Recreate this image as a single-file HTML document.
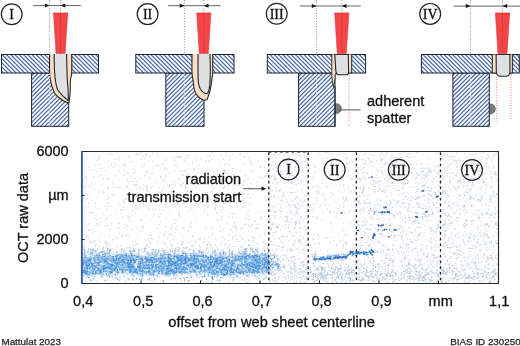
<!DOCTYPE html>
<html><head><meta charset="utf-8"><style>
html,body{margin:0;padding:0;background:#fff;width:520px;height:346px;overflow:hidden}
svg{display:block}
.rn{font-family:"Liberation Serif",serif;font-size:14px;fill:#111;stroke:#111;stroke-width:0.3px}
.ax{font-family:"Liberation Sans",sans-serif;font-size:14.5px;fill:#111;stroke:#111;stroke-width:0.3px}
.lb{font-family:"Liberation Sans",sans-serif;font-size:14.5px;fill:#111;stroke:#111;stroke-width:0.3px}
.ft{font-family:"Liberation Sans",sans-serif;font-size:9.8px;fill:#222;stroke:#222;stroke-width:0.25px}
</style></head><body>
<svg width="520" height="346" viewBox="0 0 520 346">
<defs>
</defs>
<circle cx="11.7" cy="14.3" r="10.4" fill="none" stroke="#222" stroke-width="1.2"/>
<text x="11.7" y="19.1" text-anchor="middle" class="rn">I</text>
<clipPath id="cIw"><rect x="31.6" y="73" width="37.1" height="53.3"/></clipPath>
<rect x="31.6" y="73" width="37.1" height="53.3" fill="#f5faff"/>
<g clip-path="url(#cIw)"><path d="M31,72L-24.3,127.3M35.25,72L-20.05,127.3M39.5,72L-15.8,127.3M43.75,72L-11.55,127.3M48,72L-7.3,127.3M52.25,72L-3.05,127.3M56.5,72L1.2,127.3M60.75,72L5.45,127.3M65,72L9.7,127.3M69.25,72L13.95,127.3M73.5,72L18.2,127.3M77.75,72L22.45,127.3M82,72L26.7,127.3M86.25,72L30.95,127.3M90.5,72L35.2,127.3M94.75,72L39.45,127.3M99,72L43.7,127.3M103.25,72L47.95,127.3M107.5,72L52.2,127.3M111.75,72L56.45,127.3M116,72L60.7,127.3M120.25,72L64.95,127.3M124.5,72L69.2,127.3" stroke="#3f5d9c" stroke-width="1.1" fill="none"/></g>
<rect x="31.6" y="73" width="37.1" height="53.3" fill="none" stroke="#1c2233" stroke-width="1"/>
<clipPath id="cIp"><rect x="1.5" y="54.5" width="97" height="18.5"/></clipPath>
<rect x="1.5" y="54.5" width="97" height="18.5" fill="#f5faff"/>
<g clip-path="url(#cIp)"><path d="M-20.2,53.5L0.3,74M-15.95,53.5L4.55,74M-11.7,53.5L8.8,74M-7.45,53.5L13.05,74M-3.2,53.5L17.3,74M1.05,53.5L21.55,74M5.3,53.5L25.8,74M9.55,53.5L30.05,74M13.8,53.5L34.3,74M18.05,53.5L38.55,74M22.3,53.5L42.8,74M26.55,53.5L47.05,74M30.8,53.5L51.3,74M35.05,53.5L55.55,74M39.3,53.5L59.8,74M43.55,53.5L64.05,74M47.8,53.5L68.3,74M52.05,53.5L72.55,74M56.3,53.5L76.8,74M60.55,53.5L81.05,74M64.8,53.5L85.3,74M69.05,53.5L89.55,74M73.3,53.5L93.8,74M77.55,53.5L98.05,74M81.8,53.5L102.3,74M86.05,53.5L106.55,74M90.3,53.5L110.8,74M94.55,53.5L115.05,74M98.8,53.5L119.3,74" stroke="#3f5d9c" stroke-width="1.1" fill="none"/></g>
<rect x="1.5" y="54.5" width="97" height="18.5" fill="none" stroke="#1c2233" stroke-width="1"/>
<circle cx="147.6" cy="14.1" r="10.4" fill="none" stroke="#222" stroke-width="1.2"/>
<text x="147.6" y="18.9" text-anchor="middle" class="rn">II</text>
<clipPath id="cIIw"><rect x="165.8" y="73" width="38.2" height="53.3"/></clipPath>
<rect x="165.8" y="73" width="38.2" height="53.3" fill="#f5faff"/>
<g clip-path="url(#cIIw)"><path d="M162.75,72L107.45,127.3M167,72L111.7,127.3M171.25,72L115.95,127.3M175.5,72L120.2,127.3M179.75,72L124.45,127.3M184,72L128.7,127.3M188.25,72L132.95,127.3M192.5,72L137.2,127.3M196.75,72L141.45,127.3M201,72L145.7,127.3M205.25,72L149.95,127.3M209.5,72L154.2,127.3M213.75,72L158.45,127.3M218,72L162.7,127.3M222.25,72L166.95,127.3M226.5,72L171.2,127.3M230.75,72L175.45,127.3M235,72L179.7,127.3M239.25,72L183.95,127.3M243.5,72L188.2,127.3M247.75,72L192.45,127.3M252,72L196.7,127.3M256.25,72L200.95,127.3M260.5,72L205.2,127.3" stroke="#3f5d9c" stroke-width="1.1" fill="none"/></g>
<rect x="165.8" y="73" width="38.2" height="53.3" fill="none" stroke="#1c2233" stroke-width="1"/>
<clipPath id="cIIp"><rect x="135.8" y="54.5" width="98.2" height="18.5"/></clipPath>
<rect x="135.8" y="54.5" width="98.2" height="18.5" fill="#f5faff"/>
<g clip-path="url(#cIIp)"><path d="M115.8,53.5L136.3,74M120.05,53.5L140.55,74M124.3,53.5L144.8,74M128.55,53.5L149.05,74M132.8,53.5L153.3,74M137.05,53.5L157.55,74M141.3,53.5L161.8,74M145.55,53.5L166.05,74M149.8,53.5L170.3,74M154.05,53.5L174.55,74M158.3,53.5L178.8,74M162.55,53.5L183.05,74M166.8,53.5L187.3,74M171.05,53.5L191.55,74M175.3,53.5L195.8,74M179.55,53.5L200.05,74M183.8,53.5L204.3,74M188.05,53.5L208.55,74M192.3,53.5L212.8,74M196.55,53.5L217.05,74M200.8,53.5L221.3,74M205.05,53.5L225.55,74M209.3,53.5L229.8,74M213.55,53.5L234.05,74M217.8,53.5L238.3,74M222.05,53.5L242.55,74M226.3,53.5L246.8,74M230.55,53.5L251.05,74M234.8,53.5L255.3,74" stroke="#3f5d9c" stroke-width="1.1" fill="none"/></g>
<rect x="135.8" y="54.5" width="98.2" height="18.5" fill="none" stroke="#1c2233" stroke-width="1"/>
<circle cx="276.7" cy="13.7" r="10.4" fill="none" stroke="#222" stroke-width="1.2"/>
<text x="276.7" y="18.5" text-anchor="middle" class="rn">III</text>
<circle cx="336.4" cy="108.6" r="4.9" fill="#7c7c7c" stroke="#5a5a5a" stroke-width="0.8"/>
<clipPath id="cIIIw"><rect x="298.6" y="73" width="36.4" height="53.3"/></clipPath>
<rect x="298.6" y="73" width="36.4" height="53.3" fill="#f5faff"/>
<g clip-path="url(#cIIIw)"><path d="M298.75,72L243.45,127.3M303,72L247.7,127.3M307.25,72L251.95,127.3M311.5,72L256.2,127.3M315.75,72L260.45,127.3M320,72L264.7,127.3M324.25,72L268.95,127.3M328.5,72L273.2,127.3M332.75,72L277.45,127.3M337,72L281.7,127.3M341.25,72L285.95,127.3M345.5,72L290.2,127.3M349.75,72L294.45,127.3M354,72L298.7,127.3M358.25,72L302.95,127.3M362.5,72L307.2,127.3M366.75,72L311.45,127.3M371,72L315.7,127.3M375.25,72L319.95,127.3M379.5,72L324.2,127.3M383.75,72L328.45,127.3M388,72L332.7,127.3M392.25,72L336.95,127.3" stroke="#3f5d9c" stroke-width="1.1" fill="none"/></g>
<rect x="298.6" y="73" width="36.4" height="53.3" fill="none" stroke="#1c2233" stroke-width="1"/>
<clipPath id="cIIIp"><rect x="267.3" y="54.5" width="98.3" height="18.5"/></clipPath>
<rect x="267.3" y="54.5" width="98.3" height="18.5" fill="#f5faff"/>
<g clip-path="url(#cIIIp)"><path d="M247.55,53.5L268.05,74M251.8,53.5L272.3,74M256.05,53.5L276.55,74M260.3,53.5L280.8,74M264.55,53.5L285.05,74M268.8,53.5L289.3,74M273.05,53.5L293.55,74M277.3,53.5L297.8,74M281.55,53.5L302.05,74M285.8,53.5L306.3,74M290.05,53.5L310.55,74M294.3,53.5L314.8,74M298.55,53.5L319.05,74M302.8,53.5L323.3,74M307.05,53.5L327.55,74M311.3,53.5L331.8,74M315.55,53.5L336.05,74M319.8,53.5L340.3,74M324.05,53.5L344.55,74M328.3,53.5L348.8,74M332.55,53.5L353.05,74M336.8,53.5L357.3,74M341.05,53.5L361.55,74M345.3,53.5L365.8,74M349.55,53.5L370.05,74M353.8,53.5L374.3,74M358.05,53.5L378.55,74M362.3,53.5L382.8,74M366.55,53.5L387.05,74" stroke="#3f5d9c" stroke-width="1.1" fill="none"/></g>
<rect x="267.3" y="54.5" width="98.3" height="18.5" fill="none" stroke="#1c2233" stroke-width="1"/>
<circle cx="430.2" cy="13.9" r="10.4" fill="none" stroke="#222" stroke-width="1.2"/>
<text x="430.2" y="18.7" text-anchor="middle" class="rn">IV</text>
<circle cx="490.4" cy="109" r="4.9" fill="#7c7c7c" stroke="#5a5a5a" stroke-width="0.8"/>
<clipPath id="cIVw"><rect x="452.9" y="73" width="36.4" height="53.3"/></clipPath>
<rect x="452.9" y="73" width="36.4" height="53.3" fill="#f5faff"/>
<g clip-path="url(#cIVw)"><path d="M451.75,72L396.45,127.3M456,72L400.7,127.3M460.25,72L404.95,127.3M464.5,72L409.2,127.3M468.75,72L413.45,127.3M473,72L417.7,127.3M477.25,72L421.95,127.3M481.5,72L426.2,127.3M485.75,72L430.45,127.3M490,72L434.7,127.3M494.25,72L438.95,127.3M498.5,72L443.2,127.3M502.75,72L447.45,127.3M507,72L451.7,127.3M511.25,72L455.95,127.3M515.5,72L460.2,127.3M519.75,72L464.45,127.3M524,72L468.7,127.3M528.25,72L472.95,127.3M532.5,72L477.2,127.3M536.75,72L481.45,127.3M541,72L485.7,127.3M545.25,72L489.95,127.3" stroke="#3f5d9c" stroke-width="1.1" fill="none"/></g>
<rect x="452.9" y="73" width="36.4" height="53.3" fill="none" stroke="#1c2233" stroke-width="1"/>
<clipPath id="cIVp"><rect x="421.4" y="54.5" width="97.9" height="18.5"/></clipPath>
<rect x="421.4" y="54.5" width="97.9" height="18.5" fill="#f5faff"/>
<g clip-path="url(#cIVp)"><path d="M400.55,53.5L421.05,74M404.8,53.5L425.3,74M409.05,53.5L429.55,74M413.3,53.5L433.8,74M417.55,53.5L438.05,74M421.8,53.5L442.3,74M426.05,53.5L446.55,74M430.3,53.5L450.8,74M434.55,53.5L455.05,74M438.8,53.5L459.3,74M443.05,53.5L463.55,74M447.3,53.5L467.8,74M451.55,53.5L472.05,74M455.8,53.5L476.3,74M460.05,53.5L480.55,74M464.3,53.5L484.8,74M468.55,53.5L489.05,74M472.8,53.5L493.3,74M477.05,53.5L497.55,74M481.3,53.5L501.8,74M485.55,53.5L506.05,74M489.8,53.5L510.3,74M494.05,53.5L514.55,74M498.3,53.5L518.8,74M502.55,53.5L523.05,74M506.8,53.5L527.3,74M511.05,53.5L531.55,74M515.3,53.5L535.8,74M519.55,53.5L540.05,74" stroke="#3f5d9c" stroke-width="1.1" fill="none"/></g>
<rect x="421.4" y="54.5" width="97.9" height="18.5" fill="none" stroke="#1c2233" stroke-width="1"/>
<path d="M49.6,54 C49.6,57.17 49.45,68.67 49.6,73 C49.75,77.33 50.22,78.08 50.5,80 C50.78,81.92 50.9,83 51.3,84.5 C51.7,86 52.27,87.45 52.9,89 C53.53,90.55 54.02,92.3 55.1,93.8 C56.18,95.3 57.95,96.82 59.4,98 C60.85,99.18 62.25,100.02 63.8,100.9 C65.35,101.78 67.88,102.9 68.7,103.3 L68.7,103.3 C68.85,102.42 69.33,100.22 69.6,98 C69.87,95.78 70.17,93 70.3,90 C70.43,87 70.17,82.83 70.4,80 C70.63,77.17 71.48,77.33 71.7,73 C71.92,68.67 71.7,57.17 71.7,54 Z" fill="#f9dec4"/>
<path d="M54.1,54 C54.17,56.67 54.27,65.5 54.5,70 C54.73,74.5 55.05,77.88 55.5,81 C55.95,84.12 56.55,86.87 57.2,88.7 C57.85,90.53 58.48,90.8 59.4,92 C60.32,93.2 61.6,94.8 62.7,95.9 C63.8,97 65.07,97.82 66,98.6 C66.93,99.38 67.92,100.27 68.3,100.6 L68.3,100.6 C68.27,98.83 68.28,93.77 68.1,90 C67.92,86.23 67.45,84 67.2,78 C66.95,72 66.7,58 66.6,54 Z" fill="#dfe0e3"/>
<path d="M54.1,54 C54.17,56.67 54.27,65.5 54.5,70 C54.73,74.5 55.05,77.88 55.5,81 C55.95,84.12 56.55,86.87 57.2,88.7 C57.85,90.53 58.48,90.8 59.4,92 C60.32,93.2 61.6,94.8 62.7,95.9 C63.8,97 65.07,97.82 66,98.6 C66.93,99.38 67.92,100.27 68.3,100.6" fill="none" stroke="#262626" stroke-width="1.1"/>
<path d="M66.6,54 C66.7,58 66.95,72 67.2,78 C67.45,84 67.92,86.23 68.1,90 C68.28,93.77 68.27,98.83 68.3,100.6" fill="none" stroke="#262626" stroke-width="1.1"/>
<path d="M49.6,54 C49.6,57.17 49.45,68.67 49.6,73 C49.75,77.33 50.22,78.08 50.5,80 C50.78,81.92 50.9,83 51.3,84.5 C51.7,86 52.27,87.45 52.9,89 C53.53,90.55 54.02,92.3 55.1,93.8 C56.18,95.3 57.95,96.82 59.4,98 C60.85,99.18 62.25,100.02 63.8,100.9 C65.35,101.78 67.88,102.9 68.7,103.3" fill="none" stroke="#262626" stroke-width="1.1"/>
<path d="M71.7,54 C71.7,57.17 71.92,68.67 71.7,73 C71.48,77.33 70.63,77.17 70.4,80 C70.17,82.83 70.43,87 70.3,90 C70.17,93 69.87,95.78 69.6,98 C69.33,100.22 68.85,102.42 68.7,103.3" fill="none" stroke="#262626" stroke-width="1.1"/>
<path d="M192,54 C192,57.17 191.83,68.67 192,73 C192.17,77.33 192.65,77.42 193,80 C193.35,82.58 193.55,86.13 194.1,88.5 C194.65,90.87 195.3,92.58 196.3,94.2 C197.3,95.82 198.78,97.2 200.1,98.2 C201.42,99.2 203.02,99.97 204.2,100.2 C205.38,100.43 206.7,99.7 207.2,99.6 L207.2,99.6 C207.65,98.17 209.22,93.6 209.9,91 C210.58,88.4 210.93,86.33 211.3,84 C211.67,81.67 211.87,78.83 212.1,77 C212.33,75.17 212.6,76.83 212.7,73 C212.8,69.17 212.7,57.17 212.7,54 Z" fill="#f9dec4"/>
<path d="M198.1,54 C198.1,58 197.9,72.55 198.1,78 C198.3,83.45 198.68,84.53 199.3,86.7 C199.92,88.87 200.85,89.92 201.8,91 C202.75,92.08 204.07,92.73 205,93.2 C205.93,93.67 207,93.7 207.4,93.8 L207.4,93.8 C207.72,92.92 208.85,90.8 209.3,88.5 C209.75,86.2 209.93,83.42 210.1,80 C210.27,76.58 210.32,72.33 210.3,68 C210.28,63.67 210.05,56.33 210,54 Z" fill="#dfe0e3"/>
<path d="M198.1,54 C198.1,58 197.9,72.55 198.1,78 C198.3,83.45 198.68,84.53 199.3,86.7 C199.92,88.87 200.85,89.92 201.8,91 C202.75,92.08 204.07,92.73 205,93.2 C205.93,93.67 207,93.7 207.4,93.8" fill="none" stroke="#262626" stroke-width="1.1"/>
<path d="M210,54 C210.05,56.33 210.28,63.67 210.3,68 C210.32,72.33 210.27,76.58 210.1,80 C209.93,83.42 209.75,86.2 209.3,88.5 C208.85,90.8 207.72,92.92 207.4,93.8" fill="none" stroke="#262626" stroke-width="1.1"/>
<path d="M192,54 C192,57.17 191.83,68.67 192,73 C192.17,77.33 192.65,77.42 193,80 C193.35,82.58 193.55,86.13 194.1,88.5 C194.65,90.87 195.3,92.58 196.3,94.2 C197.3,95.82 198.78,97.2 200.1,98.2 C201.42,99.2 203.02,99.97 204.2,100.2 C205.38,100.43 206.7,99.7 207.2,99.6" fill="none" stroke="#262626" stroke-width="1.1"/>
<path d="M212.7,54 C212.7,57.17 212.8,69.17 212.7,73 C212.6,76.83 212.33,75.17 212.1,77 C211.87,78.83 211.67,81.67 211.3,84 C210.93,86.33 210.58,88.4 209.9,91 C209.22,93.6 207.65,98.17 207.2,99.6" fill="none" stroke="#262626" stroke-width="1.1"/>
<path d="M331.8,54.5 L351.7,54.5 L351.7,73 L335.3,73 L335.3,78 L334.3,83 L333.4,87.3 L332.4,82 L331.8,76 Z" fill="#f9dec4"/>
<path d="M334.8,54.5 L348.3,54.5 L348.6,71.7 C348.6,73.8 347.8,74.8 346.5,74.8 L338.7,74.8 C337.2,74.8 336.2,73.8 335.9,71.7 Z" fill="#dfe0e3" stroke="#262626" stroke-width="1.1"/>
<path d="M331.8,54.5 L331.8,76 L332.4,82 L333.4,87.3 L334.3,83 L335.1,78 L335.1,74" fill="none" stroke="#262626" stroke-width="0.9"/>
<path d="M348.6,73 L351.7,73 L351.7,54.5" fill="none" stroke="#1c2233" stroke-width="1"/>
<line x1="335" y1="86.5" x2="335" y2="126.3" stroke="#1c2233" stroke-width="1"/>
<path d="M492.3,54.5 L512.4,54.5 L512.4,73 L492.3,73 Z" fill="#f9dec4"/>
<path d="M492.3,73 L512.4,73" stroke="#262626" stroke-width="1"/>
<path d="M496.1,54.5 L509.9,54.5 L510,72 C509.8,74.6 508.4,76.2 506,76.2 L500.5,76.2 C498,76.2 496.6,74.6 496.3,72 Z" fill="#dfe0e3" stroke="#262626" stroke-width="1.1"/>
<line x1="512.4" y1="54.5" x2="512.4" y2="73" stroke="#1c2233" stroke-width="1"/>
<line x1="492.3" y1="54.5" x2="492.3" y2="73" stroke="#1c2233" stroke-width="1"/>
<line x1="33" y1="5.6" x2="80.8" y2="5.6" stroke="#666" stroke-width="1"/>
<path d="M44.9,3.6L49.6,5.6L44.9,7.6z" fill="#111"/>
<path d="M65.3,3.6L60.6,5.6L65.3,7.6z" fill="#111"/>
<line x1="49.6" y1="0" x2="49.6" y2="54.5" stroke="#7a7a7a" stroke-width="0.8" stroke-dasharray="1 1.6"/>
<line x1="49.6" y1="73.5" x2="49.6" y2="126.3" stroke="#d4dcea" stroke-width="1" stroke-dasharray="1.6 1"/>
<path d="M53.5,13.1 L67.7,13.1 L65.1,53.4 L56.1,53.4 Z" fill="#f44646" stroke="#e0303c" stroke-width="0.6"/>
<line x1="60.6" y1="0" x2="60.6" y2="12.8" stroke="#7a7a7a" stroke-width="0.8" stroke-dasharray="1 1.6"/>
<line x1="60.6" y1="12.8" x2="60.6" y2="53.4" stroke="#b02838" stroke-width="0.9" stroke-dasharray="2 1" opacity="0.6"/>
<line x1="53.3" y1="13.1" x2="67.9" y2="13.1" stroke="#d02838" stroke-width="0.6" opacity="0.6"/>
<line x1="168" y1="5.7" x2="220.7" y2="5.7" stroke="#666" stroke-width="1"/>
<path d="M179.7,3.7L184.4,5.7L179.7,7.7z" fill="#111"/>
<path d="M208.5,3.7L203.8,5.7L208.5,7.7z" fill="#111"/>
<line x1="184.4" y1="0" x2="184.4" y2="54.5" stroke="#7a7a7a" stroke-width="0.8" stroke-dasharray="1 1.6"/>
<line x1="184.4" y1="73.5" x2="184.4" y2="126.3" stroke="#d4dcea" stroke-width="1" stroke-dasharray="1.6 1"/>
<path d="M196.7,13.1 L210.9,13.1 L208.3,53.4 L199.3,53.4 Z" fill="#f44646" stroke="#e0303c" stroke-width="0.6"/>
<line x1="203.8" y1="0" x2="203.8" y2="12.8" stroke="#7a7a7a" stroke-width="0.8" stroke-dasharray="1 1.6"/>
<line x1="203.8" y1="12.8" x2="203.8" y2="53.4" stroke="#b02838" stroke-width="0.9" stroke-dasharray="2 1" opacity="0.6"/>
<line x1="196.5" y1="13.1" x2="211.1" y2="13.1" stroke="#d02838" stroke-width="0.6" opacity="0.6"/>
<line x1="299.6" y1="6.0" x2="360.8" y2="6.0" stroke="#666" stroke-width="1"/>
<path d="M311.8,4L316.5,6.0L311.8,8z" fill="#111"/>
<path d="M346.5,4L341.8,6.0L346.5,8z" fill="#111"/>
<line x1="316.5" y1="0" x2="316.5" y2="54.5" stroke="#7a7a7a" stroke-width="0.8" stroke-dasharray="1 1.6"/>
<line x1="316.5" y1="73.5" x2="316.5" y2="126.3" stroke="#d4dcea" stroke-width="1" stroke-dasharray="1.6 1"/>
<path d="M334.7,13.1 L348.9,13.1 L346.3,53.4 L337.3,53.4 Z" fill="#f44646" stroke="#e0303c" stroke-width="0.6"/>
<line x1="341.8" y1="0" x2="341.8" y2="12.8" stroke="#7a7a7a" stroke-width="0.8" stroke-dasharray="1 1.6"/>
<line x1="341.8" y1="12.8" x2="341.8" y2="53.4" stroke="#b02838" stroke-width="0.9" stroke-dasharray="2 1" opacity="0.6"/>
<line x1="334.5" y1="13.1" x2="349.1" y2="13.1" stroke="#d02838" stroke-width="0.6" opacity="0.6"/>
<line x1="453.3" y1="6.1" x2="520" y2="6.1" stroke="#666" stroke-width="1"/>
<path d="M465.8,4.1L470.5,6.1L465.8,8.1z" fill="#111"/>
<path d="M507.2,4.1L502.5,6.1L507.2,8.1z" fill="#111"/>
<line x1="470.5" y1="0" x2="470.5" y2="54.5" stroke="#7a7a7a" stroke-width="0.8" stroke-dasharray="1 1.6"/>
<line x1="470.5" y1="73.5" x2="470.5" y2="126.3" stroke="#d4dcea" stroke-width="1" stroke-dasharray="1.6 1"/>
<path d="M495.4,13.1 L509.6,13.1 L507,53.4 L498,53.4 Z" fill="#f44646" stroke="#e0303c" stroke-width="0.6"/>
<line x1="502.5" y1="0" x2="502.5" y2="12.8" stroke="#7a7a7a" stroke-width="0.8" stroke-dasharray="1 1.6"/>
<line x1="502.5" y1="12.8" x2="502.5" y2="53.4" stroke="#b02838" stroke-width="0.9" stroke-dasharray="2 1" opacity="0.6"/>
<line x1="495.2" y1="13.1" x2="509.8" y2="13.1" stroke="#d02838" stroke-width="0.6" opacity="0.6"/>
<line x1="349.1" y1="75.5" x2="349.1" y2="126" stroke="#e46060" stroke-width="0.8" stroke-dasharray="1 1.6"/>
<line x1="496.7" y1="76.5" x2="496.7" y2="121" stroke="#e46060" stroke-width="0.8" stroke-dasharray="1 1.6"/>
<line x1="511" y1="74" x2="511" y2="121" stroke="#e46060" stroke-width="0.8" stroke-dasharray="1 1.6"/>
<line x1="339" y1="109.9" x2="360.4" y2="109.9" stroke="#555" stroke-width="1"/>
<text x="367" y="106.2" class="lb">adherent</text>
<text x="367" y="123.4" class="lb">spatter</text>
<defs><linearGradient id="bg1" x1="0" y1="0" x2="0" y2="1"><stop offset="0" stop-color="#d4e8fa" stop-opacity="0"/><stop offset="0.22" stop-color="#d2e7fa" stop-opacity="0.8"/><stop offset="0.75" stop-color="#d2e7fa" stop-opacity="0.8"/><stop offset="1" stop-color="#d4e8fa" stop-opacity="0"/></linearGradient></defs>
<rect x="82.5" y="252" width="186.0" height="26" fill="url(#bg1)"/>
<g stroke-linecap="round">
<path d="M216.7 172.1h.2M352.3 161.9h.2M304.6 200.0h.2M106.5 218.5h.2M98.0 208.9h.2M111.5 164.3h.2M258.5 260.0h.2M133.8 181.5h.2M342.6 275.7h.2M321.7 204.1h.2M487.2 158.6h.2M438.3 190.1h.2M142.3 167.8h.2M210.4 258.6h.2M157.4 228.1h.2M347.3 200.9h.2M309.5 160.7h.2M107.2 179.3h.2M364.5 208.1h.2M212.7 228.6h.2M270.3 191.5h.2M411.8 243.4h.2M183.7 227.2h.2M300.2 266.3h.2M384.9 189.9h.2M488.8 167.8h.2M255.8 250.9h.2M145.5 216.1h.2M98.8 239.4h.2M399.4 227.0h.2M445.4 193.3h.2M370.7 229.8h.2M322.9 211.8h.2M430.7 275.3h.2M279.0 238.8h.2M107.6 243.7h.2M350.7 281.6h.2M423.2 189.5h.2M242.4 239.4h.2M91.9 212.5h.2M152.2 167.7h.2M106.9 252.4h.2M136.1 184.7h.2M244.5 265.8h.2M115.9 210.9h.2M310.2 267.3h.2M422.1 264.8h.2M197.9 206.5h.2M231.2 267.4h.2M479.5 172.1h.2M155.5 182.7h.2M179.2 215.5h.2M326.7 186.7h.2M84.2 207.0h.2M235.6 226.1h.2M477.6 242.3h.2M296.2 232.8h.2M362.8 159.5h.2M455.4 253.9h.2M445.0 256.2h.2M245.1 204.4h.2M125.4 235.0h.2M108.3 161.3h.2M169.0 173.6h.2M223.5 159.3h.2M82.6 172.2h.2M124.6 199.8h.2M93.1 266.2h.2M337.0 171.8h.2M187.1 197.7h.2M233.4 168.5h.2M434.4 281.6h.2M275.7 215.4h.2M118.1 165.8h.2M224.5 186.9h.2M426.1 173.5h.2M92.1 276.1h.2M301.5 171.6h.2M307.6 156.0h.2M301.4 279.7h.2M440.3 243.0h.2M190.7 200.2h.2M151.7 252.9h.2M303.3 253.8h.2M219.1 181.5h.2M418.9 280.5h.2M435.9 257.3h.2M421.7 248.7h.2M176.5 219.8h.2M229.9 156.3h.2M94.1 188.8h.2M189.9 242.5h.2M479.0 210.6h.2M470.9 280.9h.2M478.3 199.9h.2M173.9 182.0h.2M164.0 179.1h.2M341.2 269.5h.2M430.9 214.8h.2M353.2 256.5h.2M117.6 238.4h.2M459.6 254.2h.2M393.4 214.6h.2M156.5 255.1h.2M220.3 256.6h.2M485.3 204.0h.2M248.9 275.6h.2M382.9 174.6h.2M135.2 172.1h.2M457.6 257.3h.2M143.1 259.9h.2M488.8 237.9h.2M227.7 223.8h.2M136.8 154.4h.2M484.9 237.0h.2M300.8 273.9h.2M262.3 265.8h.2M424.9 179.9h.2M186.9 190.6h.2M182.2 228.7h.2M190.0 207.0h.2M136.8 270.8h.2M229.1 212.1h.2M324.3 270.1h.2M256.9 271.8h.2M290.4 221.6h.2M299.5 154.9h.2M264.9 176.3h.2M84.1 256.4h.2M153.9 214.1h.2M383.1 224.8h.2M217.6 219.9h.2M312.7 254.5h.2M126.5 225.3h.2M185.5 188.5h.2M402.6 218.5h.2M315.3 251.3h.2M460.7 210.1h.2M336.4 218.2h.2M294.8 242.6h.2M270.0 221.8h.2M280.6 274.9h.2M372.3 266.4h.2M473.0 186.2h.2M314.4 275.1h.2M430.7 170.3h.2M132.9 210.0h.2M112.6 183.8h.2M112.8 239.5h.2M407.4 269.1h.2M146.5 245.6h.2M356.2 171.1h.2M448.4 278.3h.2M173.5 276.3h.2M247.6 215.8h.2M492.8 260.7h.2M149.4 208.6h.2M296.2 196.6h.2M163.6 193.9h.2M381.8 155.0h.2M312.2 209.8h.2M90.0 195.6h.2M341.1 219.1h.2M109.1 280.6h.2M409.3 278.8h.2M125.9 187.0h.2M98.9 253.8h.2M194.6 169.3h.2M257.5 271.0h.2M422.0 186.1h.2M144.4 272.0h.2M319.0 243.6h.2M119.6 160.0h.2M367.8 207.8h.2M112.5 274.5h.2M345.5 256.7h.2M117.2 263.8h.2M110.1 264.7h.2M270.6 196.6h.2M311.7 273.0h.2M193.5 169.3h.2M300.9 183.5h.2M127.9 173.5h.2M103.4 178.7h.2M211.8 192.2h.2M397.3 190.2h.2M289.8 175.6h.2M226.3 154.9h.2M186.3 154.5h.2M386.4 224.1h.2M161.0 214.2h.2M469.9 166.3h.2M421.9 208.7h.2M287.7 261.0h.2M245.4 218.4h.2M367.6 280.2h.2M224.6 260.7h.2M375.4 235.2h.2M250.2 197.7h.2M105.0 169.4h.2M111.8 248.8h.2M188.4 173.7h.2M117.5 261.9h.2M443.3 239.7h.2M199.4 184.0h.2M204.0 212.2h.2M147.8 210.5h.2M191.6 277.5h.2M485.7 223.6h.2M183.8 278.0h.2M210.8 198.9h.2M82.9 202.1h.2M279.2 217.9h.2M165.8 218.1h.2M84.6 186.8h.2M119.7 204.4h.2M99.8 155.4h.2M208.6 182.8h.2M325.2 221.3h.2M393.6 238.0h.2M379.3 266.8h.2M244.0 194.9h.2M490.7 171.9h.2M382.7 236.1h.2M100.7 261.1h.2M452.2 234.1h.2M386.7 258.1h.2M140.2 220.6h.2M291.6 261.0h.2M416.0 259.9h.2M324.6 268.6h.2M365.6 242.6h.2M177.8 156.6h.2M137.7 199.4h.2M126.0 261.2h.2M314.0 234.1h.2M342.1 241.0h.2M285.3 152.9h.2M413.1 249.8h.2M291.0 222.1h.2M355.8 161.1h.2M387.9 185.3h.2M113.4 187.0h.2M384.8 179.2h.2M389.2 279.3h.2M287.2 202.2h.2M281.0 241.4h.2M400.4 232.7h.2M348.9 162.6h.2M143.6 185.5h.2M390.6 192.1h.2M317.8 154.1h.2M107.6 187.4h.2M361.0 242.5h.2M362.6 190.3h.2M296.6 212.9h.2M275.8 167.9h.2M452.9 178.4h.2M487.9 274.2h.2M89.8 212.2h.2M422.3 278.4h.2M268.8 187.4h.2M169.5 275.4h.2M169.8 228.1h.2M141.3 220.6h.2M477.4 169.7h.2M422.5 218.6h.2M450.1 243.9h.2M178.4 269.2h.2M284.0 155.7h.2M84.0 216.4h.2M269.3 191.8h.2M140.8 197.2h.2M213.5 261.7h.2M83.2 250.1h.2M430.3 168.1h.2M466.5 245.2h.2M456.2 190.2h.2M236.8 203.6h.2M496.5 229.1h.2M232.0 208.1h.2M196.6 158.8h.2M124.7 261.0h.2M200.9 274.1h.2M185.8 187.0h.2M294.3 177.2h.2M237.3 276.8h.2M449.0 258.1h.2M344.0 271.2h.2M472.4 223.9h.2M380.8 158.9h.2M386.1 211.1h.2M394.5 236.3h.2M201.1 158.9h.2M466.6 169.1h.2M278.2 197.2h.2M205.9 248.6h.2M487.2 186.3h.2M354.4 191.6h.2M313.5 203.8h.2M151.9 173.5h.2M168.7 270.3h.2M288.5 181.1h.2M458.1 282.0h.2M269.0 170.6h.2M162.3 164.3h.2M224.2 164.3h.2M181.6 186.1h.2M318.6 267.8h.2M393.2 206.2h.2M254.1 220.6h.2M238.7 196.5h.2M108.2 188.6h.2M483.6 168.9h.2M291.2 234.4h.2M440.2 180.6h.2M194.8 184.8h.2M248.2 210.5h.2M477.9 262.8h.2M444.3 155.3h.2M95.9 244.7h.2M453.8 214.0h.2M325.9 152.5h.2M244.8 273.0h.2M424.7 263.7h.2M485.5 184.8h.2M127.7 172.6h.2M299.0 241.2h.2M472.7 246.3h.2M350.8 251.9h.2M272.1 224.2h.2M98.9 254.2h.2M178.9 272.1h.2M350.1 192.0h.2M135.5 185.2h.2M346.2 243.3h.2M129.0 161.6h.2M299.9 228.3h.2M243.4 181.6h.2M331.6 153.9h.2M207.5 212.4h.2M480.0 236.3h.2M448.8 214.3h.2M179.8 184.6h.2M480.7 244.1h.2M209.9 155.3h.2M289.0 240.2h.2M256.6 185.9h.2M359.1 272.8h.2M176.5 156.9h.2M222.6 207.2h.2M365.4 178.3h.2M412.9 248.6h.2M291.8 179.2h.2M484.5 193.0h.2M422.4 182.5h.2M174.3 251.4h.2M204.7 276.3h.2M288.0 176.9h.2M175.1 206.7h.2M358.3 275.8h.2M143.2 203.6h.2M170.8 279.1h.2M141.3 159.2h.2M107.4 203.6h.2M454.8 267.4h.2M386.2 282.2h.2M468.6 195.3h.2M159.4 274.2h.2M391.8 156.6h.2M357.9 201.7h.2M237.5 195.6h.2M152.7 152.9h.2M198.5 198.2h.2M478.6 168.6h.2M482.2 179.5h.2M230.3 259.3h.2M423.2 208.7h.2M102.9 214.1h.2M237.0 272.0h.2M162.5 199.9h.2M454.3 156.4h.2M252.8 258.0h.2M400.3 157.8h.2M96.9 160.6h.2M463.9 185.9h.2M392.3 269.3h.2M223.0 187.9h.2M479.5 232.7h.2M191.2 245.7h.2M213.7 188.3h.2M84.1 250.7h.2M462.4 234.9h.2M473.5 155.7h.2M179.4 214.3h.2M479.1 276.5h.2M242.7 185.1h.2M260.7 216.7h.2M467.2 176.3h.2M415.2 248.5h.2M423.5 253.0h.2M334.2 195.1h.2M215.0 199.5h.2M406.7 162.8h.2M164.3 250.4h.2M185.0 160.9h.2M96.5 224.3h.2M217.5 279.9h.2M448.7 280.9h.2M192.3 163.4h.2M122.5 217.3h.2M376.7 210.6h.2M179.6 206.7h.2M339.6 240.1h.2M392.5 262.6h.2M357.9 168.3h.2M431.0 190.7h.2M317.5 201.0h.2M388.4 178.4h.2M185.1 184.4h.2M146.1 267.4h.2M322.2 194.9h.2M246.7 281.5h.2M292.8 182.6h.2M417.6 237.4h.2M493.3 165.8h.2M279.3 259.0h.2M430.9 271.4h.2M99.2 190.7h.2M131.9 177.1h.2M485.8 228.3h.2M468.1 200.9h.2M441.5 210.9h.2M190.2 253.6h.2M474.5 166.3h.2M329.6 233.1h.2M172.7 200.4h.2M141.1 179.0h.2M188.2 230.4h.2M352.6 178.9h.2M87.2 195.0h.2M363.7 176.6h.2M211.9 178.9h.2M412.1 223.7h.2M108.7 165.7h.2M246.4 224.0h.2M347.4 164.3h.2M150.3 242.9h.2M252.4 189.3h.2M210.0 276.4h.2M212.0 226.1h.2M230.6 206.6h.2M440.7 282.1h.2M233.3 178.1h.2M384.3 179.0h.2M84.9 269.7h.2M258.1 259.1h.2M250.9 267.3h.2M273.5 173.6h.2M88.6 224.2h.2M348.1 270.8h.2M119.4 233.4h.2M236.2 218.1h.2M143.0 189.3h.2M298.5 272.8h.2M127.6 216.3h.2M416.1 278.2h.2M164.3 169.0h.2M473.4 279.3h.2M282.6 159.4h.2M466.4 202.9h.2M457.3 233.1h.2M424.3 173.3h.2M408.2 181.4h.2M250.2 262.5h.2M426.2 176.3h.2M172.9 204.5h.2M297.2 202.4h.2M133.5 184.6h.2M383.0 269.1h.2M99.5 225.6h.2M396.5 157.5h.2M429.9 167.8h.2M331.0 224.0h.2M342.4 192.3h.2M256.6 228.2h.2M259.0 238.1h.2M267.7 209.5h.2M92.2 233.0h.2M285.4 183.1h.2M399.0 253.9h.2M272.5 175.8h.2M278.6 166.4h.2M135.7 208.5h.2M120.5 210.0h.2M294.0 157.8h.2M346.3 163.2h.2M386.5 253.6h.2M294.5 159.6h.2M291.4 201.6h.2M476.6 170.2h.2M437.8 282.0h.2M385.9 258.4h.2M162.8 280.1h.2M286.4 276.9h.2M462.2 174.0h.2M409.3 273.5h.2M109.7 198.1h.2M395.9 173.1h.2M454.1 188.2h.2M420.6 171.2h.2M290.7 272.1h.2M168.9 186.7h.2M292.2 194.0h.2M97.8 176.2h.2M149.3 274.2h.2M364.2 268.9h.2M152.4 254.5h.2M130.2 221.5h.2M346.3 199.3h.2M444.3 224.7h.2M322.9 267.2h.2M125.9 281.6h.2M343.5 203.8h.2M413.1 186.9h.2M493.1 227.6h.2M231.8 251.9h.2M265.8 175.5h.2M390.7 158.8h.2M422.3 185.5h.2M347.5 280.4h.2M325.3 238.8h.2M212.1 152.7h.2M96.5 171.9h.2M337.9 208.7h.2M295.0 268.9h.2M137.2 182.0h.2M353.2 155.4h.2M83.6 198.6h.2M126.6 198.9h.2M175.5 228.4h.2M326.7 179.0h.2M341.1 214.2h.2M138.4 274.3h.2M183.5 171.9h.2M122.2 235.5h.2M443.6 254.2h.2M249.1 186.9h.2M87.3 236.3h.2M315.6 198.0h.2M350.1 210.2h.2M471.0 247.9h.2M185.5 270.0h.2M100.7 221.6h.2M250.8 183.4h.2M106.7 253.8h.2M87.6 224.1h.2M472.5 171.0h.2M165.2 231.6h.2M292.6 235.9h.2M419.6 175.2h.2M210.7 191.5h.2M102.6 268.1h.2M407.0 245.5h.2M85.1 262.3h.2M391.4 213.0h.2M390.0 211.3h.2M176.2 166.2h.2M178.8 157.5h.2M221.6 250.0h.2M370.6 262.4h.2M377.5 187.1h.2M312.0 209.2h.2M409.3 220.5h.2M192.5 236.0h.2M482.6 180.7h.2M447.3 154.5h.2M190.4 183.2h.2M390.8 275.3h.2M391.8 195.0h.2M447.3 195.2h.2M181.6 270.5h.2M343.9 242.6h.2M358.2 279.8h.2M277.1 261.7h.2M371.7 264.0h.2M263.7 246.7h.2M318.9 192.5h.2M170.4 233.4h.2M114.7 270.9h.2M142.4 156.0h.2M126.7 273.3h.2M225.4 170.9h.2M94.4 157.9h.2M369.6 234.9h.2M371.4 248.3h.2M109.8 229.3h.2M233.1 258.8h.2M422.2 268.4h.2M109.8 265.3h.2M461.5 275.3h.2M126.9 179.2h.2M128.9 157.0h.2M433.9 258.1h.2M345.4 259.8h.2M344.3 189.9h.2M123.9 165.2h.2M396.4 179.1h.2M214.8 207.6h.2M91.2 185.9h.2M199.6 245.5h.2M235.0 194.2h.2M482.1 218.0h.2M435.4 232.9h.2M95.3 206.2h.2M263.4 253.0h.2M226.2 244.1h.2M305.5 180.7h.2M439.9 164.3h.2M422.3 174.6h.2M83.0 178.8h.2M398.4 279.6h.2M84.3 216.3h.2M286.2 256.1h.2M159.0 216.8h.2M226.4 260.6h.2M190.5 275.2h.2M200.1 180.4h.2M372.4 217.3h.2M128.1 235.2h.2M116.0 254.9h.2M371.5 254.8h.2M342.8 198.7h.2M248.8 203.8h.2M451.6 163.7h.2M450.8 155.8h.2M167.9 186.7h.2M456.1 217.7h.2M239.7 267.4h.2M179.3 212.4h.2M302.8 250.6h.2M394.6 236.5h.2M226.9 195.0h.2M146.9 262.1h.2M356.9 249.0h.2M152.8 209.5h.2M403.1 227.8h.2M134.8 212.6h.2M449.4 183.4h.2M161.9 191.7h.2M374.0 262.2h.2M146.6 172.8h.2M185.1 195.0h.2M298.9 173.4h.2M218.5 177.1h.2M486.7 247.2h.2M124.7 277.6h.2M124.6 202.5h.2M490.3 255.8h.2M386.4 209.0h.2M163.8 235.4h.2M126.8 179.3h.2M243.5 156.9h.2M247.9 255.3h.2M369.9 217.6h.2M344.6 212.7h.2M141.3 231.0h.2M250.3 248.8h.2M458.9 208.4h.2M320.4 249.9h.2M257.1 182.2h.2M381.9 266.9h.2M403.3 243.5h.2M435.8 240.8h.2M348.4 211.5h.2M212.2 234.2h.2M123.1 207.0h.2M406.8 245.2h.2M343.5 185.0h.2M258.1 211.7h.2M340.1 205.7h.2M362.4 273.4h.2M158.4 237.6h.2M405.1 203.0h.2M285.5 279.2h.2M98.3 223.1h.2M149.2 254.1h.2M472.4 220.0h.2M124.4 227.2h.2M306.8 245.7h.2M294.8 235.6h.2M426.1 220.3h.2M252.6 275.7h.2M169.6 241.5h.2M245.2 251.7h.2M133.2 280.5h.2M229.8 159.9h.2M196.2 204.5h.2M88.0 206.9h.2M256.8 243.3h.2M228.5 187.0h.2M175.5 248.9h.2M472.1 221.0h.2M173.2 256.7h.2M245.0 180.1h.2M136.1 253.5h.2M418.1 235.0h.2M277.0 225.6h.2M176.2 277.8h.2M228.9 235.5h.2M421.9 258.6h.2M276.5 190.8h.2M309.8 168.8h.2M428.1 198.6h.2M435.1 187.3h.2M238.4 185.5h.2M259.1 176.7h.2M83.6 246.3h.2M199.1 184.3h.2M207.6 214.8h.2M260.1 235.3h.2M355.8 199.6h.2M467.5 263.6h.2M106.2 260.1h.2M458.0 254.4h.2M140.7 260.6h.2M344.9 154.4h.2M87.3 276.2h.2M354.4 185.0h.2M124.6 171.1h.2M179.3 253.4h.2M226.1 172.3h.2M457.2 255.4h.2M152.1 268.3h.2M334.7 254.1h.2M359.6 268.7h.2M409.2 261.5h.2M164.3 242.6h.2M302.5 248.9h.2M264.3 267.2h.2M312.6 186.9h.2M179.6 170.6h.2M286.9 160.1h.2M276.1 171.3h.2M286.2 217.3h.2M306.1 264.7h.2M85.2 261.8h.2M276.5 225.6h.2M358.3 261.8h.2M237.9 206.9h.2M480.7 162.3h.2M346.6 235.2h.2M94.3 231.8h.2M365.4 273.6h.2M219.5 280.1h.2M294.2 215.5h.2M454.5 156.9h.2M380.2 233.8h.2M222.9 264.5h.2M234.3 214.2h.2M300.3 252.7h.2M169.8 209.1h.2M257.6 224.5h.2M425.2 190.6h.2M425.6 205.0h.2M291.3 187.8h.2M292.4 279.2h.2M353.8 255.5h.2M219.7 193.7h.2M206.5 228.7h.2M345.6 254.4h.2M99.1 246.4h.2M449.6 223.4h.2M103.1 191.6h.2M85.1 177.2h.2M464.4 231.6h.2M355.2 255.1h.2M459.6 232.0h.2M338.1 234.0h.2M371.2 230.0h.2M364.8 180.1h.2M359.0 212.0h.2M398.6 165.7h.2M157.6 157.3h.2M403.5 271.3h.2M354.3 200.5h.2M423.5 254.8h.2M315.5 186.0h.2M207.7 207.3h.2M214.5 208.5h.2M348.5 273.9h.2M105.1 226.3h.2M98.8 168.0h.2M418.4 227.3h.2M463.3 210.5h.2M88.4 202.8h.2M327.9 274.4h.2M489.0 214.3h.2M253.4 165.8h.2M349.6 180.1h.2M145.4 154.5h.2M84.5 241.4h.2M132.9 278.1h.2M119.0 265.5h.2M136.0 154.8h.2M380.7 184.0h.2M386.6 176.9h.2M103.3 253.1h.2M378.3 263.7h.2M385.0 163.5h.2M343.1 244.7h.2M273.4 273.7h.2M187.8 277.9h.2M379.8 154.0h.2M88.6 237.1h.2M421.3 162.9h.2M211.4 247.3h.2M151.3 264.4h.2M284.1 160.3h.2M234.9 227.2h.2M264.4 240.5h.2M142.6 256.2h.2M233.1 236.3h.2M343.5 206.8h.2M242.4 254.7h.2M474.2 254.5h.2M317.4 190.5h.2M107.6 279.1h.2M374.0 260.1h.2M220.1 231.3h.2M487.7 260.6h.2M331.7 192.6h.2M260.1 268.0h.2M238.6 241.5h.2M331.9 269.0h.2M417.2 189.3h.2M83.2 186.7h.2M257.6 228.8h.2M420.7 267.9h.2M100.0 260.8h.2M419.0 265.2h.2M319.6 188.1h.2M435.3 257.4h.2M366.3 271.3h.2M226.3 163.6h.2M312.0 256.2h.2M165.6 250.0h.2M468.7 182.9h.2M334.1 240.6h.2M275.4 179.4h.2M188.1 250.1h.2M410.6 212.3h.2M118.9 257.4h.2M402.6 182.8h.2M322.7 269.1h.2M449.4 220.3h.2M280.0 229.1h.2M160.9 177.5h.2M157.4 243.6h.2M232.9 225.9h.2M249.3 219.7h.2M144.3 158.3h.2M495.8 201.1h.2M126.5 234.8h.2M408.9 172.8h.2M330.0 197.3h.2M297.8 155.2h.2M96.4 281.3h.2M441.5 215.7h.2M317.6 186.5h.2M405.5 207.9h.2M474.8 252.2h.2M421.9 277.8h.2M187.8 157.4h.2M165.8 176.0h.2M117.2 159.1h.2M313.5 265.7h.2M272.5 275.6h.2M459.7 160.8h.2M330.4 204.2h.2M132.2 277.2h.2M189.1 225.9h.2M348.0 276.8h.2M360.1 203.6h.2M268.3 173.3h.2M482.8 281.4h.2M174.4 157.5h.2M188.6 198.3h.2M456.7 270.1h.2M429.5 158.6h.2M408.5 244.7h.2M350.6 280.6h.2M105.6 171.3h.2M395.4 274.6h.2M363.1 191.3h.2M327.7 251.0h.2M126.2 194.6h.2M189.0 168.6h.2M282.0 174.4h.2M181.3 171.1h.2M363.4 154.1h.2M379.8 177.9h.2M97.4 273.1h.2M173.9 273.9h.2M441.8 268.0h.2M140.4 210.6h.2M122.7 273.2h.2M431.6 234.2h.2M270.0 196.7h.2M423.7 214.6h.2M342.9 171.1h.2M174.4 159.9h.2M378.3 224.4h.2M142.5 265.7h.2M192.9 206.0h.2M147.0 187.7h.2M430.5 196.0h.2M152.1 216.3h.2M214.3 269.9h.2M129.8 279.7h.2M106.1 268.9h.2M359.5 180.0h.2M280.4 189.7h.2M189.4 178.7h.2M233.5 281.3h.2M496.2 272.8h.2M122.9 190.1h.2M454.0 160.0h.2M383.6 190.7h.2M488.1 154.6h.2M417.0 196.8h.2M140.6 152.7h.2M427.5 221.0h.2M159.5 209.1h.2M460.5 180.9h.2M319.3 170.4h.2M157.2 252.7h.2M377.5 178.1h.2M115.4 163.9h.2M334.7 216.9h.2M196.0 179.3h.2M336.4 244.5h.2M418.9 228.3h.2M166.3 161.0h.2M386.2 205.6h.2M381.6 159.7h.2M418.5 196.1h.2M431.5 264.9h.2M286.9 154.5h.2M459.8 214.5h.2M443.9 187.1h.2M159.6 260.6h.2M234.7 173.8h.2M236.3 229.8h.2M84.4 220.1h.2M267.3 219.5h.2M132.6 245.4h.2M421.0 265.0h.2M215.5 245.0h.2M240.6 250.2h.2M107.9 266.0h.2M478.0 216.8h.2M295.3 221.5h.2M305.2 155.2h.2M483.5 181.6h.2M158.1 165.8h.2M186.3 258.7h.2M95.0 165.0h.2M372.2 177.9h.2M89.8 230.4h.2M321.5 220.5h.2M373.7 165.9h.2M442.9 245.7h.2M101.2 168.5h.2M287.1 217.6h.2M198.4 168.4h.2M250.6 170.3h.2M327.8 264.4h.2M143.5 227.0h.2M392.0 173.9h.2M424.9 274.4h.2M243.6 207.2h.2M430.6 220.8h.2M246.5 274.9h.2M404.5 196.5h.2M182.1 196.1h.2M263.0 280.1h.2M415.9 271.2h.2M420.3 262.7h.2M104.7 219.8h.2M479.5 274.0h.2M185.8 207.4h.2M344.7 199.9h.2M302.5 161.5h.2M262.0 218.1h.2M91.1 170.6h.2M484.4 253.5h.2M470.9 234.8h.2M417.9 267.5h.2M449.2 157.0h.2M348.4 187.1h.2M363.7 188.0h.2M307.3 272.7h.2M340.0 185.1h.2M298.2 208.9h.2M476.6 189.9h.2M209.1 236.7h.2M132.4 229.8h.2M478.8 219.3h.2M193.8 213.1h.2M303.8 171.8h.2M133.9 169.6h.2M204.2 205.4h.2M202.0 184.1h.2M118.9 223.5h.2M430.6 231.8h.2M318.8 237.0h.2M165.9 244.8h.2M273.5 223.7h.2M336.5 213.5h.2M211.2 184.0h.2M174.3 219.1h.2M241.3 228.6h.2M87.4 198.3h.2M439.7 183.5h.2M313.2 216.4h.2M200.6 280.9h.2M205.0 252.9h.2M148.2 161.2h.2M443.6 209.7h.2M108.2 202.9h.2M264.8 248.1h.2M127.8 181.8h.2M480.1 248.5h.2M146.5 196.3h.2M228.6 240.3h.2M338.0 263.0h.2M422.9 219.8h.2M388.7 249.1h.2M397.4 214.3h.2M407.9 244.6h.2M461.6 169.0h.2M443.5 153.1h.2M399.9 228.7h.2M288.9 277.7h.2M319.6 206.8h.2M407.3 266.0h.2M334.2 201.8h.2M270.0 212.0h.2M382.2 190.6h.2M244.4 224.7h.2M241.9 194.4h.2M408.7 262.9h.2M289.6 210.2h.2M158.9 192.0h.2M142.6 227.3h.2M323.6 163.9h.2M463.9 194.6h.2M432.1 261.5h.2M479.9 179.1h.2M259.3 270.9h.2M86.9 158.7h.2M316.7 217.2h.2M464.0 253.1h.2M305.7 282.3h.2M297.0 219.7h.2M366.5 203.1h.2M230.8 229.8h.2M228.0 275.7h.2M362.9 220.8h.2M123.5 201.2h.2M248.7 225.5h.2M320.4 266.9h.2M482.3 215.8h.2M264.9 233.7h.2M495.4 197.1h.2M302.2 258.6h.2M153.3 193.9h.2M488.1 259.9h.2M295.0 166.9h.2M453.3 242.2h.2M422.6 281.2h.2M450.6 207.2h.2M147.3 190.2h.2M294.6 218.1h.2M160.5 176.2h.2M343.7 230.9h.2M228.9 281.7h.2M346.3 158.0h.2M253.0 254.9h.2M209.6 242.3h.2M84.1 192.1h.2M431.6 228.7h.2M359.4 178.1h.2M288.9 224.4h.2M192.8 236.6h.2M302.8 282.1h.2M320.6 205.9h.2M132.9 172.9h.2M397.3 166.4h.2M124.0 174.7h.2M299.1 259.5h.2M336.6 257.4h.2M108.2 154.1h.2M401.9 194.5h.2M379.1 198.5h.2M152.7 187.2h.2M123.7 270.0h.2M323.8 197.9h.2M269.0 202.6h.2M105.2 268.3h.2M324.0 277.2h.2M264.7 233.1h.2M185.8 158.2h.2M468.3 263.6h.2M213.0 269.4h.2M420.7 192.0h.2M332.3 277.3h.2M287.9 276.0h.2M183.2 203.2h.2M380.3 181.3h.2M210.6 266.3h.2M283.3 255.6h.2M183.4 175.1h.2M231.1 176.8h.2M485.2 190.3h.2M315.3 167.4h.2M303.7 202.6h.2M249.6 161.0h.2M133.6 259.9h.2M228.1 184.3h.2M161.8 189.4h.2M180.8 157.0h.2M357.8 196.9h.2M147.1 244.3h.2M120.9 187.6h.2M428.6 169.1h.2M266.3 261.2h.2M416.1 173.2h.2M228.8 246.4h.2M238.7 277.1h.2M168.7 276.1h.2M291.8 182.0h.2M270.1 169.5h.2M375.3 186.4h.2M455.4 228.9h.2M235.0 184.5h.2M334.6 180.1h.2M444.1 168.5h.2M295.2 223.0h.2M194.6 252.8h.2M242.0 238.0h.2M317.8 192.9h.2M244.1 163.7h.2M155.9 263.1h.2M215.6 238.7h.2M127.7 225.6h.2M232.3 217.5h.2M205.6 161.1h.2M211.5 181.9h.2M134.8 245.7h.2M199.5 204.9h.2M459.2 253.2h.2M448.4 264.5h.2M137.3 188.4h.2M94.8 240.9h.2M357.6 198.2h.2M253.5 238.2h.2M372.3 184.8h.2M433.5 198.3h.2M343.1 176.1h.2M130.3 271.1h.2M386.8 245.1h.2M99.3 157.7h.2M149.7 178.3h.2M208.1 202.0h.2M98.8 192.9h.2M347.1 175.9h.2M430.5 226.6h.2M379.5 185.6h.2M262.8 241.5h.2M227.2 152.6h.2M428.3 253.4h.2M201.2 158.1h.2M436.5 231.5h.2M102.1 184.3h.2M128.6 255.4h.2M169.6 271.4h.2M393.2 163.7h.2M370.4 203.7h.2M392.4 260.2h.2M199.0 164.2h.2M474.8 207.6h.2M468.1 242.4h.2M388.7 260.4h.2M342.8 211.4h.2M105.0 243.3h.2M260.1 219.0h.2M467.2 169.1h.2M398.3 158.2h.2M373.8 257.2h.2M190.8 223.5h.2M484.3 235.4h.2M308.0 185.0h.2M107.1 199.0h.2M253.1 178.7h.2M211.2 170.3h.2M375.5 239.6h.2M181.1 183.9h.2M296.1 210.4h.2M470.4 198.2h.2M206.6 267.5h.2M141.3 225.7h.2M220.8 258.5h.2M309.8 251.4h.2M152.6 239.1h.2M330.7 212.5h.2M400.1 260.6h.2M130.0 190.1h.2M231.9 179.3h.2M107.5 189.0h.2M164.2 243.7h.2M268.2 167.2h.2M217.0 213.4h.2M233.0 174.4h.2M112.3 153.9h.2M493.7 250.1h.2M117.3 245.7h.2M488.8 225.8h.2M127.6 216.1h.2M262.5 177.2h.2M307.6 153.6h.2M463.7 236.3h.2M342.7 274.1h.2M353.0 185.2h.2M184.5 170.5h.2M94.0 253.2h.2M430.5 191.0h.2M159.5 235.5h.2M433.1 273.0h.2M152.3 254.5h.2M426.7 249.0h.2M217.9 176.5h.2M424.6 194.1h.2M235.3 224.1h.2M235.6 260.6h.2M181.7 157.9h.2M317.5 234.2h.2M422.3 244.2h.2M457.7 275.3h.2M287.4 217.4h.2M147.8 191.4h.2M323.4 162.9h.2M367.7 173.8h.2M266.2 278.6h.2M119.7 157.7h.2M264.7 177.3h.2M382.2 152.9h.2M431.0 263.7h.2M408.7 207.8h.2M199.9 238.5h.2M295.8 207.3h.2M222.9 209.5h.2M358.6 259.9h.2M457.2 173.9h.2M205.1 210.1h.2M316.0 197.8h.2M163.5 163.6h.2M216.7 212.4h.2M485.1 270.6h.2M441.2 279.2h.2M481.2 233.1h.2M418.7 160.3h.2M362.9 231.7h.2M205.6 226.7h.2M477.4 215.0h.2M350.8 191.4h.2M224.8 267.6h.2M94.0 177.0h.2M363.8 210.7h.2M117.8 238.4h.2M236.7 228.0h.2M255.1 221.4h.2M316.6 204.0h.2M129.9 176.0h.2M451.4 223.8h.2M129.0 264.6h.2M187.6 164.8h.2M302.5 185.2h.2M285.3 224.5h.2M176.4 227.0h.2M129.3 219.2h.2M326.4 162.9h.2M251.6 162.1h.2M264.7 264.8h.2M310.7 245.4h.2M396.2 167.4h.2M493.1 246.3h.2M124.8 260.4h.2M245.0 174.8h.2M480.4 225.7h.2M403.7 170.3h.2M404.2 160.0h.2M180.7 200.9h.2M88.8 229.8h.2M170.8 191.5h.2M375.7 207.9h.2M450.8 233.3h.2M444.0 225.7h.2M462.8 265.7h.2M152.1 249.4h.2M224.0 251.8h.2M364.6 259.8h.2M133.4 201.0h.2M388.1 275.7h.2M381.7 158.2h.2M332.8 165.5h.2M310.0 256.9h.2M129.3 272.8h.2M362.4 185.6h.2M162.6 210.6h.2M429.9 228.1h.2M129.6 155.2h.2M128.3 256.6h.2M159.3 224.6h.2M202.7 241.8h.2M240.4 171.3h.2M445.4 222.5h.2M368.3 257.6h.2M475.8 154.3h.2M224.4 172.1h.2M290.5 266.0h.2M414.3 157.1h.2M158.1 258.9h.2M364.2 203.5h.2M279.7 173.1h.2M432.8 203.6h.2M444.4 231.9h.2M114.0 195.3h.2M172.2 268.7h.2M326.7 158.2h.2M152.9 199.4h.2M276.4 227.5h.2M243.3 198.5h.2M85.0 227.8h.2M220.9 155.2h.2M272.9 280.7h.2M101.3 171.5h.2M360.6 187.9h.2M195.8 217.5h.2M191.1 226.5h.2M301.4 276.9h.2M493.8 156.9h.2M314.9 252.7h.2M444.1 253.2h.2M344.9 235.0h.2M232.9 189.1h.2M412.2 266.0h.2M471.6 241.1h.2M208.5 251.7h.2M389.0 218.7h.2M345.8 198.1h.2M310.8 205.3h.2M107.6 196.3h.2M216.5 281.0h.2M282.1 200.2h.2M183.4 183.0h.2M227.3 170.1h.2M85.5 265.7h.2M270.3 210.4h.2M318.2 191.8h.2M152.5 161.1h.2M207.5 192.6h.2M383.7 224.2h.2M471.1 196.8h.2M464.3 228.3h.2M115.7 175.7h.2M323.1 280.9h.2M230.5 253.2h.2M260.0 265.4h.2M110.6 215.5h.2M455.2 188.4h.2M189.3 155.5h.2M150.7 187.3h.2M374.5 180.9h.2M248.1 178.5h.2M332.4 264.8h.2M351.1 178.1h.2M386.7 277.7h.2M331.6 162.8h.2M418.0 266.3h.2M223.9 170.3h.2M160.5 222.3h.2M445.4 235.7h.2M465.0 180.1h.2M217.9 249.9h.2M351.5 205.2h.2M363.9 196.4h.2M106.3 206.4h.2M101.3 233.9h.2M221.2 216.8h.2M330.3 185.9h.2M274.6 154.3h.2M466.0 225.8h.2M491.8 159.8h.2M337.0 246.6h.2M218.9 164.6h.2M147.2 171.0h.2M400.5 164.2h.2M419.9 207.5h.2M305.8 229.0h.2M312.5 238.0h.2M331.9 195.5h.2M389.7 186.0h.2M377.4 251.7h.2M404.1 192.7h.2M402.7 279.6h.2M270.3 188.7h.2M299.4 274.8h.2M137.2 153.7h.2M279.7 237.7h.2M403.4 199.6h.2M492.7 182.2h.2M396.1 164.2h.2M94.1 169.9h.2M107.4 217.7h.2M312.7 176.1h.2M472.0 200.0h.2M144.4 175.6h.2M388.3 272.3h.2M149.7 156.3h.2M405.0 184.0h.2M489.7 217.4h.2M346.2 197.2h.2M414.3 212.3h.2M216.7 270.0h.2M127.2 247.8h.2M109.6 236.4h.2M249.1 264.8h.2M107.4 225.8h.2M252.4 272.0h.2M474.2 234.0h.2M175.4 185.3h.2M191.2 208.9h.2M178.4 178.9h.2M397.2 236.1h.2M206.2 281.8h.2M172.3 226.5h.2M147.5 264.7h.2M442.8 187.2h.2M394.0 259.5h.2M199.6 195.6h.2M283.8 268.3h.2M149.5 241.3h.2M330.2 211.4h.2M322.6 267.3h.2M169.5 267.4h.2M231.9 253.9h.2M440.4 176.2h.2M440.6 281.8h.2M205.9 155.7h.2M128.7 279.2h.2M86.4 271.0h.2M145.0 248.2h.2M122.9 174.4h.2M365.5 164.2h.2M223.2 271.9h.2M379.4 267.2h.2M488.6 156.8h.2M179.7 255.5h.2M368.3 157.4h.2M291.7 182.6h.2M260.9 166.1h.2M90.8 281.3h.2M213.7 266.7h.2M132.4 215.9h.2M138.8 208.2h.2M156.7 241.6h.2M143.8 248.5h.2M290.1 167.1h.2M229.1 217.0h.2M463.3 197.9h.2M171.7 278.3h.2M448.6 247.6h.2M195.6 175.5h.2M192.2 161.5h.2M100.4 218.6h.2M251.7 224.9h.2M232.8 153.9h.2M367.7 237.4h.2M308.0 223.8h.2M368.6 280.2h.2M444.8 245.8h.2M248.0 193.9h.2M256.2 279.0h.2M242.9 202.6h.2M252.4 171.1h.2M496.3 153.2h.2M334.4 272.9h.2M188.1 231.9h.2M238.8 183.8h.2M164.7 167.6h.2M431.9 254.4h.2M459.1 158.9h.2M370.2 194.7h.2M350.4 223.9h.2M213.3 278.8h.2M82.9 249.5h.2M436.3 218.8h.2M328.0 281.8h.2M179.7 234.3h.2M390.6 201.7h.2M377.7 203.7h.2M300.6 232.2h.2M363.2 194.4h.2M343.2 223.1h.2M175.0 232.1h.2M192.3 270.6h.2M278.7 246.3h.2M298.9 214.5h.2M174.2 171.0h.2M466.9 221.2h.2M299.7 221.1h.2M419.6 183.5h.2M153.9 259.3h.2M273.3 235.8h.2M425.5 268.7h.2M442.2 158.1h.2M240.5 260.7h.2M421.5 168.5h.2M146.3 185.2h.2M125.1 198.9h.2M415.4 220.3h.2M270.2 163.9h.2M246.5 282.1h.2M370.6 210.9h.2M280.8 256.3h.2M397.0 172.0h.2M364.4 200.2h.2M298.3 183.4h.2M236.2 196.7h.2M240.5 154.8h.2M165.8 226.7h.2M106.4 175.7h.2M380.2 188.2h.2M216.8 183.9h.2M428.3 164.4h.2M346.2 264.2h.2M166.1 207.5h.2M410.9 232.8h.2M236.5 158.2h.2M265.9 200.2h.2M377.8 190.9h.2M251.6 236.8h.2M418.6 198.3h.2M242.2 227.7h.2M465.8 177.4h.2M485.1 245.0h.2M236.8 239.0h.2M219.1 161.7h.2M395.9 201.8h.2M300.5 217.1h.2M456.1 250.9h.2M93.1 229.6h.2M274.2 212.6h.2M430.5 206.4h.2M278.8 268.2h.2M264.8 216.4h.2M294.6 259.7h.2M360.4 248.8h.2M249.0 157.8h.2M364.3 224.5h.2M401.3 252.6h.2M131.5 181.2h.2M114.5 258.8h.2M124.7 164.0h.2M394.7 225.9h.2M105.3 241.0h.2M377.2 215.3h.2M105.2 242.3h.2M255.7 228.4h.2M496.2 258.7h.2M443.9 171.4h.2M221.1 219.9h.2M85.0 281.0h.2M196.3 186.6h.2M212.3 185.7h.2M438.5 224.7h.2M294.3 207.1h.2M103.7 192.1h.2M441.8 256.8h.2M437.6 185.9h.2M166.2 159.3h.2M305.0 201.1h.2M274.9 216.1h.2M324.5 200.0h.2M414.7 178.5h.2M463.6 224.8h.2M103.7 193.4h.2M303.5 205.7h.2M316.7 194.6h.2M195.9 256.0h.2M203.3 244.9h.2M415.1 229.5h.2M270.9 274.0h.2M266.9 266.6h.2M106.4 208.9h.2M347.5 158.9h.2M440.1 161.9h.2M329.7 175.9h.2M464.8 225.4h.2M414.4 217.3h.2M361.8 240.2h.2M204.7 179.9h.2M430.0 171.5h.2M463.0 179.4h.2M124.3 164.9h.2M407.6 276.1h.2M254.4 238.2h.2M189.3 270.3h.2M366.8 172.6h.2M106.0 242.9h.2M99.8 261.2h.2M204.2 182.7h.2M323.8 193.9h.2M314.9 172.5h.2M460.5 194.7h.2M431.2 172.2h.2M413.8 279.9h.2M244.8 156.8h.2M240.0 235.8h.2M175.1 223.4h.2M121.3 212.9h.2M384.4 208.4h.2M363.9 167.4h.2M425.9 168.4h.2M465.2 282.0h.2M471.9 220.9h.2M203.0 197.7h.2M393.5 217.1h.2M467.9 164.6h.2M283.4 264.8h.2M330.3 222.8h.2M119.2 170.7h.2M194.9 268.6h.2M432.9 182.0h.2M465.7 156.7h.2M330.7 278.3h.2M225.2 275.3h.2M354.6 159.0h.2M220.6 211.0h.2M185.0 249.0h.2M156.6 254.9h.2M206.1 161.5h.2M314.3 164.9h.2M311.1 254.9h.2M329.4 212.5h.2M96.5 219.2h.2M122.8 236.6h.2M137.2 227.6h.2M228.8 201.2h.2M357.4 173.8h.2M152.8 274.9h.2M220.0 262.0h.2M444.5 214.9h.2M144.3 164.7h.2M446.9 167.7h.2M288.1 222.2h.2M131.2 213.3h.2M150.5 222.1h.2M292.6 200.2h.2M164.5 205.0h.2M166.8 169.0h.2M181.9 265.8h.2M290.5 268.3h.2M88.8 275.1h.2M284.9 255.3h.2M318.9 242.1h.2M177.5 250.0h.2M146.2 186.8h.2M95.3 203.6h.2M297.3 190.5h.2M451.6 163.5h.2M322.3 182.9h.2M329.2 254.4h.2M377.1 160.6h.2M184.4 230.4h.2M489.9 157.9h.2M338.8 242.4h.2M420.2 197.0h.2M418.5 212.5h.2M464.2 153.9h.2M472.3 206.1h.2M251.2 163.9h.2M184.0 247.9h.2M363.9 172.2h.2M225.2 170.7h.2M164.7 181.1h.2M219.7 279.4h.2M495.9 255.4h.2M281.3 217.2h.2M405.5 270.6h.2M394.0 235.2h.2M165.0 233.8h.2M433.1 254.8h.2M120.8 245.8h.2M227.2 173.6h.2M482.8 240.0h.2M391.5 170.0h.2M425.9 274.3h.2M457.5 249.3h.2M427.6 256.8h.2M327.2 209.1h.2M424.5 254.5h.2M443.5 191.4h.2M480.8 221.6h.2M474.6 167.6h.2M483.9 254.9h.2M187.0 261.5h.2M178.7 178.2h.2M272.3 183.3h.2M286.7 270.6h.2M366.6 244.9h.2M245.0 254.4h.2M411.5 241.3h.2M472.8 259.9h.2M250.9 163.8h.2M353.0 261.2h.2M223.3 229.8h.2M429.1 255.6h.2M84.4 216.1h.2M89.3 166.9h.2M419.2 206.9h.2M333.2 212.0h.2M221.5 180.3h.2M229.1 262.3h.2M339.2 190.5h.2M119.0 187.7h.2M373.1 210.0h.2M356.5 257.4h.2M132.5 241.3h.2M99.7 259.5h.2M158.8 187.8h.2M479.5 199.6h.2M175.4 268.2h.2M335.4 268.7h.2M246.0 217.5h.2M478.7 218.4h.2M492.3 177.1h.2M426.8 173.6h.2M301.0 152.5h.2M155.2 275.4h.2M270.9 257.7h.2M186.5 198.3h.2M124.3 224.3h.2M439.9 219.3h.2M238.6 273.2h.2M453.0 239.1h.2M114.0 233.6h.2M266.6 277.0h.2M232.5 238.5h.2M344.4 201.4h.2M298.9 240.5h.2M458.5 217.3h.2M233.3 279.4h.2M106.1 261.0h.2M365.8 225.0h.2M268.1 250.1h.2M451.9 247.3h.2M393.3 157.1h.2M217.3 170.3h.2M477.5 268.4h.2M142.4 228.9h.2M321.6 158.6h.2M245.1 249.7h.2M348.4 189.0h.2M398.5 190.4h.2M308.1 207.2h.2M487.9 236.8h.2M416.1 240.4h.2M240.2 277.7h.2M376.7 242.3h.2M197.5 173.5h.2M320.9 259.9h.2M411.5 197.6h.2M140.5 219.6h.2M446.2 173.6h.2M388.5 174.7h.2M211.8 159.5h.2M205.9 202.3h.2M483.3 277.6h.2M160.1 192.7h.2M473.7 178.2h.2M215.5 209.5h.2M127.4 186.3h.2M245.8 202.6h.2M481.9 187.2h.2M167.0 270.6h.2M269.1 261.3h.2M346.6 253.7h.2M213.0 172.3h.2M396.3 213.6h.2M314.1 239.7h.2M394.5 188.3h.2M232.9 271.8h.2M301.9 190.0h.2M343.7 186.3h.2M402.2 157.9h.2M425.1 226.1h.2M229.1 274.7h.2M192.6 184.1h.2M111.5 223.8h.2M394.9 240.6h.2M253.6 257.5h.2M128.6 192.4h.2M349.8 278.2h.2M345.3 242.5h.2M403.6 203.8h.2M472.3 249.0h.2M224.2 203.5h.2M416.5 198.0h.2M159.5 265.8h.2M302.9 220.3h.2M360.0 269.7h.2M137.9 196.5h.2M109.8 206.2h.2M290.6 263.3h.2M359.3 227.6h.2M249.8 227.1h.2M196.0 262.3h.2M409.3 261.5h.2M145.2 239.8h.2M395.1 217.6h.2M454.9 269.3h.2M390.5 259.2h.2M351.4 266.7h.2M136.9 244.0h.2M374.2 232.1h.2M196.5 161.3h.2M332.6 259.7h.2M195.7 180.2h.2M175.3 164.7h.2M362.7 279.2h.2M415.0 199.3h.2M372.4 161.9h.2M430.1 194.8h.2M83.9 234.3h.2M140.0 188.3h.2M107.0 210.4h.2M312.5 257.5h.2M98.9 260.1h.2M128.3 181.7h.2M343.4 196.7h.2M219.7 226.4h.2M172.8 255.7h.2M169.1 261.6h.2M417.7 222.3h.2M95.1 253.7h.2M94.3 218.1h.2M258.2 160.7h.2M343.6 246.7h.2M324.9 204.5h.2M294.8 229.0h.2M176.3 265.3h.2M495.2 257.0h.2M481.0 195.3h.2M491.3 161.8h.2M280.6 169.9h.2M270.7 241.2h.2M376.1 211.6h.2M224.1 177.2h.2M249.5 189.2h.2M163.0 248.2h.2M296.5 209.5h.2M164.4 244.0h.2M164.0 187.0h.2M314.7 243.7h.2M485.8 249.7h.2M475.6 272.1h.2M382.0 246.0h.2M108.5 179.2h.2M87.9 264.8h.2M381.8 234.4h.2M191.8 198.7h.2M150.3 234.7h.2M493.5 192.2h.2M100.8 175.3h.2M229.8 269.4h.2M416.0 211.7h.2M124.8 166.4h.2M146.3 253.6h.2M277.8 281.3h.2M460.4 255.8h.2M279.9 259.3h.2M135.7 166.7h.2M316.0 218.5h.2M169.3 185.3h.2M91.3 270.7h.2M376.9 275.4h.2M488.9 209.3h.2M386.1 202.4h.2M419.0 261.9h.2M138.0 154.2h.2M171.2 228.6h.2M239.6 153.7h.2M426.7 254.7h.2M274.7 158.1h.2M451.0 221.9h.2M111.9 194.5h.2M341.4 267.6h.2M283.3 235.6h.2M167.8 184.1h.2M458.0 202.2h.2M125.6 229.4h.2M134.8 178.5h.2M271.7 228.6h.2M346.3 244.4h.2M264.7 161.3h.2M382.8 159.5h.2M277.6 204.5h.2M361.4 245.3h.2M181.9 236.9h.2M369.3 213.8h.2M141.3 270.7h.2M330.8 160.7h.2M181.4 280.8h.2M177.3 203.5h.2M409.1 259.6h.2M345.3 248.9h.2M98.4 164.7h.2M487.1 256.9h.2M98.3 158.8h.2M182.2 273.5h.2M173.5 239.8h.2M468.1 235.5h.2M463.5 186.7h.2M146.1 154.9h.2M396.3 166.0h.2M485.9 244.8h.2M160.0 257.4h.2M150.0 219.1h.2M126.4 254.8h.2M451.3 271.6h.2M83.4 263.2h.2M312.9 259.3h.2M290.8 233.1h.2M328.9 256.4h.2M114.7 159.6h.2M308.6 190.3h.2M247.0 153.5h.2M391.3 155.6h.2M426.4 258.0h.2M272.3 168.4h.2M351.9 179.4h.2M260.3 166.9h.2M487.2 223.5h.2M228.6 164.7h.2M385.2 263.0h.2M434.1 165.7h.2M234.9 191.9h.2M398.5 171.7h.2M333.9 279.7h.2M401.2 153.4h.2M113.6 167.3h.2M369.5 230.3h.2M298.1 211.7h.2M251.4 231.9h.2M351.3 271.6h.2M386.2 256.1h.2M460.9 261.3h.2M379.6 156.5h.2M364.7 263.0h.2M261.1 266.7h.2M157.0 275.1h.2M265.6 244.3h.2M187.2 191.6h.2M226.9 194.7h.2M121.8 210.1h.2M489.1 237.5h.2M468.9 251.6h.2M429.4 281.8h.2M394.5 188.1h.2M186.0 206.1h.2M91.2 182.5h.2M449.9 272.2h.2M218.7 252.7h.2M403.7 268.2h.2M411.9 221.7h.2M126.0 259.8h.2M212.5 234.0h.2M234.7 222.3h.2M482.8 173.4h.2M302.6 237.0h.2M305.7 274.4h.2M251.4 271.3h.2M368.4 278.3h.2M119.7 180.1h.2M201.6 270.3h.2M88.2 186.3h.2M379.2 281.2h.2M155.6 209.4h.2M367.2 242.3h.2M391.7 250.4h.2M185.5 185.9h.2M94.0 242.3h.2M169.2 186.2h.2M482.2 236.1h.2M327.5 237.8h.2M330.3 242.8h.2M208.5 160.8h.2M110.2 154.4h.2M232.3 171.0h.2M129.3 216.7h.2M484.4 241.9h.2M195.8 252.5h.2M156.2 165.5h.2M208.2 205.7h.2M368.3 210.3h.2M384.4 164.8h.2M468.9 197.0h.2M427.5 156.5h.2M426.0 181.9h.2M436.9 256.9h.2M360.5 188.6h.2M86.6 177.2h.2M457.6 173.0h.2M355.8 228.8h.2M356.6 176.0h.2M142.0 165.1h.2M489.8 202.3h.2M352.8 226.6h.2M175.0 160.9h.2M88.6 263.3h.2M136.4 277.7h.2M233.2 246.4h.2M139.9 254.9h.2M186.8 200.1h.2M299.3 167.0h.2M185.4 256.0h.2M200.7 202.0h.2M399.5 181.6h.2M162.9 181.0h.2M241.7 200.0h.2M348.4 213.8h.2M443.0 159.1h.2M357.6 261.2h.2M179.8 156.3h.2M264.2 167.6h.2M273.2 245.0h.2M121.4 167.8h.2M281.3 175.1h.2M178.1 209.7h.2M131.5 161.3h.2M232.2 213.5h.2M470.7 224.6h.2M112.1 181.4h.2M391.0 225.7h.2M443.2 277.6h.2M438.1 166.8h.2M473.7 220.7h.2M181.9 174.7h.2M440.9 180.1h.2M116.9 187.0h.2M465.5 212.4h.2M385.6 162.2h.2M270.3 193.8h.2M167.6 238.7h.2M232.2 168.1h.2M490.4 215.1h.2M157.1 153.9h.2M353.2 219.4h.2M92.6 213.6h.2M389.4 222.3h.2M179.5 217.4h.2M333.2 237.1h.2M142.6 257.0h.2M474.4 248.7h.2M437.9 200.3h.2M456.7 176.1h.2M176.5 230.2h.2M456.2 163.2h.2M172.4 157.2h.2M264.5 170.8h.2M161.9 249.9h.2M324.3 274.6h.2M249.1 240.8h.2M87.7 275.8h.2M179.1 214.5h.2M294.6 275.8h.2M286.5 281.4h.2M340.0 180.6h.2M428.2 178.7h.2M496.8 211.9h.2M176.3 277.5h.2M215.9 205.4h.2M224.7 239.4h.2M92.0 201.1h.2M149.7 260.1h.2M82.6 231.5h.2M189.4 211.5h.2M435.2 245.0h.2M375.4 183.8h.2M373.0 277.3h.2M377.0 170.3h.2M429.6 228.1h.2M481.0 159.9h.2M389.0 174.3h.2M438.6 211.3h.2M413.7 268.0h.2M449.3 264.3h.2M490.9 187.5h.2M488.8 205.5h.2M363.3 271.4h.2M370.7 154.8h.2M396.8 190.1h.2M492.3 265.7h.2M415.2 221.3h.2M475.7 257.4h.2M448.1 219.2h.2M372.4 184.2h.2M448.8 228.7h.2M469.0 269.3h.2M491.7 177.5h.2M366.7 269.2h.2M436.4 176.1h.2M453.6 185.7h.2M389.4 200.1h.2M429.9 240.6h.2M366.4 248.9h.2M444.0 213.8h.2M450.8 256.4h.2M357.4 214.3h.2M451.6 244.7h.2M447.3 175.9h.2M491.1 254.6h.2M388.8 208.5h.2M491.1 179.4h.2M413.7 277.5h.2M482.9 182.7h.2M459.7 199.3h.2M449.5 252.2h.2M374.0 181.4h.2M386.3 187.1h.2M361.0 170.2h.2M413.3 207.2h.2M367.0 228.2h.2M488.9 227.5h.2M406.2 244.1h.2M417.6 175.3h.2M423.9 154.8h.2M451.3 173.4h.2M408.1 277.6h.2M464.1 261.1h.2M446.5 235.0h.2M455.4 278.1h.2M383.7 252.1h.2M398.4 185.7h.2M471.8 230.6h.2M475.8 266.3h.2M439.0 178.3h.2M358.1 222.0h.2M458.3 187.9h.2M365.9 153.1h.2M380.4 243.0h.2M356.6 182.4h.2M393.4 244.9h.2M495.2 155.0h.2M372.1 274.0h.2M492.8 171.8h.2M403.3 220.4h.2M401.1 206.8h.2M423.5 186.1h.2M363.8 163.4h.2M378.9 164.4h.2M444.0 243.1h.2M393.1 255.4h.2M458.8 196.9h.2M425.3 177.0h.2M487.0 225.3h.2M363.2 172.5h.2M453.7 202.6h.2M457.1 182.3h.2M468.4 256.8h.2M369.3 228.7h.2M383.0 244.5h.2M469.4 255.4h.2M388.6 164.6h.2M449.5 226.0h.2M375.5 177.6h.2M438.1 166.5h.2M445.4 183.8h.2M392.5 207.6h.2M431.2 246.7h.2M360.4 246.7h.2M387.2 190.3h.2M446.2 242.4h.2M442.7 269.7h.2M384.9 192.9h.2M449.4 186.4h.2M378.2 181.9h.2M464.8 260.0h.2M457.0 277.1h.2M468.0 192.8h.2M400.5 246.3h.2M363.8 231.7h.2M368.6 158.9h.2M428.4 172.2h.2M487.4 266.5h.2M421.1 178.2h.2M372.9 218.4h.2M429.5 199.7h.2M457.0 221.3h.2M465.3 166.3h.2M365.9 202.8h.2M424.2 185.3h.2M450.3 181.3h.2M400.9 214.5h.2M456.4 252.6h.2M408.4 210.6h.2M486.8 273.9h.2M443.2 166.1h.2M420.3 235.3h.2M395.3 157.4h.2M494.3 270.8h.2M374.2 213.1h.2M443.3 191.5h.2M365.7 250.1h.2M464.7 209.4h.2M368.1 203.7h.2M369.3 277.8h.2M363.2 189.9h.2M464.3 170.1h.2M371.0 161.7h.2M379.1 221.6h.2M473.5 174.5h.2M380.5 251.9h.2M416.0 196.4h.2M373.4 184.1h.2M493.0 167.7h.2M392.6 248.8h.2M481.7 270.1h.2M422.7 276.8h.2M441.2 190.0h.2M421.6 245.6h.2M459.5 169.4h.2M383.3 277.1h.2M371.1 258.2h.2M403.8 184.7h.2M392.0 213.5h.2M495.7 171.8h.2M476.5 194.3h.2M380.4 249.3h.2M404.2 176.9h.2M415.0 259.3h.2M477.7 227.2h.2M357.5 251.7h.2M441.5 269.4h.2M490.2 195.0h.2M475.6 259.0h.2M393.5 200.1h.2M408.8 198.4h.2M409.3 166.8h.2M388.0 270.7h.2M413.9 235.2h.2M481.1 250.7h.2M390.5 272.0h.2M469.4 281.3h.2M458.7 250.6h.2M470.6 185.4h.2M448.5 202.0h.2M474.4 169.9h.2M432.0 196.2h.2M471.7 197.4h.2M475.0 262.7h.2M479.9 170.6h.2M488.3 249.3h.2M451.4 237.3h.2M362.8 265.6h.2M433.2 211.7h.2M403.8 254.3h.2M466.3 265.6h.2M386.2 196.8h.2M391.2 165.6h.2M402.1 155.9h.2M468.3 182.0h.2M366.0 161.3h.2M460.5 178.3h.2M421.2 204.7h.2M469.1 276.5h.2M399.7 234.7h.2M482.2 213.7h.2M482.9 247.9h.2M399.9 266.1h.2M436.8 166.3h.2M438.8 260.3h.2M429.1 215.4h.2M414.7 267.0h.2M449.8 179.5h.2M407.1 199.7h.2M491.2 243.0h.2M373.6 271.4h.2M360.9 229.3h.2M417.0 245.8h.2M416.5 164.5h.2M429.8 259.2h.2M467.2 198.9h.2M387.3 249.3h.2M469.0 181.0h.2M480.5 281.5h.2M417.1 202.0h.2M456.1 273.4h.2M384.4 191.7h.2M402.4 247.7h.2M382.3 223.6h.2M426.5 239.4h.2M376.2 276.9h.2M497.0 225.4h.2M468.1 176.3h.2M484.3 224.2h.2M463.1 265.4h.2M407.0 272.6h.2M385.2 155.5h.2M426.8 269.3h.2M483.0 276.6h.2M428.0 273.7h.2M435.0 171.2h.2M445.0 256.9h.2M415.8 230.8h.2M392.5 188.4h.2M415.3 219.2h.2M422.0 164.5h.2M356.8 196.7h.2M457.1 249.8h.2M389.4 185.7h.2M428.9 175.3h.2M441.0 270.0h.2M384.5 228.6h.2M457.6 249.9h.2M456.4 244.9h.2M394.4 261.5h.2M486.4 159.3h.2M489.1 210.0h.2M368.2 161.6h.2M468.4 240.6h.2M376.0 212.3h.2M446.1 282.2h.2M403.4 252.2h.2M390.6 178.4h.2M378.7 205.8h.2M443.2 191.9h.2M378.8 180.9h.2M368.0 177.6h.2M400.5 218.1h.2M381.9 214.9h.2M418.0 279.0h.2M424.6 275.3h.2M422.5 178.2h.2M439.5 171.3h.2M379.9 162.0h.2M454.9 278.2h.2M412.9 198.5h.2M415.9 198.3h.2M453.4 203.4h.2M377.5 264.9h.2M436.7 153.3h.2M475.8 247.2h.2M406.0 234.4h.2M485.8 204.7h.2M417.0 191.3h.2M434.1 238.7h.2M459.6 275.9h.2M376.5 200.1h.2M476.1 255.3h.2M439.2 240.5h.2M403.9 275.3h.2M433.5 204.8h.2M381.7 167.5h.2M482.6 256.6h.2M359.8 194.5h.2M423.6 216.9h.2M407.2 268.9h.2M405.3 221.7h.2M487.0 235.6h.2M423.2 195.7h.2M410.6 231.7h.2M466.8 186.4h.2M408.2 202.9h.2M407.2 271.2h.2M432.0 188.4h.2M402.9 259.3h.2M378.6 242.2h.2M359.1 177.6h.2M364.4 257.2h.2M376.7 182.1h.2M364.1 186.8h.2M459.4 246.1h.2M484.4 275.6h.2M433.7 272.4h.2M368.6 272.8h.2M417.2 177.6h.2M461.5 264.1h.2M410.4 164.6h.2M479.1 250.5h.2M440.2 279.5h.2M361.4 159.8h.2M373.5 155.3h.2M455.9 234.4h.2M371.8 173.6h.2M381.5 231.7h.2M450.8 278.5h.2M406.9 279.8h.2M417.3 203.3h.2M391.7 182.7h.2M493.4 281.8h.2M455.5 175.3h.2M381.4 172.3h.2M405.5 248.3h.2M364.3 221.4h.2M452.0 156.9h.2M418.0 255.3h.2M437.2 211.2h.2M480.3 230.6h.2M403.5 204.0h.2M489.0 264.2h.2M485.0 225.4h.2M376.1 175.3h.2M410.0 242.3h.2M356.6 256.8h.2M466.8 219.4h.2M356.8 256.3h.2M414.4 239.5h.2M436.4 247.2h.2M413.6 277.3h.2M490.7 273.3h.2M442.7 193.6h.2M409.1 187.5h.2M483.4 255.5h.2M467.1 259.3h.2M495.7 241.9h.2M400.9 251.0h.2M393.0 231.9h.2M378.3 264.0h.2M424.9 188.3h.2M486.1 163.3h.2M487.2 250.9h.2M377.0 251.4h.2M436.8 270.4h.2M438.7 208.0h.2M487.6 163.8h.2M465.6 165.9h.2M395.0 167.3h.2M478.8 209.9h.2M458.4 185.9h.2M459.0 236.8h.2M369.8 216.7h.2M457.8 180.4h.2M448.3 188.6h.2M408.2 272.1h.2M489.0 282.2h.2M416.2 226.8h.2M470.0 251.1h.2M420.3 264.8h.2M412.6 276.0h.2M422.7 167.9h.2M461.6 171.3h.2M451.8 159.5h.2M495.3 222.8h.2M460.4 169.6h.2M445.8 201.4h.2M391.1 258.4h.2M360.7 214.6h.2M368.3 263.2h.2M481.9 157.0h.2M421.5 213.5h.2M457.3 247.3h.2M404.4 273.8h.2M382.1 170.3h.2M470.9 168.1h.2M382.2 217.5h.2M403.4 173.8h.2M487.1 214.1h.2M466.8 185.0h.2M484.7 181.3h.2M483.8 232.2h.2M492.9 252.8h.2M444.9 221.8h.2M476.5 210.2h.2M369.9 271.3h.2M469.6 241.2h.2M461.0 182.7h.2M421.3 259.5h.2M491.6 272.5h.2M378.6 241.4h.2M434.1 205.2h.2M379.7 170.3h.2M422.3 216.6h.2M393.8 200.3h.2M434.1 251.5h.2M439.1 173.6h.2M480.9 200.3h.2M491.3 280.1h.2M375.8 228.2h.2M492.3 202.6h.2M433.2 193.3h.2M360.0 179.1h.2M373.5 189.5h.2M444.8 225.7h.2M489.7 241.6h.2M407.1 275.9h.2M445.4 223.1h.2M477.6 239.6h.2M406.8 231.1h.2M398.3 278.5h.2M390.4 279.0h.2M365.1 153.8h.2M434.0 179.2h.2M427.6 167.9h.2M474.0 239.5h.2M452.5 273.0h.2M495.9 240.7h.2M456.6 152.7h.2M362.9 208.0h.2M492.6 193.2h.2M436.2 153.6h.2M414.6 269.8h.2M439.1 259.7h.2M357.8 178.9h.2M381.3 260.7h.2M370.3 273.7h.2M393.7 267.0h.2M428.7 194.6h.2M492.3 205.2h.2M454.3 161.2h.2M473.1 280.1h.2M371.6 249.5h.2M394.1 171.7h.2M407.4 238.5h.2M490.5 281.7h.2M496.1 233.5h.2M448.1 173.4h.2M458.4 224.2h.2M406.6 269.5h.2M392.0 170.9h.2M378.3 171.9h.2M439.0 256.6h.2M378.6 217.9h.2M437.0 225.4h.2M414.2 223.2h.2M358.1 160.1h.2M415.6 183.3h.2M462.7 183.9h.2M472.2 183.9h.2M369.1 214.6h.2M410.6 196.1h.2M463.9 181.4h.2M450.5 261.0h.2M419.8 217.9h.2M486.2 231.0h.2M381.5 161.5h.2M367.6 195.6h.2M368.5 236.8h.2M415.7 192.6h.2M428.2 274.3h.2M390.5 172.6h.2M399.1 194.7h.2M484.3 244.3h.2M416.5 174.1h.2M362.4 168.4h.2M475.5 236.7h.2M378.1 233.8h.2M364.2 218.4h.2M403.3 165.8h.2M460.7 245.7h.2M428.0 174.4h.2M450.4 208.8h.2M449.2 164.4h.2M483.3 153.0h.2M387.4 204.3h.2M384.0 163.9h.2M452.9 281.7h.2M403.2 187.1h.2M450.6 181.4h.2M412.5 242.0h.2M416.7 172.7h.2M365.9 223.1h.2M495.7 272.1h.2M370.1 217.8h.2M424.9 177.7h.2M450.4 216.9h.2M470.0 190.5h.2M487.7 258.4h.2M422.8 170.9h.2M424.2 169.0h.2M452.7 243.2h.2M437.5 279.4h.2M362.4 245.5h.2M468.9 167.2h.2M401.4 159.5h.2M438.2 246.5h.2M405.1 242.9h.2M407.7 245.1h.2M395.0 279.7h.2M417.7 153.0h.2M368.9 246.9h.2M477.9 235.3h.2M377.9 265.9h.2M457.1 167.5h.2M409.7 239.8h.2M356.5 158.0h.2M405.9 266.2h.2M496.5 193.9h.2M484.2 254.7h.2M478.0 229.0h.2M492.7 236.2h.2M489.6 226.1h.2M383.7 219.9h.2M424.1 196.4h.2M408.7 218.9h.2M438.9 181.4h.2M395.1 217.9h.2M427.0 206.9h.2M449.6 176.6h.2M431.0 188.4h.2M464.6 244.0h.2M466.1 219.8h.2M391.1 272.8h.2M428.0 201.3h.2M396.9 204.8h.2M455.9 258.9h.2M424.0 247.5h.2M386.0 211.3h.2M406.5 192.3h.2M406.7 250.6h.2M459.4 179.5h.2M389.0 254.5h.2M448.3 240.4h.2M445.6 242.7h.2M394.5 160.4h.2M406.8 156.7h.2M491.6 220.7h.2M450.5 278.1h.2M469.4 182.3h.2M403.5 166.6h.2M468.2 248.3h.2M424.8 200.5h.2M394.1 215.8h.2M456.4 268.9h.2M475.7 265.3h.2M417.9 207.3h.2M400.3 279.1h.2M381.9 173.0h.2M395.6 272.4h.2M476.2 195.6h.2M476.1 268.3h.2M416.2 177.5h.2M465.0 201.2h.2M372.8 269.9h.2M418.0 204.2h.2M439.9 185.7h.2M358.9 203.2h.2M409.5 153.9h.2M408.4 251.5h.2M402.9 240.8h.2M444.1 177.0h.2M358.9 240.2h.2M442.1 190.7h.2M384.2 263.7h.2M484.2 182.8h.2M438.6 227.2h.2M401.4 157.2h.2M401.9 236.3h.2M440.9 218.8h.2M373.3 180.2h.2M399.9 206.6h.2M407.2 269.8h.2M372.4 280.7h.2M389.9 263.9h.2M390.3 228.8h.2M409.2 157.4h.2M468.3 257.9h.2M394.0 253.4h.2M423.6 280.8h.2M363.7 201.9h.2M388.1 233.7h.2M465.7 262.0h.2M433.3 202.8h.2M468.8 166.1h.2M392.7 250.3h.2M418.1 281.6h.2M368.8 212.5h.2M386.0 152.8h.2M369.2 164.3h.2M408.0 208.7h.2M427.6 190.1h.2M455.0 219.6h.2M494.4 174.5h.2M428.0 216.7h.2M408.4 264.5h.2M385.5 266.6h.2M406.4 196.1h.2M442.7 225.7h.2M396.0 163.5h.2M490.7 200.5h.2M372.1 237.8h.2M431.0 195.1h.2M402.3 262.4h.2M403.7 206.8h.2M490.9 199.4h.2M412.7 173.6h.2M449.4 238.9h.2M418.9 205.3h.2M388.8 255.2h.2M420.5 260.6h.2M408.9 247.9h.2M360.1 181.1h.2M491.4 241.2h.2M451.3 217.1h.2M422.6 178.2h.2M380.4 236.4h.2M453.8 186.1h.2M446.9 170.2h.2M442.4 174.8h.2M427.8 193.3h.2M433.6 169.9h.2M424.2 232.7h.2M375.0 192.6h.2M451.7 223.5h.2M443.0 253.9h.2M436.6 181.4h.2M418.4 260.4h.2M435.9 250.4h.2M407.3 210.8h.2M492.7 259.4h.2M448.0 166.3h.2M442.3 156.8h.2M487.7 278.9h.2M458.7 187.3h.2M475.3 175.5h.2M472.7 220.2h.2M358.2 268.2h.2M418.0 260.4h.2M453.1 221.8h.2M477.6 178.9h.2M482.7 196.5h.2M359.7 196.3h.2M365.3 161.9h.2M444.0 168.2h.2M378.5 190.5h.2M395.3 272.1h.2M483.7 265.6h.2M495.6 209.7h.2M468.2 189.0h.2M486.6 257.9h.2M459.2 182.1h.2M368.9 272.8h.2M433.9 232.1h.2M477.5 171.2h.2M454.6 212.8h.2M466.8 211.8h.2M383.7 276.8h.2M395.6 249.3h.2M473.2 184.7h.2M454.0 204.0h.2M387.6 180.7h.2M490.5 200.4h.2M427.9 217.7h.2M359.7 250.5h.2M461.1 266.4h.2M406.3 179.8h.2M405.0 247.7h.2M448.8 205.3h.2M430.0 172.5h.2M485.5 213.8h.2M427.5 254.8h.2M383.9 246.4h.2M405.8 258.1h.2M369.3 188.4h.2M445.6 215.2h.2M409.1 227.7h.2M386.7 209.4h.2M356.3 256.3h.2M391.8 260.5h.2M433.9 230.7h.2M444.3 168.8h.2M465.6 190.5h.2M477.7 254.7h.2M451.6 258.5h.2M417.6 240.0h.2M490.3 177.1h.2M370.2 206.1h.2M427.8 171.9h.2M387.2 265.2h.2M410.7 171.9h.2M381.8 227.6h.2M382.8 214.3h.2M431.8 209.7h.2M427.0 261.3h.2M358.4 273.4h.2M384.1 157.5h.2M464.2 226.6h.2M431.8 180.8h.2M466.1 192.3h.2M458.5 182.2h.2M436.8 236.8h.2M408.4 214.9h.2M365.2 236.1h.2M453.5 172.4h.2M433.6 247.8h.2M370.3 261.6h.2M478.7 159.1h.2M391.0 163.4h.2M391.6 163.7h.2M425.0 185.0h.2M398.3 212.5h.2M408.4 255.0h.2M457.9 167.3h.2M387.5 153.6h.2M402.4 166.6h.2M454.3 253.9h.2M496.4 179.7h.2M361.2 250.9h.2M414.1 273.5h.2M411.3 193.1h.2M366.2 275.7h.2M428.2 209.8h.2M417.6 252.4h.2M473.1 214.4h.2M381.1 205.3h.2M481.7 205.5h.2M449.2 225.3h.2M421.1 227.2h.2M390.6 225.0h.2M477.9 162.9h.2M408.0 267.0h.2M493.9 154.2h.2M444.4 234.7h.2M474.9 213.6h.2M374.5 191.5h.2M456.5 247.2h.2M384.8 236.0h.2M448.6 238.0h.2M359.1 209.9h.2M401.8 230.1h.2M403.5 169.2h.2M450.5 189.8h.2M467.5 192.2h.2M433.0 257.6h.2M372.3 247.5h.2M365.6 274.2h.2M359.5 246.6h.2M408.0 175.9h.2M411.7 217.7h.2M414.5 168.4h.2M429.7 191.5h.2M492.4 202.3h.2M417.4 182.1h.2M492.6 194.3h.2M447.1 260.7h.2M411.4 250.7h.2M395.3 166.7h.2M361.9 210.9h.2M479.2 178.9h.2M418.1 251.7h.2M394.9 172.3h.2M429.2 207.8h.2M488.3 269.2h.2M389.6 225.4h.2M414.7 156.9h.2M418.7 271.5h.2M398.7 228.7h.2M456.2 160.7h.2M486.3 166.7h.2M398.5 245.6h.2M358.7 201.3h.2M373.9 214.0h.2M358.2 172.1h.2M387.4 163.1h.2M368.8 177.8h.2M429.0 170.3h.2M471.8 206.7h.2M391.5 183.8h.2M474.4 158.6h.2M460.6 165.2h.2M489.2 205.6h.2M440.3 264.7h.2M370.2 160.8h.2M453.8 228.9h.2M457.7 188.6h.2M426.1 176.8h.2M417.6 189.1h.2M438.6 191.4h.2M394.7 236.0h.2M368.1 256.7h.2M425.9 182.3h.2M372.2 218.6h.2M427.0 246.0h.2M408.7 206.1h.2M481.9 188.1h.2M494.3 268.5h.2M495.6 275.1h.2M387.3 273.0h.2M340.6 265.1h.2M405.4 266.1h.2M339.0 268.4h.2M361.2 272.5h.2M368.7 276.2h.2M443.7 270.7h.2M444.1 272.3h.2M323.0 274.0h.2M319.0 270.6h.2M349.6 269.3h.2M474.2 273.6h.2M484.9 271.9h.2M410.5 273.5h.2M302.6 271.5h.2M339.1 278.6h.2M384.8 275.1h.2M464.6 273.2h.2M353.6 275.1h.2M341.8 278.3h.2M323.6 277.8h.2M335.4 274.0h.2M387.9 281.9h.2M360.1 263.8h.2M442.6 272.3h.2M410.7 268.8h.2M393.7 272.5h.2M474.5 276.8h.2M474.8 281.9h.2M306.6 272.6h.2M405.5 269.8h.2M464.3 269.8h.2M431.1 279.7h.2M337.9 269.6h.2M493.6 269.5h.2M337.0 273.6h.2M354.0 272.3h.2M323.2 278.4h.2M334.4 279.9h.2M456.6 280.9h.2M469.6 278.8h.2M324.9 276.1h.2M483.6 270.8h.2M488.6 279.1h.2M339.5 271.3h.2M407.5 276.8h.2M467.2 272.9h.2M452.5 274.0h.2M319.7 265.9h.2M488.8 282.4h.2M442.5 280.3h.2M362.5 271.5h.2M447.9 268.3h.2M308.5 279.4h.2M458.2 271.6h.2M392.9 275.9h.2M407.4 269.3h.2M305.0 271.6h.2M469.3 274.2h.2M433.4 259.5h.2M486.5 281.4h.2M488.5 282.1h.2M443.3 278.6h.2M386.4 275.3h.2M417.2 275.9h.2M305.8 269.6h.2M481.9 273.8h.2M326.9 275.7h.2M496.0 273.7h.2M328.9 269.9h.2M476.8 270.0h.2M325.8 267.2h.2M381.4 274.5h.2M382.6 273.8h.2M311.2 276.8h.2M487.9 274.0h.2M465.7 273.8h.2M437.0 272.2h.2M397.1 270.6h.2M400.9 274.2h.2M458.0 282.3h.2M352.4 274.5h.2M427.6 280.6h.2M412.3 279.5h.2M401.0 269.4h.2M494.8 274.2h.2M364.7 275.1h.2M361.7 278.4h.2M306.8 278.4h.2M481.4 261.7h.2M437.4 275.2h.2M443.8 274.3h.2M443.6 268.9h.2M340.6 266.4h.2M452.8 271.3h.2M333.0 267.8h.2M492.7 277.0h.2M321.0 276.8h.2M442.6 273.8h.2M453.6 265.3h.2M401.6 261.5h.2M427.7 268.8h.2M429.2 268.1h.2M449.1 270.3h.2M412.8 278.4h.2M383.0 278.6h.2M385.2 268.7h.2M377.1 271.9h.2M384.1 262.9h.2M303.3 272.9h.2M388.4 268.1h.2M416.6 271.0h.2M303.0 277.3h.2M472.1 278.6h.2M391.6 272.2h.2M464.8 278.5h.2M347.5 273.7h.2M392.5 270.7h.2M457.3 276.8h.2M470.1 275.9h.2M417.0 271.7h.2M494.1 272.6h.2M328.6 267.5h.2M311.9 273.7h.2M459.4 271.8h.2M431.1 261.5h.2M483.7 276.1h.2M421.5 280.5h.2M382.9 278.7h.2M324.0 269.8h.2M345.1 269.7h.2M364.0 280.5h.2M386.6 275.5h.2M441.9 270.5h.2M364.5 269.0h.2M419.4 278.7h.2M422.8 278.0h.2M425.7 273.1h.2M324.5 275.3h.2M410.4 276.4h.2M421.8 278.5h.2M477.4 269.4h.2M415.4 273.6h.2M354.3 274.7h.2M351.6 270.6h.2M386.4 277.0h.2M337.9 272.0h.2M325.9 275.2h.2M377.8 279.3h.2M449.7 268.4h.2M378.1 277.9h.2M452.5 279.2h.2M481.5 270.4h.2M349.4 281.3h.2M434.3 273.0h.2M375.1 273.6h.2M474.4 277.2h.2M370.8 271.9h.2M403.8 267.7h.2M340.8 276.4h.2M434.3 278.9h.2M385.3 274.1h.2M313.6 273.7h.2M462.1 278.1h.2M408.4 271.9h.2M357.4 278.0h.2M355.2 268.0h.2M437.5 280.6h.2M322.4 268.2h.2M308.8 276.4h.2M404.1 278.0h.2M461.9 268.5h.2M347.7 270.7h.2M493.4 274.1h.2M309.1 268.5h.2M493.4 273.6h.2M428.7 266.2h.2M319.9 277.4h.2M426.7 272.0h.2M353.7 269.6h.2M317.1 275.8h.2M420.6 273.8h.2M368.9 276.5h.2M483.4 279.9h.2M348.8 278.3h.2M429.4 281.3h.2M400.6 279.2h.2M334.3 274.4h.2M393.8 281.2h.2M409.1 272.2h.2M392.3 261.4h.2M308.3 274.6h.2M362.6 273.0h.2M328.2 265.6h.2M325.4 267.7h.2M358.0 279.4h.2M321.4 266.6h.2M435.2 275.7h.2M330.6 268.1h.2M429.8 272.6h.2M332.4 276.9h.2M379.3 278.1h.2M408.6 278.2h.2M408.8 265.1h.2M317.3 280.1h.2M481.4 269.1h.2M450.8 263.7h.2M412.8 271.6h.2M323.2 273.9h.2M472.4 276.7h.2M363.4 267.8h.2M319.9 278.1h.2M439.0 277.0h.2M473.6 263.7h.2M362.5 280.2h.2M436.6 282.0h.2M373.2 272.1h.2M463.9 276.9h.2M390.7 276.1h.2M363.3 268.9h.2M401.1 273.7h.2M369.6 261.6h.2M436.6 264.2h.2M449.7 280.8h.2M409.4 270.9h.2M474.3 277.6h.2M457.8 273.1h.2M338.4 276.4h.2M404.2 276.7h.2M409.1 268.0h.2M409.8 272.5h.2M317.7 276.4h.2M327.3 272.7h.2M432.5 267.1h.2M436.4 265.6h.2M483.3 274.8h.2M346.7 274.3h.2M453.4 278.2h.2M451.8 280.0h.2M330.8 261.3h.2M447.2 271.8h.2M378.4 269.2h.2M489.2 274.6h.2M454.2 271.8h.2M444.2 269.4h.2M395.9 275.7h.2M473.7 268.6h.2M434.9 266.7h.2M458.6 276.4h.2M404.2 274.7h.2M476.8 273.8h.2M440.7 262.3h.2M329.3 274.8h.2M366.5 271.5h.2M373.5 263.1h.2M495.8 272.9h.2M324.3 272.5h.2M315.0 269.2h.2M351.4 271.7h.2M465.1 280.2h.2M410.1 269.2h.2M418.7 275.8h.2M443.2 271.7h.2M462.7 276.7h.2M368.1 275.4h.2M324.9 258.5h.2M464.4 282.2h.2M488.9 274.8h.2M304.6 278.2h.2M353.9 280.9h.2M359.2 276.6h.2M432.7 266.5h.2M359.1 271.0h.2M444.8 270.5h.2M392.8 265.2h.2M391.4 273.6h.2M391.8 275.7h.2M421.4 278.6h.2M468.2 276.8h.2M334.6 267.6h.2M353.4 272.7h.2M321.9 256.7h.2M301.2 270.6h.2M417.7 278.4h.2M322.1 277.0h.2M479.0 269.5h.2M364.9 272.7h.2M490.2 277.5h.2M416.1 275.0h.2M407.0 272.1h.2M320.5 272.6h.2M373.5 281.4h.2M488.5 273.9h.2M352.0 276.3h.2M410.4 269.0h.2M484.0 280.1h.2M486.5 277.3h.2M461.7 270.8h.2M303.6 261.5h.2M350.2 281.2h.2M372.3 270.2h.2M439.6 271.8h.2M314.1 281.6h.2M437.2 272.1h.2M315.4 276.7h.2M496.6 276.0h.2M456.5 267.7h.2M491.1 280.6h.2M354.2 270.7h.2M431.9 272.9h.2M466.1 267.5h.2M467.2 278.2h.2M339.2 274.8h.2M405.8 273.0h.2M413.2 282.2h.2M336.5 267.2h.2M384.5 278.2h.2M300.6 281.9h.2M326.0 279.2h.2M350.3 278.2h.2M473.7 262.8h.2M418.0 274.3h.2M371.8 280.3h.2M346.7 274.7h.2M415.8 278.1h.2M314.8 273.5h.2M436.8 277.3h.2M386.5 276.7h.2M494.3 271.6h.2M393.6 278.7h.2M332.0 266.4h.2M363.8 279.4h.2M456.9 275.1h.2M423.6 276.5h.2M389.2 276.5h.2M447.0 272.6h.2M432.0 271.8h.2M420.5 276.3h.2M449.4 267.3h.2M435.1 275.2h.2M420.0 270.6h.2M391.3 275.8h.2M409.7 262.2h.2M364.7 275.4h.2M445.5 282.3h.2M348.8 265.7h.2M377.1 252.9h.2M484.9 266.0h.2M470.7 277.4h.2M340.1 264.2h.2M360.3 264.2h.2M424.2 275.5h.2M483.2 273.8h.2M314.1 273.7h.2M307.2 272.7h.2M403.6 274.6h.2M424.6 277.5h.2M489.1 268.8h.2M406.7 280.5h.2M351.8 274.1h.2M349.2 273.5h.2M363.2 279.2h.2M307.2 269.2h.2M358.9 265.6h.2M321.5 267.1h.2M453.5 268.3h.2M383.0 278.6h.2M480.8 273.2h.2M444.9 273.0h.2M306.9 270.8h.2M463.7 270.1h.2M361.6 266.5h.2M352.6 280.5h.2M303.9 270.5h.2M367.1 272.7h.2M492.7 275.8h.2M477.9 274.2h.2M382.2 273.5h.2M322.0 272.3h.2M455.5 263.2h.2M456.0 274.7h.2M318.3 274.7h.2M465.9 277.5h.2M346.2 267.6h.2M468.8 277.9h.2M300.4 277.7h.2M493.6 265.1h.2M457.9 279.2h.2M482.6 273.2h.2M344.6 278.9h.2M363.9 264.2h.2M438.3 263.8h.2M366.3 272.7h.2M381.4 273.7h.2M474.9 264.7h.2M360.9 279.7h.2M412.9 266.0h.2M380.4 271.8h.2M319.1 273.0h.2M361.3 275.4h.2M441.2 275.3h.2M444.1 271.0h.2M442.2 271.3h.2M462.7 270.8h.2M411.2 271.1h.2M377.8 273.6h.2M470.4 277.4h.2M424.6 277.4h.2M352.0 272.5h.2M149.3 272.5h.2M260.5 267.3h.2M224.3 256.7h.2M255.8 268.1h.2M92.3 273.1h.2M95.3 245.7h.2M259.4 256.0h.2M161.6 254.1h.2M195.7 242.2h.2M249.0 258.6h.2M143.2 279.3h.2M203.0 262.9h.2M204.3 265.5h.2M249.6 263.8h.2M150.2 235.5h.2M118.8 266.6h.2M200.6 273.9h.2M219.9 266.8h.2M111.8 263.6h.2M236.1 235.7h.2M229.6 277.0h.2M184.3 256.8h.2M235.8 266.9h.2M206.9 248.8h.2M115.7 257.3h.2M242.2 269.5h.2M227.9 253.9h.2M94.0 260.1h.2M259.2 265.5h.2M149.2 247.0h.2M181.6 274.7h.2M199.8 251.7h.2M260.5 266.1h.2M134.1 250.7h.2M108.7 260.2h.2M109.7 244.1h.2M162.9 261.2h.2M93.5 267.0h.2M247.0 259.8h.2M90.9 258.7h.2M130.9 257.5h.2M160.9 262.4h.2M160.3 251.3h.2M157.3 254.0h.2M259.8 260.9h.2M117.9 270.5h.2M147.8 271.3h.2M216.7 276.6h.2M150.3 265.7h.2M255.0 258.7h.2M141.5 272.1h.2M181.7 259.1h.2M159.1 276.6h.2M214.2 259.2h.2M186.1 272.7h.2M216.1 255.9h.2M98.5 253.3h.2M103.4 265.9h.2M116.6 267.1h.2M205.6 250.2h.2M126.0 280.4h.2M128.2 264.3h.2M209.4 267.1h.2M190.1 261.9h.2M208.2 280.2h.2M162.2 250.6h.2M164.5 252.8h.2M99.5 246.1h.2M152.0 280.2h.2M201.3 276.7h.2M243.2 271.1h.2M151.9 253.7h.2M129.4 270.6h.2M121.5 272.5h.2M177.2 273.0h.2M260.4 281.8h.2M258.2 257.2h.2M238.4 267.2h.2M264.0 262.8h.2M245.0 251.6h.2M163.7 252.8h.2M161.5 269.7h.2M133.6 272.0h.2M105.2 271.0h.2M245.5 252.5h.2M137.2 254.9h.2M237.0 258.3h.2M121.4 254.4h.2M143.1 251.8h.2M97.4 249.9h.2M234.7 263.0h.2M120.3 265.4h.2M231.8 269.8h.2M125.7 260.3h.2M97.8 260.1h.2M214.2 257.1h.2M170.5 262.1h.2M257.4 252.1h.2M160.7 270.1h.2M176.5 281.9h.2M190.3 267.6h.2M147.1 260.6h.2M256.2 268.3h.2M238.9 252.2h.2M185.3 271.4h.2M119.7 278.0h.2M112.8 265.4h.2M187.6 264.1h.2M113.0 262.2h.2M204.1 238.7h.2M205.3 242.0h.2M173.4 264.1h.2M242.1 280.3h.2M171.0 267.0h.2M122.8 258.7h.2M190.5 264.2h.2M123.2 260.2h.2M210.8 256.1h.2M197.4 256.2h.2M137.4 238.2h.2M209.5 245.1h.2M236.0 274.7h.2M224.5 255.7h.2M251.4 257.4h.2M262.7 270.6h.2M235.4 259.2h.2M208.8 271.6h.2M167.0 246.8h.2M156.0 266.1h.2M182.9 248.0h.2M245.0 263.6h.2M168.9 262.3h.2M100.6 264.4h.2M246.6 258.4h.2M124.4 273.1h.2M208.5 274.5h.2M158.8 251.6h.2M258.9 254.8h.2M176.9 251.2h.2M159.1 259.3h.2M210.8 273.7h.2M255.2 271.9h.2M224.1 253.0h.2M100.7 259.5h.2M99.7 242.0h.2M243.6 257.0h.2M116.6 261.9h.2M171.8 243.9h.2M242.1 265.5h.2M178.1 270.3h.2M217.7 254.0h.2M243.8 264.7h.2M155.4 255.8h.2M172.3 265.4h.2M213.9 252.5h.2M174.3 273.2h.2M84.7 270.0h.2M184.0 260.1h.2M260.8 263.0h.2M120.7 265.5h.2M111.0 269.2h.2M90.3 252.3h.2M133.0 255.8h.2M139.5 261.6h.2M250.8 255.2h.2M193.6 264.5h.2M103.5 247.7h.2M99.0 260.2h.2M184.5 256.0h.2M197.0 277.4h.2M251.7 257.0h.2M117.0 258.0h.2M213.4 263.3h.2M160.0 258.7h.2M135.1 242.1h.2M186.6 266.1h.2M220.9 262.8h.2M197.6 254.0h.2M152.3 249.9h.2M206.6 264.0h.2M113.8 265.1h.2M140.7 257.0h.2M240.5 271.5h.2M259.6 261.1h.2M89.5 268.4h.2M89.0 260.1h.2M224.2 270.8h.2M83.8 276.2h.2M105.6 259.4h.2M170.1 265.3h.2M146.9 261.2h.2M262.0 250.4h.2M239.4 272.6h.2M248.9 281.6h.2M187.6 256.0h.2M142.2 261.0h.2M123.4 266.6h.2M142.8 275.0h.2M225.3 245.2h.2M98.8 253.7h.2M240.1 247.9h.2M126.8 261.3h.2M212.0 248.7h.2M191.2 270.9h.2M108.6 256.8h.2M85.5 277.9h.2M200.0 246.8h.2M143.7 257.5h.2M171.2 245.5h.2M96.1 264.4h.2M177.4 261.2h.2M130.8 275.3h.2M120.8 264.4h.2M246.2 261.3h.2M185.5 254.1h.2M84.1 274.9h.2M103.4 256.2h.2M179.0 247.1h.2M136.3 262.5h.2M251.7 259.2h.2M234.8 259.3h.2M247.0 256.7h.2M242.5 276.9h.2M246.5 279.2h.2M128.7 270.1h.2M231.6 257.7h.2M250.3 251.7h.2M189.1 261.1h.2M219.2 257.2h.2M175.3 253.1h.2M177.0 263.7h.2M239.6 269.6h.2M239.9 257.0h.2M177.4 247.6h.2M189.1 261.4h.2M165.0 261.0h.2M262.9 265.1h.2M96.9 272.8h.2M129.9 263.2h.2M231.1 259.7h.2M230.9 267.2h.2M255.8 256.3h.2M151.6 238.6h.2M183.8 269.5h.2M209.1 262.8h.2M131.7 262.6h.2M102.2 265.4h.2M260.6 255.2h.2M208.7 267.6h.2M141.6 276.7h.2M180.5 278.8h.2M228.9 270.7h.2M190.5 258.7h.2M106.3 253.5h.2M143.0 261.2h.2M107.5 249.2h.2M127.3 260.3h.2M90.8 262.3h.2M166.2 276.0h.2M106.4 277.6h.2M221.9 264.4h.2M183.3 253.6h.2M267.0 254.7h.2M264.0 255.4h.2M130.8 270.3h.2M160.9 259.6h.2M141.2 250.0h.2M210.7 245.1h.2M116.4 278.0h.2M176.7 261.0h.2M240.5 272.5h.2M228.7 270.4h.2M226.9 260.3h.2M171.5 258.8h.2M132.5 254.2h.2M167.3 255.7h.2M182.6 244.1h.2M135.0 250.9h.2M133.6 264.0h.2M240.5 266.5h.2M253.5 268.6h.2M250.7 268.7h.2M139.0 257.8h.2M94.9 262.0h.2M85.3 273.8h.2M129.7 247.1h.2M111.3 264.6h.2M105.4 259.9h.2M105.2 265.8h.2M101.7 268.3h.2M90.4 242.4h.2M232.1 270.0h.2M138.3 249.9h.2M235.0 264.7h.2M260.1 263.5h.2M123.7 276.4h.2M91.2 253.5h.2M100.1 258.6h.2M206.4 257.5h.2M207.6 263.3h.2M121.9 273.3h.2M244.6 251.6h.2M198.1 250.8h.2M93.8 275.1h.2M178.3 250.6h.2M192.3 245.2h.2M181.7 262.8h.2M134.2 255.1h.2M83.4 261.3h.2M179.4 272.9h.2M121.4 250.4h.2M177.0 250.6h.2M168.1 255.4h.2M177.2 254.2h.2M178.4 242.9h.2M228.3 259.9h.2M130.7 257.4h.2M140.8 254.9h.2M137.3 271.2h.2M268.1 261.0h.2M212.7 252.4h.2M254.5 269.6h.2M260.8 273.9h.2M152.3 275.0h.2M142.0 249.4h.2M109.4 265.6h.2M147.6 252.3h.2M168.8 259.1h.2M253.0 241.0h.2M225.0 266.3h.2M83.8 270.6h.2M119.8 258.6h.2M171.1 267.3h.2M107.0 256.1h.2M128.4 253.6h.2M210.1 261.0h.2M238.4 263.9h.2M222.8 268.0h.2M131.6 256.2h.2M212.0 277.8h.2M184.5 269.7h.2M161.2 264.6h.2M264.9 270.2h.2M97.0 272.6h.2M263.2 261.7h.2M221.9 243.7h.2M115.9 262.2h.2M185.1 264.8h.2M97.6 264.3h.2M253.6 267.7h.2M229.4 256.1h.2M108.6 248.7h.2M100.8 274.3h.2M229.2 244.8h.2M145.1 257.1h.2M90.3 275.0h.2M176.8 271.3h.2M224.6 264.6h.2M121.8 269.7h.2M240.7 260.3h.2M217.5 256.4h.2M89.7 254.5h.2M224.7 263.6h.2M216.2 259.3h.2M90.5 255.9h.2M201.5 261.5h.2M238.4 260.7h.2M249.4 254.2h.2M203.6 271.3h.2M254.7 254.9h.2M225.5 252.3h.2M173.6 274.3h.2M159.5 264.6h.2M144.8 256.4h.2M140.5 266.4h.2M221.5 270.3h.2M239.8 254.7h.2M105.8 245.6h.2M227.8 260.4h.2M154.5 274.5h.2M204.0 259.2h.2M188.6 266.0h.2M157.8 273.4h.2M223.0 252.6h.2M188.5 262.1h.2M267.8 256.6h.2M190.5 256.7h.2M99.4 258.3h.2M213.7 259.8h.2M129.9 247.3h.2M173.1 263.6h.2M251.7 247.8h.2M99.1 262.3h.2M198.8 260.4h.2M181.9 271.3h.2M206.7 266.7h.2M243.8 272.6h.2M230.4 267.6h.2M104.2 280.5h.2M146.2 247.2h.2M121.3 266.3h.2M160.4 267.6h.2M214.0 273.8h.2M259.8 257.1h.2M161.9 261.9h.2M160.4 261.9h.2M86.7 274.3h.2M103.8 275.4h.2M138.2 250.0h.2M88.2 260.0h.2M103.0 257.5h.2M99.7 252.9h.2M171.5 234.7h.2M116.0 273.3h.2M261.2 267.7h.2M227.1 271.5h.2M149.1 270.1h.2M264.3 258.4h.2M130.2 248.9h.2M163.7 252.4h.2M187.4 260.4h.2M99.3 236.1h.2M156.7 276.1h.2M176.6 262.4h.2M219.5 243.7h.2M153.4 260.4h.2M197.3 255.5h.2M85.5 264.2h.2M148.0 267.8h.2M219.8 282.3h.2M99.6 264.7h.2M259.3 275.1h.2M238.8 257.7h.2M257.5 243.4h.2M89.0 268.3h.2M227.7 251.7h.2M110.3 248.1h.2M98.0 248.5h.2M210.4 260.0h.2M115.8 238.0h.2M129.6 251.1h.2M235.0 276.5h.2M164.4 258.4h.2M160.3 256.9h.2M96.4 263.0h.2M134.5 271.9h.2M149.9 281.0h.2M245.3 242.3h.2M249.3 253.8h.2M214.8 254.9h.2M187.4 264.4h.2M140.5 263.4h.2M200.9 259.4h.2M145.6 251.0h.2M265.2 268.0h.2M267.3 246.3h.2M260.3 281.6h.2M180.4 255.9h.2M229.3 259.4h.2M172.8 263.7h.2M198.5 239.5h.2M211.8 256.9h.2M167.9 260.4h.2M94.1 273.9h.2M107.6 258.8h.2M195.4 263.4h.2M125.0 264.9h.2M254.6 275.9h.2M85.0 259.1h.2M173.1 249.1h.2M160.9 271.3h.2M179.8 262.6h.2M144.9 271.1h.2M239.8 261.7h.2M233.3 265.2h.2M175.4 250.8h.2M239.4 267.3h.2M84.9 266.8h.2M173.9 238.1h.2M255.6 269.2h.2M158.0 257.3h.2M222.6 262.1h.2M179.1 272.1h.2M90.4 279.8h.2M118.3 228.3h.2M108.3 266.9h.2M132.1 264.3h.2M255.3 253.2h.2M86.0 262.7h.2M240.3 270.6h.2M101.5 252.4h.2M263.7 243.5h.2M232.4 272.9h.2M123.1 265.6h.2M105.2 262.7h.2M189.5 278.3h.2M106.8 261.2h.2M254.8 265.6h.2M222.8 236.9h.2M264.4 266.4h.2M120.9 261.8h.2M199.3 268.5h.2M193.2 244.9h.2M181.0 260.0h.2M141.0 250.1h.2M91.8 240.7h.2M172.9 272.6h.2M162.8 274.7h.2M238.5 249.8h.2M190.3 239.9h.2M193.3 279.8h.2M145.3 259.1h.2M101.7 265.2h.2M254.2 260.3h.2M256.1 249.1h.2M195.5 241.3h.2M221.2 256.2h.2M97.2 258.0h.2M220.7 257.1h.2M186.5 263.6h.2M131.8 260.4h.2M197.5 282.4h.2M221.7 266.4h.2M166.4 252.2h.2M162.9 251.1h.2M247.0 275.6h.2M137.9 260.3h.2M84.0 255.2h.2M209.9 263.5h.2M267.6 253.2h.2M216.2 254.7h.2M239.4 277.2h.2M108.6 271.1h.2M133.5 256.4h.2M152.8 250.0h.2M137.2 259.8h.2M93.7 251.2h.2M211.8 250.3h.2M156.3 263.2h.2M106.5 260.5h.2M85.9 250.5h.2M124.8 257.9h.2M180.2 264.7h.2M261.5 262.1h.2M247.2 275.2h.2M177.0 268.2h.2M182.6 269.7h.2M257.5 249.9h.2M209.3 266.3h.2M235.4 259.5h.2M141.9 277.6h.2M262.2 253.5h.2M223.0 252.6h.2M228.1 269.7h.2M93.3 249.4h.2M216.0 258.8h.2M146.1 249.2h.2M153.5 251.9h.2M209.3 269.9h.2M180.4 256.5h.2M172.5 266.2h.2M135.7 255.3h.2M155.5 258.7h.2M264.5 257.3h.2M176.1 260.7h.2M87.6 251.8h.2M154.2 258.1h.2M264.8 260.1h.2M191.7 259.7h.2M128.4 262.6h.2M145.2 258.4h.2M172.7 257.0h.2M132.9 248.0h.2M178.8 256.0h.2M222.0 259.0h.2M204.6 259.1h.2M172.5 263.3h.2M147.9 238.5h.2M240.6 263.8h.2M83.5 276.4h.2M235.9 251.6h.2M175.1 265.7h.2M151.8 263.9h.2M199.1 277.2h.2M92.6 259.0h.2M137.1 253.5h.2M258.8 257.4h.2M265.3 266.9h.2M114.3 267.2h.2M165.2 258.8h.2M247.2 276.6h.2M95.8 266.8h.2M140.1 262.8h.2M107.4 253.4h.2M217.8 265.9h.2M262.4 272.3h.2M202.1 260.5h.2M107.1 246.1h.2M247.1 248.7h.2M108.6 272.8h.2M212.2 280.6h.2M224.3 274.7h.2M86.8 267.7h.2M219.5 264.4h.2M83.0 253.5h.2M218.8 275.9h.2M150.6 261.9h.2M143.7 272.0h.2M150.4 237.6h.2M123.6 272.6h.2M164.8 261.8h.2M140.3 257.5h.2M169.8 233.9h.2M241.5 253.5h.2M231.7 268.1h.2M263.1 262.5h.2M236.4 246.4h.2M253.5 273.8h.2M154.6 258.4h.2M83.8 252.8h.2M82.6 260.4h.2M267.2 253.8h.2M149.4 265.1h.2M207.7 247.4h.2M173.3 277.8h.2M224.1 272.2h.2M171.4 245.3h.2M174.5 255.1h.2M171.0 245.8h.2M219.3 263.6h.2M144.8 263.6h.2M207.8 252.4h.2M152.7 281.1h.2M227.1 248.0h.2M153.4 255.7h.2M195.0 270.6h.2M88.8 240.0h.2M94.4 255.5h.2M248.3 230.7h.2M217.0 246.7h.2M216.2 262.2h.2M104.4 251.5h.2M241.5 273.5h.2M123.0 250.9h.2M175.4 252.5h.2M173.5 261.1h.2M167.6 275.9h.2M264.1 260.3h.2M251.5 269.6h.2M153.4 277.4h.2M193.6 246.9h.2M138.4 255.7h.2M208.6 250.1h.2M174.3 274.8h.2M202.2 270.1h.2M83.4 261.8h.2M249.1 247.8h.2M237.0 259.8h.2M248.1 239.7h.2M155.1 281.4h.2M217.7 266.7h.2M160.6 253.7h.2M150.7 256.4h.2M240.2 270.6h.2M93.8 279.6h.2M186.6 260.8h.2M202.0 256.8h.2M245.1 278.2h.2M153.5 255.0h.2M129.1 262.0h.2M241.0 255.2h.2M201.6 253.5h.2M116.9 271.4h.2M189.5 262.2h.2M116.8 253.4h.2M131.3 259.7h.2M220.2 251.4h.2M221.9 274.6h.2M152.4 280.9h.2M185.1 265.8h.2M190.4 257.0h.2M251.2 250.4h.2M84.1 275.6h.2M158.3 259.3h.2M251.3 272.7h.2M84.3 253.8h.2M198.5 250.9h.2M236.9 268.8h.2M160.2 257.6h.2M93.7 268.8h.2M204.4 274.5h.2M190.3 261.1h.2M107.3 272.2h.2M192.8 257.9h.2M255.7 263.4h.2M181.7 257.7h.2M222.8 263.9h.2M171.7 273.6h.2M257.9 266.1h.2M125.1 269.2h.2M116.7 266.3h.2M116.0 258.7h.2M184.1 258.2h.2M125.0 269.0h.2M188.9 269.8h.2M179.3 272.6h.2M86.9 266.5h.2M86.0 262.7h.2M152.3 259.5h.2M205.2 261.7h.2M262.7 267.5h.2M135.0 262.3h.2M137.4 256.7h.2M162.7 267.0h.2M158.1 261.3h.2M121.1 270.5h.2M105.5 257.9h.2M165.7 258.1h.2M161.7 272.8h.2M147.3 259.1h.2M163.2 260.9h.2M225.0 257.9h.2M260.4 268.6h.2M183.0 247.3h.2M85.4 264.8h.2M88.2 262.6h.2M252.0 264.7h.2M102.0 272.3h.2M224.2 270.3h.2M126.1 259.0h.2M220.2 266.9h.2M112.2 260.9h.2M266.0 265.4h.2M139.6 262.1h.2M265.0 264.3h.2M176.0 263.4h.2M180.5 264.4h.2M265.3 257.7h.2M130.6 260.6h.2M254.6 265.8h.2M187.1 257.0h.2M253.2 257.9h.2M223.7 258.8h.2M256.1 254.8h.2M178.1 269.1h.2M187.8 270.0h.2M261.8 264.1h.2M109.5 272.0h.2M173.4 273.3h.2M257.0 268.6h.2M206.7 270.7h.2M144.7 261.8h.2M100.9 259.8h.2M244.3 265.5h.2M193.0 256.7h.2M258.3 258.3h.2M232.5 261.3h.2M220.6 266.8h.2M252.4 265.1h.2M157.7 260.0h.2M191.4 265.3h.2M239.2 263.1h.2M123.2 255.6h.2M150.1 265.8h.2M99.1 268.6h.2M268.0 263.2h.2M156.0 261.4h.2M246.6 256.5h.2M152.6 266.0h.2M88.4 274.7h.2M180.5 255.5h.2M255.7 271.2h.2M106.7 266.1h.2M218.5 266.0h.2M199.9 260.7h.2M264.5 260.6h.2M99.5 260.5h.2M219.6 265.8h.2M141.5 265.6h.2M88.7 272.0h.2M267.4 271.4h.2M258.2 263.6h.2M141.8 271.2h.2M115.2 260.0h.2M257.3 263.7h.2M141.1 258.4h.2M148.0 261.3h.2M260.7 270.0h.2M151.6 265.7h.2M176.2 256.0h.2M203.1 256.4h.2M86.5 262.5h.2M139.2 262.7h.2M114.6 259.9h.2M188.8 253.9h.2M102.1 259.8h.2M197.8 261.0h.2M153.5 265.4h.2M196.9 263.4h.2M83.9 260.5h.2M185.8 257.3h.2M172.4 272.8h.2M188.8 267.4h.2M116.7 263.1h.2M196.9 265.9h.2M175.6 267.7h.2M102.0 262.5h.2M249.4 267.5h.2M178.8 262.7h.2M149.6 267.4h.2M193.6 261.1h.2M87.4 273.6h.2M92.0 274.9h.2M92.1 263.5h.2M241.8 261.4h.2M84.6 264.2h.2M121.2 269.7h.2M188.9 271.1h.2M108.4 268.2h.2M89.6 273.5h.2M194.3 269.9h.2M191.1 272.0h.2M104.6 265.0h.2M157.6 272.7h.2M84.6 260.3h.2M168.2 268.1h.2M100.3 262.0h.2M210.0 265.4h.2M140.4 260.6h.2M82.6 269.2h.2M166.7 272.9h.2M215.1 264.7h.2M204.4 262.1h.2M215.5 273.5h.2M236.4 269.5h.2M218.8 265.5h.2M154.6 269.6h.2M158.6 261.3h.2M90.9 266.2h.2M127.8 268.3h.2M226.8 273.9h.2M169.8 262.4h.2M220.5 255.3h.2M187.4 269.4h.2M163.5 266.5h.2M216.8 265.8h.2M185.1 268.8h.2M86.5 266.0h.2M83.7 268.6h.2M83.3 271.9h.2M219.3 266.0h.2M141.1 269.9h.2M105.3 259.8h.2M169.7 258.2h.2M116.4 268.3h.2M123.4 266.9h.2M96.3 266.2h.2M246.7 265.9h.2M248.6 276.4h.2M237.8 260.8h.2M131.2 270.4h.2M242.8 272.4h.2M247.8 271.5h.2M217.7 256.3h.2M188.3 265.1h.2M156.1 267.1h.2M175.1 260.3h.2M240.9 258.1h.2M211.9 259.2h.2M234.1 261.5h.2M116.9 266.1h.2M152.8 273.3h.2M148.9 271.2h.2M99.1 262.4h.2M210.8 263.8h.2M93.0 262.2h.2M230.8 266.3h.2M155.6 261.4h.2M258.7 254.9h.2M116.5 277.1h.2M160.1 261.3h.2M222.9 262.8h.2M162.5 262.4h.2M127.4 254.1h.2M97.5 268.8h.2M235.2 273.9h.2M139.9 261.6h.2M258.5 271.2h.2M261.9 269.5h.2M108.3 263.1h.2M254.2 268.9h.2M92.4 259.0h.2M116.5 257.8h.2M250.9 260.4h.2M265.0 255.2h.2M208.6 271.4h.2M234.0 257.8h.2M181.1 271.6h.2M265.9 269.1h.2M264.1 274.1h.2M149.4 269.8h.2M247.4 258.8h.2M208.5 259.9h.2M244.4 280.5h.2M90.2 257.4h.2M244.4 269.2h.2M186.6 254.9h.2M233.3 268.5h.2M138.0 275.8h.2M257.6 257.8h.2M163.8 267.8h.2M225.9 272.2h.2M237.1 263.9h.2M124.8 260.9h.2M88.4 257.7h.2M249.0 262.0h.2M225.8 273.6h.2M198.9 265.2h.2M139.4 276.4h.2M254.2 262.2h.2M154.5 259.0h.2M181.3 261.9h.2M108.3 256.7h.2M181.6 271.9h.2M231.2 257.4h.2M201.1 266.0h.2M262.2 263.7h.2M161.2 268.2h.2M198.9 264.5h.2M99.6 256.1h.2M111.7 273.3h.2M263.5 266.5h.2M253.5 260.6h.2M89.4 274.2h.2M241.4 273.2h.2M239.1 261.1h.2M106.0 261.7h.2M254.4 271.3h.2M266.2 269.4h.2M250.6 265.7h.2M265.5 267.5h.2M255.6 261.0h.2M95.2 268.3h.2M84.4 257.9h.2M249.2 263.6h.2M155.9 270.6h.2M142.2 271.0h.2M106.2 258.5h.2M154.5 272.2h.2M165.9 268.3h.2M156.4 265.9h.2M140.9 258.7h.2M104.9 270.5h.2M266.3 269.5h.2M127.3 275.1h.2M115.2 266.3h.2M154.0 262.9h.2M103.7 263.4h.2M162.3 266.4h.2M204.8 269.9h.2M118.3 259.5h.2M237.5 260.0h.2M207.3 258.4h.2M162.9 263.8h.2M156.7 276.5h.2M163.4 267.1h.2M168.0 259.4h.2M110.4 268.8h.2M247.8 268.8h.2M171.3 268.1h.2M253.8 268.6h.2M118.8 260.3h.2M225.2 266.2h.2M208.7 270.7h.2M193.6 265.4h.2M264.5 256.0h.2M264.1 269.6h.2M237.6 259.1h.2M266.9 263.2h.2M212.2 267.9h.2M211.9 271.2h.2M86.6 271.0h.2M118.0 270.3h.2M217.6 271.6h.2M127.2 266.5h.2M235.0 265.9h.2M145.1 257.8h.2M172.5 261.4h.2M198.9 264.7h.2M169.6 258.7h.2M183.2 258.3h.2M103.1 256.6h.2M267.8 261.1h.2M212.2 267.3h.2M161.7 263.4h.2M165.3 272.3h.2M246.8 265.9h.2M193.8 271.0h.2M201.6 266.8h.2M82.8 258.3h.2M160.6 262.2h.2M257.6 259.2h.2M190.8 266.9h.2M111.2 256.6h.2M182.9 268.6h.2M251.6 273.5h.2M237.6 264.6h.2M97.7 269.4h.2M268.4 272.0h.2M161.9 274.4h.2M139.6 268.4h.2M258.2 265.8h.2M163.9 273.7h.2M139.0 267.5h.2M169.5 261.3h.2M219.1 280.5h.2M154.2 261.6h.2M163.7 268.8h.2M252.5 266.6h.2M95.6 259.7h.2M136.6 262.4h.2M265.7 255.6h.2M238.2 268.9h.2M103.3 266.1h.2M262.2 260.6h.2M108.3 268.6h.2M198.6 269.8h.2M117.3 258.4h.2M232.1 263.6h.2M205.9 267.0h.2M162.9 268.2h.2M236.0 261.6h.2M93.5 259.6h.2M217.3 258.9h.2M215.5 267.6h.2M145.4 265.1h.2M127.6 274.4h.2M87.6 273.0h.2M234.6 260.2h.2M135.0 269.4h.2M247.9 274.1h.2M177.9 261.7h.2M175.0 263.8h.2M164.7 276.1h.2M211.6 265.1h.2M250.7 268.9h.2M179.8 258.3h.2M245.1 266.9h.2M161.8 268.0h.2M195.5 263.6h.2M230.2 270.4h.2M134.8 271.4h.2M85.6 259.7h.2M238.6 273.7h.2M267.8 262.6h.2M95.1 273.2h.2M232.0 272.2h.2M87.2 273.6h.2M153.6 270.3h.2M82.8 265.1h.2M259.2 266.1h.2M259.9 263.6h.2M116.1 272.4h.2M216.9 277.6h.2M234.2 269.3h.2M174.5 261.5h.2M135.3 257.4h.2M117.1 260.8h.2M262.9 268.2h.2M96.7 257.6h.2M186.5 267.4h.2M245.3 256.4h.2M161.0 273.4h.2M93.5 274.1h.2M184.1 266.1h.2M262.6 259.0h.2M242.9 257.6h.2M227.2 264.7h.2M225.6 266.8h.2M111.4 271.4h.2M264.9 263.1h.2M215.0 257.1h.2M156.4 267.6h.2M166.8 261.6h.2M208.4 269.4h.2M123.9 262.0h.2M209.1 282.1h.2M202.1 264.0h.2M108.2 264.7h.2M138.7 260.1h.2M117.9 272.3h.2M160.0 266.9h.2M250.4 269.2h.2M150.0 265.8h.2M138.9 266.1h.2M151.6 253.0h.2M99.0 270.3h.2M266.7 270.1h.2M210.6 268.3h.2M171.1 265.4h.2M129.7 266.2h.2M142.1 278.1h.2M169.4 266.9h.2M148.4 275.1h.2M172.0 266.0h.2M145.0 269.4h.2M207.5 266.2h.2M113.8 267.7h.2M152.1 257.7h.2M168.7 269.8h.2M110.6 267.3h.2M161.8 261.3h.2M243.8 256.3h.2M167.1 271.4h.2M170.3 261.4h.2M247.5 264.3h.2M142.8 271.1h.2M211.4 263.3h.2M96.2 258.9h.2M154.3 259.1h.2M163.6 268.3h.2M192.5 267.9h.2M143.3 270.4h.2M208.7 271.6h.2M149.2 268.5h.2M127.6 259.2h.2M181.8 264.4h.2M217.2 271.7h.2M191.9 264.4h.2M176.5 263.1h.2M247.6 274.0h.2M84.8 271.3h.2M193.0 264.7h.2M104.2 270.1h.2M224.6 274.3h.2M254.1 272.9h.2M244.5 266.9h.2M119.9 255.3h.2M186.6 272.0h.2M131.0 255.4h.2M218.5 268.8h.2M111.8 269.3h.2M221.6 266.1h.2M204.0 264.2h.2M146.5 260.2h.2M240.7 247.2h.2M100.2 273.0h.2M170.1 260.1h.2M141.2 259.4h.2M179.1 268.4h.2M131.6 258.9h.2M216.5 264.8h.2M107.6 260.4h.2M136.2 269.6h.2M145.8 274.2h.2M243.2 271.2h.2M153.9 270.0h.2M198.7 263.7h.2M150.2 268.4h.2M87.3 261.2h.2M203.1 258.5h.2M168.9 261.8h.2M201.5 267.9h.2M111.1 258.2h.2M122.7 270.2h.2M124.6 259.0h.2M140.1 268.4h.2M253.4 263.4h.2M99.7 257.7h.2M85.3 262.0h.2M236.4 270.7h.2M181.1 261.0h.2M264.8 261.2h.2M180.8 269.9h.2M102.4 271.9h.2M218.2 274.2h.2M162.3 271.9h.2M231.1 266.0h.2M220.3 265.7h.2M160.6 260.6h.2M188.6 266.1h.2M142.8 262.2h.2M170.1 263.6h.2M87.9 273.5h.2M253.4 270.2h.2M91.7 259.7h.2M95.9 270.9h.2M114.8 266.0h.2M245.0 258.9h.2M262.3 262.0h.2M106.6 260.1h.2M166.8 260.7h.2M157.4 259.1h.2M222.8 268.4h.2M216.6 267.9h.2M147.9 259.1h.2M168.4 269.6h.2M113.5 261.3h.2M166.7 261.4h.2M235.3 271.4h.2M258.4 255.5h.2M166.2 268.0h.2M236.8 259.3h.2M188.2 264.3h.2M209.1 268.4h.2M85.4 256.4h.2M176.8 258.1h.2M87.4 260.5h.2M240.6 257.0h.2M211.3 257.8h.2M245.0 265.1h.2M249.8 271.2h.2M116.5 257.2h.2M111.7 262.4h.2M245.5 271.5h.2M237.8 265.1h.2M216.1 266.0h.2M156.2 268.2h.2M206.8 264.8h.2M181.8 265.2h.2M280.9 267.6h.2M294.3 272.3h.2M304.1 264.1h.2M300.7 262.8h.2M290.3 272.1h.2M279.7 259.5h.2M297.2 278.5h.2M299.5 265.2h.2M277.7 278.5h.2M290.9 268.2h.2M298.1 248.9h.2M269.1 272.1h.2M295.9 282.5h.2M278.7 277.8h.2M273.8 251.4h.2M280.0 267.6h.2M291.3 274.0h.2M306.7 269.2h.2M293.5 267.3h.2M285.6 265.8h.2M285.3 262.6h.2M305.9 278.3h.2M274.3 274.5h.2M275.7 281.5h.2M275.1 267.0h.2M289.1 264.5h.2M304.3 278.5h.2M298.8 269.4h.2M305.1 258.8h.2M297.4 273.4h.2M279.7 265.0h.2M291.0 272.1h.2M280.7 270.2h.2M300.4 268.7h.2M274.3 254.6h.2M275.5 270.8h.2M288.2 272.0h.2M292.0 269.6h.2M303.8 270.6h.2M282.5 272.0h.2M303.1 265.2h.2M305.0 272.3h.2M290.3 277.5h.2M307.3 260.6h.2M283.5 259.1h.2M286.3 272.1h.2M289.5 280.6h.2M292.6 275.1h.2M306.0 276.9h.2M270.3 273.1h.2M281.6 267.0h.2M299.1 277.2h.2M296.5 267.0h.2M287.2 281.9h.2M276.0 274.5h.2M291.9 273.4h.2M279.3 273.7h.2M271.2 272.0h.2M303.1 264.9h.2M286.8 272.1h.2M294.6 278.5h.2M272.6 279.3h.2M282.9 281.0h.2M270.1 282.5h.2M300.0 268.4h.2M270.9 269.5h.2M294.7 267.3h.2M293.9 268.0h.2M283.8 273.6h.2M287.7 258.5h.2M271.1 270.3h.2M299.9 272.0h.2M276.0 273.8h.2M307.5 272.7h.2M291.1 269.6h.2M270.9 265.3h.2M297.3 278.2h.2M283.4 266.7h.2M284.6 277.5h.2M299.2 281.7h.2M282.2 263.9h.2M272.3 272.2h.2M303.3 276.3h.2M295.1 263.4h.2M288.6 271.1h.2M283.0 277.3h.2M294.8 270.5h.2M294.1 262.7h.2M294.0 282.2h.2M306.8 272.3h.2M276.9 264.1h.2M299.3 258.7h.2M303.3 253.4h.2M278.8 276.7h.2M270.5 265.0h.2M302.3 262.3h.2M290.7 257.0h.2M284.4 265.1h.2M296.5 281.4h.2M273.3 263.1h.2M290.6 273.2h.2M293.1 264.0h.2M290.7 267.0h.2M293.5 282.4h.2M284.7 274.0h.2M295.1 265.8h.2M293.4 268.9h.2M305.7 277.8h.2M305.6 233.6h.2M302.2 261.7h.2M298.3 248.5h.2M276.3 188.0h.2M281.7 247.2h.2M284.4 221.5h.2M272.0 215.4h.2M269.1 232.9h.2M306.5 157.0h.2M275.3 253.8h.2M299.1 207.1h.2M296.7 208.1h.2M288.1 227.9h.2M305.3 240.9h.2M304.2 157.6h.2M274.1 180.3h.2M283.9 194.8h.2M272.0 250.4h.2M287.3 159.8h.2M287.5 250.8h.2M291.9 192.6h.2M281.2 272.0h.2M303.9 270.9h.2M298.9 167.7h.2M274.7 218.5h.2M303.7 239.1h.2M280.8 172.9h.2M281.9 242.6h.2M307.6 217.8h.2M284.6 227.4h.2M302.3 264.2h.2M286.3 255.6h.2M288.6 275.3h.2M296.8 223.5h.2M288.0 193.1h.2M292.6 256.5h.2M270.4 254.3h.2M276.3 225.6h.2M291.5 177.6h.2M296.3 184.8h.2M292.7 154.3h.2M277.7 227.4h.2M307.3 262.9h.2M287.5 160.2h.2M277.7 182.8h.2M276.4 263.0h.2M280.9 216.9h.2M291.2 182.3h.2M303.2 202.1h.2M283.0 197.8h.2M304.0 276.1h.2M275.0 164.2h.2M295.5 167.4h.2M274.9 197.0h.2M301.6 262.9h.2M289.0 171.4h.2M293.0 261.7h.2M306.6 158.4h.2M290.7 170.1h.2M291.7 183.6h.2M293.9 265.5h.2M275.4 263.5h.2M278.9 153.9h.2M269.1 189.6h.2M302.3 272.2h.2M273.4 210.6h.2M295.7 164.6h.2M295.6 271.2h.2M296.9 276.1h.2M304.7 281.4h.2M273.0 232.9h.2M288.6 166.7h.2M296.3 221.9h.2M280.3 178.9h.2M295.3 205.1h.2M278.0 166.0h.2M276.1 245.7h.2M304.7 250.2h.2M306.5 279.6h.2M287.6 180.9h.2M280.5 200.4h.2M282.6 195.4h.2M278.8 210.1h.2M276.1 274.3h.2M295.4 206.8h.2M295.1 214.3h.2M301.2 227.4h.2M304.2 226.4h.2M299.7 277.9h.2M294.2 176.1h.2M297.1 197.3h.2M282.1 225.9h.2M284.2 245.0h.2M298.8 174.1h.2M270.9 229.2h.2M301.3 242.4h.2M274.5 269.4h.2M288.8 183.0h.2M289.4 197.0h.2M271.3 244.1h.2M304.4 161.5h.2M294.3 184.4h.2M273.9 195.8h.2M288.7 160.3h.2M272.9 265.7h.2M279.3 224.6h.2M304.3 269.6h.2M275.2 155.9h.2M286.1 236.5h.2M280.2 166.2h.2M294.6 169.9h.2M292.8 250.9h.2M290.6 163.6h.2M288.3 225.9h.2M298.0 198.3h.2M300.5 156.5h.2M271.7 255.3h.2M290.7 183.1h.2M305.1 162.0h.2M283.1 192.3h.2M275.3 177.8h.2M299.6 235.8h.2M271.7 165.6h.2M299.1 219.9h.2M290.2 205.7h.2M293.7 242.7h.2M307.3 269.3h.2M280.1 268.9h.2M300.8 272.2h.2M281.5 243.0h.2M303.7 244.8h.2M299.1 172.9h.2M274.4 280.4h.2M291.2 267.2h.2M270.8 176.4h.2M287.6 216.1h.2M279.7 191.0h.2M271.4 267.5h.2M305.8 258.8h.2M276.5 162.0h.2M306.0 267.6h.2M298.0 238.5h.2M275.5 276.2h.2M284.7 176.9h.2M300.3 242.6h.2M296.3 269.5h.2M271.3 264.2h.2M290.5 166.0h.2M295.8 154.2h.2M305.9 244.9h.2M298.9 208.7h.2M281.3 205.4h.2M298.2 181.1h.2M305.6 158.7h.2M292.5 175.4h.2M280.7 207.7h.2M286.7 249.3h.2M275.0 281.6h.2M307.4 277.9h.2M292.0 172.7h.2M269.4 267.8h.2M304.0 228.7h.2M306.2 229.4h.2M291.2 279.9h.2M299.3 247.1h.2M277.1 183.9h.2M291.4 248.2h.2M286.3 257.9h.2M292.1 257.3h.2M294.9 192.4h.2M275.0 264.4h.2M300.1 269.6h.2M304.4 211.8h.2M287.2 211.9h.2M274.6 232.9h.2M286.6 206.6h.2M272.4 162.5h.2M300.8 201.3h.2M280.3 174.8h.2M298.5 205.1h.2M282.1 266.7h.2M294.6 225.4h.2M287.3 217.9h.2M274.5 238.8h.2M275.5 231.8h.2M297.3 179.1h.2M301.1 262.5h.2M299.8 277.7h.2M300.3 249.8h.2M303.5 250.5h.2M283.6 170.7h.2M306.5 167.2h.2M306.9 177.4h.2M297.5 203.4h.2M287.0 236.7h.2M273.4 169.7h.2M276.6 281.6h.2M295.2 206.5h.2M292.6 211.8h.2M291.9 172.9h.2M304.7 155.8h.2M305.4 195.7h.2M300.3 162.9h.2M288.6 228.4h.2M291.8 257.8h.2M274.7 262.3h.2M307.2 162.4h.2M277.8 226.1h.2M278.3 190.4h.2M270.9 177.5h.2M273.0 271.5h.2M270.9 254.3h.2M301.2 218.3h.2M272.4 190.1h.2M292.5 251.2h.2M294.7 240.4h.2M296.4 249.2h.2M303.3 266.3h.2M300.1 199.9h.2M285.9 199.7h.2M341.6 256.1h.2M323.7 257.9h.2M317.0 260.2h.2M341.3 252.4h.2M324.6 261.6h.2M314.3 256.8h.2M334.7 255.3h.2M346.2 258.4h.2M337.8 255.7h.2M319.0 256.4h.2M313.8 256.3h.2M344.5 257.8h.2M343.5 255.6h.2M338.4 260.0h.2M336.6 262.0h.2M335.0 256.9h.2M340.3 258.1h.2M316.7 256.4h.2M341.1 260.3h.2M330.1 257.8h.2M320.9 259.2h.2M323.0 257.4h.2M343.4 260.5h.2M314.7 255.3h.2M332.9 256.9h.2M346.0 254.0h.2M330.9 255.9h.2M334.5 255.6h.2M316.9 255.0h.2M344.2 255.8h.2M339.2 254.4h.2M336.8 253.2h.2M346.9 257.4h.2M316.1 259.3h.2M342.9 259.8h.2M328.2 260.1h.2M338.8 256.6h.2M346.1 254.7h.2M313.4 257.3h.2M323.0 258.1h.2" stroke="#a0aac0" stroke-width="1.4" fill="none" opacity="0.42"/>
<path d="M392.3 261.9h.2M442.3 194.1h.2M496.6 243.4h.2M470.2 233.4h.2M367.2 267.3h.2M380.7 200.3h.2M442.9 193.0h.2M421.2 250.7h.2M369.5 244.8h.2M370.7 224.3h.2M447.6 247.8h.2M362.1 192.7h.2M491.4 214.9h.2M415.9 213.1h.2M454.2 253.7h.2M447.7 216.2h.2M436.3 228.7h.2M382.5 276.9h.2M492.0 257.8h.2M496.0 223.2h.2M474.3 198.2h.2M460.7 250.9h.2M488.3 264.0h.2M480.0 201.2h.2M467.0 224.3h.2M400.1 212.4h.2M468.6 265.0h.2M475.1 245.8h.2M380.0 188.8h.2M436.1 195.0h.2M403.5 182.9h.2M377.8 251.1h.2M387.5 265.6h.2M402.4 265.7h.2M398.7 201.2h.2M411.7 172.8h.2M417.4 213.7h.2M357.8 267.1h.2M408.9 171.5h.2M491.4 196.9h.2M391.7 174.2h.2M370.0 250.3h.2M438.1 227.4h.2M390.7 203.3h.2M492.8 212.8h.2M495.5 269.9h.2M373.6 265.6h.2M359.0 250.4h.2M470.2 248.7h.2M433.5 261.7h.2M377.8 231.4h.2M393.5 215.8h.2M383.0 250.1h.2M436.8 258.0h.2M444.6 238.0h.2M486.0 261.7h.2M435.9 207.7h.2M486.8 212.7h.2M370.4 208.5h.2M455.6 274.9h.2M447.0 245.0h.2M488.2 257.8h.2M418.8 222.8h.2M463.1 206.8h.2M371.5 240.3h.2M470.1 199.1h.2M452.4 270.6h.2M374.0 186.6h.2M425.5 208.6h.2M489.9 282.1h.2M418.8 259.5h.2M445.1 190.8h.2M493.0 190.9h.2M366.7 221.7h.2M358.5 224.9h.2M414.1 277.4h.2M414.3 265.8h.2M465.9 236.6h.2M389.5 205.3h.2M425.3 215.4h.2M447.0 227.6h.2M401.5 238.9h.2M496.5 194.0h.2M403.3 172.8h.2M369.2 177.7h.2M415.6 264.4h.2M454.4 278.7h.2M474.0 236.5h.2M437.8 172.9h.2M410.1 200.5h.2M443.5 178.8h.2M432.5 213.2h.2M425.4 216.4h.2M370.4 252.7h.2M468.9 237.9h.2M372.3 238.0h.2M478.8 281.0h.2M462.9 176.6h.2M479.9 245.3h.2M395.0 273.6h.2M472.5 270.9h.2M390.9 235.5h.2M409.4 204.4h.2M463.3 239.9h.2M402.8 231.8h.2M486.9 234.4h.2M484.8 234.3h.2M495.9 174.7h.2M420.9 232.8h.2M458.5 279.0h.2M443.9 224.6h.2M445.4 230.7h.2M455.4 276.6h.2M358.0 207.1h.2M479.6 178.1h.2M467.4 174.9h.2M447.4 260.3h.2M389.6 213.8h.2M387.9 249.7h.2M430.6 238.7h.2M401.9 236.6h.2M490.6 258.0h.2M490.2 198.9h.2M428.8 214.3h.2M404.8 260.7h.2M380.7 233.5h.2M465.1 275.3h.2M358.6 201.6h.2M425.5 275.4h.2M379.0 264.8h.2M412.0 232.3h.2M486.8 178.6h.2M402.5 188.8h.2M374.9 205.2h.2M454.8 235.9h.2M373.2 260.5h.2M427.5 187.4h.2M471.7 262.6h.2M386.6 275.8h.2M470.3 196.9h.2M356.1 267.8h.2M472.5 182.3h.2M464.1 257.3h.2M445.4 263.9h.2M494.9 207.9h.2M473.6 273.7h.2M400.2 247.4h.2M452.5 265.7h.2M435.9 202.1h.2M391.5 231.7h.2M375.1 266.9h.2M481.4 198.4h.2M454.3 246.2h.2M373.2 257.9h.2M464.1 205.5h.2M369.8 202.8h.2M464.8 223.3h.2M471.0 189.2h.2M371.0 210.2h.2M480.1 189.5h.2M366.4 255.1h.2M368.9 245.6h.2M367.8 198.9h.2M449.6 268.5h.2M413.7 221.4h.2M360.4 209.3h.2M390.1 259.0h.2M456.7 258.6h.2M431.0 249.1h.2M373.9 214.2h.2M397.3 202.8h.2M460.2 195.3h.2M401.9 202.8h.2M477.8 242.4h.2M423.8 213.7h.2M485.9 275.8h.2M419.4 234.4h.2M477.6 200.0h.2M392.5 182.9h.2M426.8 256.8h.2M378.1 219.5h.2M495.7 224.9h.2M409.9 264.7h.2M481.8 213.2h.2M373.4 242.2h.2M460.4 274.0h.2M449.1 205.7h.2M428.6 203.4h.2M418.9 223.5h.2M484.6 272.1h.2M486.6 224.6h.2M492.0 186.9h.2M485.9 242.6h.2M479.0 217.4h.2M495.7 174.3h.2M475.5 262.5h.2M408.8 263.5h.2M386.1 255.0h.2M422.1 217.1h.2M383.7 260.3h.2M459.1 181.4h.2M493.9 196.1h.2M408.9 217.5h.2M437.3 270.3h.2M489.3 241.8h.2M407.5 183.4h.2M365.7 229.1h.2M438.2 221.1h.2M494.5 217.4h.2M405.5 217.9h.2M380.2 275.7h.2M439.3 231.7h.2M416.0 199.3h.2M400.5 226.3h.2M418.9 280.2h.2M435.4 194.5h.2M363.6 189.2h.2M404.8 258.4h.2M481.4 197.7h.2M466.0 220.5h.2M431.8 230.7h.2M362.0 178.8h.2M450.1 248.0h.2M409.6 273.5h.2M471.6 205.0h.2M365.4 232.9h.2M448.3 196.4h.2M362.2 225.6h.2M360.8 253.3h.2M444.2 202.5h.2M418.8 197.4h.2M382.2 191.6h.2M471.0 221.8h.2M456.9 210.1h.2M469.8 237.6h.2M448.2 215.1h.2M435.2 192.7h.2M493.3 246.1h.2M431.1 242.4h.2M370.1 208.6h.2M388.5 265.1h.2M357.8 220.9h.2M478.5 258.4h.2M457.4 205.0h.2M388.8 249.7h.2M398.1 251.8h.2M405.3 255.9h.2M436.8 262.0h.2M495.0 213.5h.2M495.1 172.6h.2M479.7 174.8h.2M432.9 214.6h.2M464.6 206.5h.2M385.4 258.5h.2M433.6 255.4h.2M425.0 175.6h.2M464.7 195.7h.2M422.5 171.6h.2M392.5 245.4h.2M463.7 242.1h.2M427.8 279.2h.2M432.2 277.2h.2M423.9 280.4h.2M445.9 273.2h.2M438.5 276.8h.2M356.1 272.3h.2M494.2 276.5h.2M371.8 274.0h.2M387.3 274.8h.2M358.8 274.2h.2M425.7 279.1h.2M409.9 276.1h.2M384.9 279.1h.2M390.4 276.0h.2M401.7 272.8h.2M401.7 277.9h.2M358.7 279.4h.2M425.5 270.4h.2M356.4 276.9h.2M385.0 279.6h.2M373.2 268.4h.2M426.6 274.1h.2M401.0 275.2h.2M443.2 273.4h.2M443.5 271.0h.2M409.3 276.7h.2M474.1 276.3h.2M477.9 277.3h.2M464.5 275.1h.2M380.2 274.5h.2M477.3 278.2h.2M471.5 277.9h.2M488.0 272.6h.2M392.7 270.7h.2M388.9 273.3h.2M409.8 281.8h.2M382.0 280.2h.2M375.2 275.0h.2M445.8 281.6h.2M430.0 280.0h.2M385.6 270.7h.2M431.4 277.4h.2M376.7 278.6h.2M366.9 271.1h.2M368.4 277.0h.2M430.7 281.3h.2M359.8 280.3h.2M440.8 278.9h.2M367.3 276.4h.2M439.1 273.1h.2M430.7 270.8h.2M415.7 268.6h.2M495.3 274.1h.2M464.5 269.8h.2M446.0 274.5h.2M386.5 274.8h.2M436.2 273.3h.2M466.2 277.1h.2M387.2 274.8h.2M416.2 271.5h.2M455.6 274.1h.2M496.8 264.1h.2M468.8 275.5h.2M425.9 281.9h.2M488.6 272.4h.2M359.6 277.2h.2M422.3 272.6h.2M370.8 275.3h.2M424.2 278.2h.2M418.6 277.1h.2M405.1 271.1h.2M410.8 276.0h.2M374.8 281.1h.2M492.8 276.6h.2M395.7 273.9h.2M460.7 278.8h.2M425.5 276.1h.2M374.7 275.6h.2M385.1 273.3h.2M410.3 279.0h.2M492.2 271.1h.2M491.8 278.0h.2M446.5 269.8h.2M403.2 271.8h.2M361.1 280.8h.2M438.1 274.7h.2M365.4 275.9h.2M446.7 272.1h.2M396.0 279.3h.2M394.9 274.1h.2M482.0 276.5h.2M424.7 279.1h.2M494.3 278.1h.2M468.2 277.8h.2M366.6 270.0h.2M456.5 279.6h.2M467.8 282.2h.2M406.3 281.6h.2M470.8 267.7h.2M423.4 277.5h.2M392.4 278.7h.2M363.0 279.8h.2M379.1 279.7h.2M477.7 272.3h.2M377.3 271.5h.2M371.2 276.6h.2M393.1 281.7h.2M427.8 273.0h.2M441.9 282.4h.2M439.8 268.4h.2M363.1 277.7h.2M389.9 274.3h.2M375.3 270.7h.2M420.9 275.6h.2M422.3 280.0h.2M431.8 280.9h.2M399.6 280.7h.2M486.1 267.8h.2M494.9 279.6h.2M419.4 277.7h.2M392.2 275.7h.2M375.5 267.3h.2M419.6 274.3h.2M370.8 271.4h.2M466.8 277.3h.2M382.2 273.9h.2M442.2 281.5h.2M415.7 279.7h.2M486.5 277.4h.2M362.7 277.4h.2M410.8 276.8h.2M493.0 272.1h.2M360.8 281.0h.2M428.7 274.2h.2M437.8 275.6h.2M418.9 272.5h.2M373.0 277.0h.2M393.1 276.8h.2M477.9 273.9h.2M373.5 277.8h.2M422.7 269.5h.2M355.8 273.0h.2M319.9 273.5h.2M316.0 269.6h.2M349.5 270.5h.2M322.1 275.8h.2M322.2 276.6h.2M346.5 273.2h.2M351.2 268.7h.2M310.3 272.4h.2M337.9 268.5h.2M333.8 269.4h.2M315.2 276.2h.2M313.7 282.2h.2M314.9 275.0h.2M326.4 281.4h.2M321.0 273.5h.2M336.0 277.9h.2M330.0 271.2h.2M336.6 282.1h.2M318.3 274.4h.2M336.8 272.5h.2M342.8 280.1h.2M310.9 270.7h.2M337.6 274.8h.2M347.8 268.1h.2M323.3 276.4h.2M321.8 268.8h.2M320.3 274.6h.2M345.2 270.3h.2M321.7 275.0h.2M321.4 268.2h.2M313.3 274.2h.2M349.4 274.2h.2M341.2 272.2h.2M341.4 279.6h.2M317.4 269.2h.2M341.3 281.6h.2M336.9 277.8h.2M321.8 277.1h.2M311.4 270.8h.2M352.5 270.0h.2M335.5 279.9h.2M333.8 272.2h.2M322.9 263.5h.2M332.4 277.6h.2M310.1 273.0h.2M338.7 277.6h.2M333.4 263.7h.2M345.1 276.7h.2M337.5 276.5h.2M340.0 273.6h.2M330.8 275.0h.2M348.4 273.8h.2M315.7 274.1h.2M351.6 272.1h.2M342.5 274.2h.2M352.5 279.8h.2M347.1 269.6h.2M314.0 266.1h.2M325.7 277.1h.2M316.6 280.2h.2M310.3 269.2h.2M312.9 263.4h.2M338.4 270.6h.2M350.3 280.2h.2M318.4 279.0h.2M325.3 278.3h.2M312.1 279.5h.2M340.2 268.4h.2M345.3 266.4h.2M313.5 279.3h.2M353.1 270.4h.2M332.6 281.8h.2M318.0 278.8h.2M355.3 264.5h.2M332.7 272.4h.2M325.0 270.9h.2M331.2 268.3h.2M322.7 268.1h.2M320.5 278.8h.2M317.3 267.7h.2M313.1 275.7h.2M322.5 278.9h.2M345.5 274.3h.2M324.1 280.0h.2M350.0 278.0h.2M345.8 282.4h.2M338.6 277.3h.2M332.2 271.9h.2M318.4 269.8h.2M342.0 278.0h.2M349.2 278.1h.2M336.1 267.2h.2M332.7 274.5h.2M327.7 274.0h.2M326.2 274.7h.2M340.1 274.7h.2M317.3 277.5h.2M347.0 271.8h.2M339.9 268.5h.2M322.3 270.0h.2M348.4 266.9h.2M348.6 272.8h.2M321.7 271.0h.2M313.5 277.5h.2M350.3 272.7h.2M335.1 269.7h.2M350.5 279.3h.2M341.6 277.0h.2M334.6 271.1h.2M320.3 275.1h.2M340.8 268.6h.2M354.6 274.0h.2M314.8 280.9h.2M107.1 256.4h.2M107.2 258.0h.2M107.1 259.6h.2M141.2 256.7h.2M141.6 258.3h.2M141.7 259.9h.2M141.2 261.5h.2M148.6 254.7h.2M148.2 256.3h.2M175.4 249.0h.2M175.0 250.6h.2M133.7 249.6h.2M133.7 251.2h.2M93.1 248.9h.2M92.9 250.5h.2M92.8 252.1h.2M256.3 257.7h.2M256.4 259.3h.2M256.4 260.9h.2M156.2 256.4h.2M156.8 258.0h.2M156.2 259.6h.2M181.7 251.4h.2M182.1 253.0h.2M182.1 254.6h.2M229.6 249.9h.2M229.4 251.5h.2M229.5 253.1h.2M193.2 250.4h.2M193.4 252.0h.2M193.1 253.6h.2M193.0 255.2h.2M124.3 250.3h.2M123.3 251.9h.2M124.1 253.5h.2M133.9 257.3h.2M134.6 258.9h.2M134.8 260.5h.2M134.6 262.1h.2M155.8 250.0h.2M155.7 251.6h.2M156.2 253.2h.2M156.3 254.8h.2M178.3 256.0h.2M177.5 257.6h.2M178.1 259.2h.2M177.9 260.8h.2M219.5 257.7h.2M219.4 259.3h.2M220.1 260.9h.2M220.1 262.5h.2M245.5 248.7h.2M246.2 250.3h.2M246.1 251.9h.2M245.4 253.5h.2M159.1 257.8h.2M158.9 259.4h.2M159.4 261.0h.2M158.8 262.6h.2M234.5 255.1h.2M234.6 256.7h.2M235.0 258.3h.2M234.2 259.9h.2M85.4 256.1h.2M85.5 257.7h.2M85.4 259.3h.2M105.6 254.0h.2M105.2 255.6h.2M252.9 248.6h.2M252.3 250.2h.2M252.2 251.8h.2M101.5 256.6h.2M101.0 258.2h.2M101.4 259.8h.2M100.6 261.4h.2M222.9 251.7h.2M223.5 253.3h.2M259.6 258.0h.2M259.8 259.6h.2M267.5 254.2h.2M267.6 255.8h.2M208.9 257.6h.2M208.1 259.2h.2M103.9 251.3h.2M104.4 252.9h.2M104.2 254.5h.2M107.4 248.5h.2M107.2 250.1h.2M108.8 257.3h.2M109.1 258.9h.2M108.7 260.5h.2M179.0 255.4h.2M178.7 257.0h.2M179.6 258.6h.2M160.4 257.7h.2M160.5 259.3h.2M160.6 260.9h.2M107.7 248.5h.2M107.5 250.1h.2M107.0 251.7h.2M265.7 253.6h.2M265.3 255.2h.2M211.6 255.3h.2M210.8 256.9h.2M210.9 258.5h.2M211.2 260.1h.2M231.6 252.0h.2M231.7 253.6h.2M231.9 255.2h.2M267.4 255.3h.2M268.3 256.9h.2M267.8 258.5h.2M254.7 253.6h.2M254.3 255.2h.2M254.9 256.8h.2M210.4 254.5h.2M210.0 256.1h.2M105.4 257.5h.2M105.9 259.1h.2M105.5 260.7h.2M105.9 262.3h.2M249.7 254.2h.2M249.5 255.8h.2M249.8 257.4h.2M256.7 251.0h.2M257.4 252.6h.2M257.3 254.2h.2M257.5 255.8h.2M184.1 256.6h.2M183.9 258.2h.2M110.1 257.7h.2M110.9 259.3h.2M238.7 255.5h.2M238.9 257.1h.2M238.5 258.7h.2M246.6 253.6h.2M247.3 255.2h.2M149.2 255.5h.2M149.6 257.1h.2M149.5 258.7h.2M251.3 258.0h.2M250.9 259.6h.2M251.4 261.2h.2M251.9 262.8h.2M182.5 252.3h.2M182.3 253.9h.2M182.1 255.5h.2M181.9 257.1h.2M113.1 252.6h.2M113.4 254.2h.2M144.7 248.4h.2M144.5 250.0h.2M144.3 251.6h.2M119.2 254.3h.2M119.1 255.9h.2M119.8 257.5h.2M119.3 259.1h.2M243.8 254.8h.2M243.6 256.4h.2M244.4 258.0h.2M192.8 253.3h.2M192.1 254.9h.2M191.7 256.5h.2M214.8 252.0h.2M215.3 253.6h.2M215.2 255.2h.2M236.7 255.6h.2M236.5 257.2h.2M130.2 251.5h.2M130.7 253.1h.2M131.1 254.7h.2M130.7 256.3h.2M90.3 249.3h.2M90.6 250.9h.2M90.6 252.5h.2M90.2 254.1h.2M223.3 250.8h.2M223.5 252.4h.2M104.3 251.4h.2M104.7 253.0h.2M104.5 254.6h.2M253.5 256.0h.2M253.5 257.6h.2M253.6 259.2h.2M196.8 258.0h.2M197.3 259.6h.2M105.3 257.2h.2M104.9 258.8h.2M160.7 253.8h.2M160.9 255.4h.2M160.9 257.0h.2M186.9 255.5h.2M187.4 257.1h.2M233.0 250.7h.2M232.3 252.3h.2M232.0 253.9h.2M98.6 255.4h.2M98.2 257.0h.2M98.1 258.6h.2M98.6 260.2h.2M232.3 252.2h.2M232.6 253.8h.2M110.0 249.7h.2M109.5 251.3h.2M109.7 252.9h.2M201.5 254.7h.2M201.8 256.3h.2M201.7 257.9h.2M201.8 259.5h.2M112.3 256.5h.2M112.4 258.1h.2M146.7 252.8h.2M147.4 254.4h.2M156.5 257.9h.2M156.6 259.5h.2M156.9 261.1h.2M179.9 256.5h.2M180.3 258.1h.2M102.5 248.1h.2M102.9 249.7h.2M102.6 251.3h.2M102.4 252.9h.2M215.5 256.8h.2M215.2 258.4h.2M138.6 249.4h.2M138.9 251.0h.2M84.9 252.3h.2M84.8 253.9h.2M84.6 255.5h.2M84.7 257.1h.2M249.6 255.7h.2M250.0 257.3h.2M249.8 258.9h.2M148.3 253.0h.2M148.6 254.6h.2M213.9 249.8h.2M213.9 251.4h.2M125.9 251.9h.2M125.7 253.5h.2M125.6 255.1h.2M125.5 256.7h.2M131.8 250.3h.2M132.1 251.9h.2M131.9 253.5h.2M132.0 255.1h.2M221.0 256.0h.2M221.4 257.6h.2M221.8 259.2h.2M193.5 255.5h.2M194.0 257.1h.2M193.8 258.7h.2M138.8 252.0h.2M138.8 253.6h.2M138.4 255.2h.2M138.5 256.8h.2M103.0 254.4h.2M102.8 256.0h.2M102.9 257.6h.2M174.0 252.2h.2M173.6 253.8h.2M174.3 255.4h.2M173.9 257.0h.2M94.5 256.1h.2M94.4 257.7h.2M94.1 259.3h.2M257.7 248.2h.2M256.9 249.8h.2M257.7 251.4h.2M232.9 253.3h.2M232.6 254.9h.2M232.5 256.5h.2M232.6 258.1h.2M244.8 249.5h.2M244.3 251.1h.2M244.5 252.7h.2M243.9 254.3h.2M164.4 252.4h.2M164.3 254.0h.2M163.8 255.6h.2M164.7 257.2h.2M83.8 248.0h.2M84.4 249.6h.2M84.7 251.2h.2M84.6 252.8h.2M198.9 250.6h.2M198.7 252.2h.2M198.6 253.8h.2M132.0 250.1h.2M132.3 251.7h.2M154.9 254.4h.2M155.3 256.0h.2M215.6 250.1h.2M215.9 251.7h.2M215.6 253.3h.2M215.5 254.9h.2M185.2 251.9h.2M185.3 253.5h.2M185.7 255.1h.2M243.9 252.4h.2M244.3 254.0h.2M243.6 251.7h.2M243.5 253.3h.2M242.8 254.9h.2M244.1 256.5h.2M225.5 253.1h.2M225.6 254.7h.2M185.0 257.3h.2M185.2 258.9h.2M184.9 260.5h.2M185.1 262.1h.2M99.2 254.5h.2M99.2 256.1h.2M99.4 257.7h.2M99.0 259.3h.2M142.5 257.9h.2M142.5 259.5h.2M142.4 261.1h.2M142.2 262.7h.2M85.0 252.1h.2M85.5 253.7h.2M86.0 255.3h.2M85.5 256.9h.2M236.9 253.9h.2M237.1 255.5h.2M236.2 257.1h.2M163.1 254.2h.2M162.4 255.8h.2M162.6 257.4h.2M158.6 249.1h.2M159.0 250.7h.2M199.4 250.9h.2M199.1 252.5h.2M223.0 252.9h.2M223.5 254.5h.2M223.5 256.1h.2M223.8 257.7h.2M201.9 257.8h.2M201.4 259.4h.2M163.4 250.3h.2M163.3 251.9h.2M268.0 252.7h.2M267.9 254.3h.2M191.9 256.5h.2M191.5 258.1h.2M191.7 259.7h.2M191.7 261.3h.2M96.0 251.3h.2M96.1 252.9h.2M96.8 254.5h.2M88.2 249.8h.2M88.1 251.4h.2M87.9 253.0h.2M176.4 254.8h.2M176.6 256.4h.2M176.6 258.0h.2M176.4 259.6h.2M246.3 248.4h.2M246.2 250.0h.2M246.8 251.6h.2M244.7 249.8h.2M244.6 251.4h.2M244.8 253.0h.2M245.0 254.6h.2M236.2 255.9h.2M235.6 257.5h.2M110.8 257.0h.2M110.6 258.6h.2M110.5 260.2h.2M131.9 255.8h.2M132.2 257.4h.2M132.0 259.0h.2M220.1 254.9h.2M219.7 256.5h.2M200.0 249.4h.2M199.2 251.0h.2M199.7 252.6h.2M234.7 254.6h.2M235.1 256.2h.2M234.2 257.8h.2M234.8 259.4h.2M221.6 254.8h.2M222.5 256.4h.2M153.2 249.4h.2M152.0 251.0h.2M152.3 252.6h.2M152.6 254.2h.2M174.4 252.9h.2M174.1 254.5h.2M173.6 256.1h.2M121.4 252.2h.2M121.2 253.8h.2M121.7 255.4h.2M121.1 257.0h.2M170.2 250.5h.2M170.5 252.1h.2M169.6 253.7h.2M169.9 255.3h.2M164.4 255.4h.2M164.5 257.0h.2M164.0 258.6h.2M164.4 260.2h.2M183.5 250.4h.2M182.6 252.0h.2M183.0 253.6h.2M254.9 257.9h.2M254.3 259.5h.2M254.8 261.1h.2M125.3 256.1h.2M124.6 257.7h.2M125.1 259.3h.2M106.7 257.6h.2M107.2 259.2h.2M202.9 251.3h.2M203.3 252.9h.2M203.0 254.5h.2M202.8 256.1h.2M220.2 253.8h.2M220.3 255.4h.2M219.7 257.0h.2M168.0 252.6h.2M167.9 254.2h.2M167.9 255.8h.2M186.2 253.7h.2M185.8 255.3h.2M184.8 256.9h.2M185.6 258.5h.2M242.0 252.1h.2M242.2 253.7h.2M242.4 255.3h.2M179.1 248.2h.2M178.2 249.8h.2M178.6 251.4h.2M173.7 253.8h.2M174.6 255.4h.2M174.6 257.0h.2M179.4 255.3h.2M179.9 256.9h.2M179.6 258.5h.2M179.8 260.1h.2M215.0 250.8h.2M214.8 252.4h.2M215.2 254.0h.2M215.5 255.6h.2M194.0 251.1h.2M194.1 252.7h.2M194.3 254.3h.2M193.8 255.9h.2M238.9 251.5h.2M238.8 253.1h.2M150.4 253.9h.2M150.7 255.5h.2M138.5 255.7h.2M138.9 257.3h.2M185.0 257.2h.2M184.2 258.8h.2M184.4 260.4h.2M184.5 262.0h.2M102.4 256.7h.2M101.7 258.3h.2M101.6 259.9h.2M102.5 261.5h.2M163.1 257.3h.2M163.1 258.9h.2M163.4 260.5h.2M163.3 262.1h.2M109.7 250.4h.2M109.3 252.0h.2M109.1 253.6h.2M109.6 255.2h.2M158.5 252.0h.2M157.6 253.6h.2M157.7 255.2h.2M243.6 251.7h.2M243.2 253.3h.2M243.1 254.9h.2M95.8 256.0h.2M95.9 257.6h.2M95.2 259.2h.2M95.8 260.8h.2M92.1 249.3h.2M92.2 250.9h.2M91.9 252.5h.2M92.3 254.1h.2M182.4 252.5h.2M182.6 254.1h.2M117.2 256.0h.2M116.5 257.6h.2M116.9 259.2h.2M116.8 260.8h.2M212.2 251.7h.2M212.6 253.3h.2M212.2 254.9h.2M211.9 256.5h.2M283.3 246.8h.2M280.9 211.4h.2M290.8 212.3h.2M289.5 231.0h.2M288.8 204.7h.2M284.8 216.4h.2M288.9 157.6h.2M269.6 281.4h.2M294.2 256.6h.2M289.1 260.7h.2M271.0 228.9h.2M295.2 160.1h.2M291.4 249.5h.2M295.5 224.2h.2M296.7 213.1h.2M284.2 267.0h.2M296.4 177.5h.2M274.0 176.1h.2M299.4 222.8h.2M292.1 277.1h.2M291.3 218.8h.2M277.2 227.4h.2M280.5 261.9h.2M293.5 245.0h.2M286.2 221.1h.2M282.5 250.3h.2M299.5 240.0h.2M285.1 160.6h.2M280.8 171.3h.2M269.7 233.2h.2M276.5 249.3h.2M290.1 250.0h.2M294.8 198.7h.2M271.2 274.0h.2M287.1 220.0h.2M282.9 259.7h.2M298.1 167.4h.2M273.9 206.5h.2M284.4 160.4h.2M275.5 179.1h.2M270.0 219.3h.2M290.9 192.4h.2M299.3 243.1h.2M275.4 211.7h.2M296.5 160.4h.2M293.8 205.0h.2M272.0 224.4h.2M282.3 236.9h.2M270.6 256.0h.2M295.0 227.3h.2" stroke="#7ea6d6" stroke-width="1.3" fill="none" opacity="0.65"/>
<path d="M146.8 271.6h.2M105.9 268.3h.2M163.7 268.9h.2M115.8 264.0h.2M217.9 264.3h.2M129.4 263.4h.2M229.0 269.4h.2M98.0 263.5h.2M203.1 256.9h.2M89.9 258.8h.2M265.9 269.9h.2M174.7 264.1h.2M158.7 267.3h.2M155.8 262.5h.2M194.6 271.1h.2M191.1 271.2h.2M211.0 267.2h.2M233.1 264.4h.2M209.5 262.0h.2M182.9 270.8h.2M128.3 259.9h.2M115.9 263.5h.2M202.5 272.0h.2M173.8 256.4h.2M176.4 266.7h.2M251.9 262.9h.2M168.1 269.7h.2M267.2 259.8h.2M96.0 262.4h.2M190.7 253.6h.2M223.0 269.6h.2M101.4 272.9h.2M90.3 256.9h.2M243.3 272.8h.2M181.5 244.1h.2M84.7 268.7h.2M254.1 263.7h.2M86.7 267.3h.2M198.1 265.8h.2M250.4 266.8h.2M112.1 261.2h.2M159.4 260.0h.2M233.7 271.0h.2M195.8 255.4h.2M230.5 272.5h.2M114.6 268.8h.2M98.9 269.5h.2M93.2 257.6h.2M232.4 263.1h.2M212.4 265.7h.2M113.5 261.9h.2M146.4 259.7h.2M224.5 266.1h.2M115.8 267.2h.2M148.4 262.8h.2M105.2 253.4h.2M154.7 252.5h.2M186.5 263.6h.2M105.6 270.5h.2M226.9 268.5h.2M177.9 258.5h.2M239.4 265.2h.2M262.6 270.2h.2M103.2 273.1h.2M248.7 262.4h.2M123.6 262.2h.2M178.6 263.7h.2M222.0 261.4h.2M220.3 263.4h.2M233.1 279.9h.2M104.1 260.9h.2M108.0 262.4h.2M181.1 268.9h.2M125.3 259.8h.2M249.3 264.9h.2M238.1 267.4h.2M268.3 270.5h.2M160.2 261.4h.2M135.8 259.8h.2M209.8 263.2h.2M196.9 265.8h.2M254.9 265.9h.2M158.4 264.6h.2M183.6 271.7h.2M156.2 258.6h.2M178.1 255.2h.2M94.7 257.6h.2M163.5 266.3h.2M146.5 258.3h.2M185.4 260.1h.2M100.8 260.0h.2M99.2 269.8h.2M147.6 268.4h.2M196.1 254.6h.2M201.3 267.2h.2M93.7 263.1h.2M105.6 254.1h.2M108.2 266.1h.2M166.2 266.0h.2M242.3 246.6h.2M265.1 266.6h.2M114.0 270.1h.2M133.0 269.7h.2M231.8 262.6h.2M162.9 272.4h.2M126.4 267.2h.2M216.5 271.0h.2M141.6 266.6h.2M212.4 261.3h.2M258.5 261.9h.2M189.1 264.9h.2M169.6 260.8h.2M126.3 265.8h.2M193.2 258.1h.2M84.6 272.6h.2M264.8 258.0h.2M169.1 275.4h.2M199.6 273.7h.2M247.3 259.9h.2M268.2 261.5h.2M169.0 262.3h.2M123.1 261.4h.2M253.6 262.2h.2M205.9 260.4h.2M93.5 263.6h.2M207.1 244.7h.2M255.2 264.1h.2M176.7 264.6h.2M264.9 257.8h.2M97.8 264.4h.2M242.0 262.2h.2M162.7 267.3h.2M104.0 271.6h.2M218.3 257.2h.2M123.8 257.5h.2M240.5 271.6h.2M224.1 266.0h.2M255.2 261.6h.2M109.1 266.6h.2M229.4 274.3h.2M215.1 259.3h.2M256.5 265.8h.2M226.3 267.1h.2M244.4 264.7h.2M116.9 252.0h.2M174.6 270.8h.2M266.0 272.6h.2M145.9 264.0h.2M246.5 272.1h.2M144.3 268.4h.2M158.5 273.3h.2M106.5 264.5h.2M229.6 274.4h.2M86.5 270.9h.2M102.0 261.6h.2M251.0 249.3h.2M187.8 261.7h.2M138.6 266.8h.2M257.6 265.4h.2M186.9 272.2h.2M84.3 262.0h.2M203.7 265.8h.2M122.3 255.5h.2M197.3 255.9h.2M218.5 262.0h.2M129.7 256.0h.2M216.0 263.7h.2M179.6 272.3h.2M87.9 277.0h.2M119.6 258.8h.2M85.1 272.9h.2M131.5 270.1h.2M129.4 255.5h.2M238.8 259.5h.2M137.3 272.2h.2M133.3 259.9h.2M184.3 279.1h.2M186.4 254.9h.2M82.9 272.9h.2M215.0 269.6h.2M205.5 270.9h.2M130.1 264.8h.2M258.6 261.3h.2M104.6 267.8h.2M209.3 270.0h.2M166.6 261.0h.2M166.9 270.2h.2M254.7 267.0h.2M203.9 261.6h.2M230.1 272.7h.2M230.3 264.0h.2M171.6 260.0h.2M139.9 269.4h.2M230.8 267.4h.2M147.0 266.0h.2M155.0 268.9h.2M142.2 259.2h.2M214.5 260.2h.2M129.1 255.9h.2M99.0 272.8h.2M182.4 257.5h.2M207.8 270.0h.2M128.1 278.8h.2M117.0 264.4h.2M220.8 260.2h.2M124.2 261.4h.2M216.2 265.4h.2M214.4 276.2h.2M152.5 262.0h.2M130.9 258.7h.2M130.8 266.7h.2M96.0 272.3h.2M218.2 264.0h.2M166.8 269.9h.2M249.3 267.0h.2M187.8 264.1h.2M104.4 260.9h.2M179.7 268.7h.2M257.7 272.7h.2M234.0 261.5h.2M171.5 266.7h.2M153.5 267.4h.2M245.3 257.9h.2M165.9 274.2h.2M224.2 274.6h.2M100.6 257.0h.2M141.8 267.7h.2M120.1 256.6h.2M175.7 263.9h.2M233.6 263.6h.2M208.4 259.4h.2M174.9 265.2h.2M241.1 258.9h.2M133.2 269.8h.2M233.6 274.2h.2M122.1 270.0h.2M208.0 269.2h.2M229.3 263.2h.2M229.0 273.6h.2M257.5 273.5h.2M149.3 271.8h.2M105.9 266.4h.2M83.0 264.2h.2M144.5 272.7h.2M232.0 262.7h.2M206.9 264.2h.2M89.0 267.3h.2M241.1 270.5h.2M184.5 265.9h.2M177.9 260.1h.2M110.8 268.0h.2M218.0 260.3h.2M262.0 261.4h.2M193.8 255.2h.2M202.7 262.7h.2M179.5 256.6h.2M153.9 259.8h.2M155.6 266.1h.2M135.5 255.9h.2M110.2 268.4h.2M203.5 262.7h.2M182.9 241.9h.2M260.4 266.6h.2M102.1 258.5h.2M105.5 280.4h.2M130.9 272.1h.2M245.2 259.7h.2M228.7 269.9h.2M165.0 270.2h.2M120.1 254.8h.2M87.2 264.2h.2M112.8 269.6h.2M90.8 280.3h.2M201.9 260.2h.2M125.0 267.8h.2M214.9 266.2h.2M252.4 263.9h.2M230.6 266.9h.2M184.7 280.5h.2M118.3 265.1h.2M176.0 271.2h.2M253.8 269.6h.2M236.6 270.7h.2M211.8 269.6h.2M151.0 269.5h.2M233.2 265.9h.2M177.1 265.7h.2M125.7 257.2h.2M111.4 270.0h.2M220.0 260.1h.2M118.9 255.0h.2M222.0 270.8h.2M111.5 266.9h.2M87.1 271.7h.2M126.8 266.9h.2M200.3 271.7h.2M214.8 274.2h.2M166.0 265.2h.2M100.8 259.9h.2M256.8 271.8h.2M208.5 263.0h.2M111.1 272.2h.2M182.2 259.2h.2M96.3 272.4h.2M159.8 270.6h.2M98.8 270.3h.2M177.5 257.5h.2M161.8 255.0h.2M222.3 270.2h.2M131.6 270.7h.2M199.5 261.3h.2M207.4 270.8h.2M140.2 270.1h.2M208.2 272.4h.2M160.9 268.7h.2M174.7 270.1h.2M168.5 263.5h.2M215.3 265.4h.2M101.5 272.0h.2M99.1 262.5h.2M172.6 269.6h.2M109.7 265.0h.2M235.1 266.9h.2M262.9 255.1h.2M121.4 261.3h.2M246.5 260.8h.2M168.4 273.4h.2M184.2 269.5h.2M185.1 253.7h.2M115.7 260.4h.2M148.1 258.3h.2M215.5 260.2h.2M194.4 259.6h.2M173.1 266.1h.2M105.7 271.8h.2M192.8 258.5h.2M204.2 257.5h.2M102.3 251.4h.2M162.2 257.6h.2M97.0 267.4h.2M198.9 256.6h.2M226.9 271.6h.2M193.4 265.4h.2M93.1 272.2h.2M226.4 270.3h.2M180.2 272.5h.2M102.5 267.1h.2M190.9 254.8h.2M150.0 258.0h.2M86.2 262.0h.2M162.8 254.9h.2M250.3 270.0h.2M219.5 257.4h.2M174.3 268.1h.2M217.8 258.0h.2M87.2 272.5h.2M254.6 263.6h.2M197.0 275.6h.2M226.7 268.8h.2M94.1 269.8h.2M216.9 274.9h.2M126.3 269.8h.2M95.2 259.8h.2M92.0 271.8h.2M182.1 272.3h.2M211.5 265.0h.2M99.6 265.1h.2M136.5 269.5h.2M194.1 269.8h.2M216.7 263.6h.2M101.6 259.2h.2M108.8 253.0h.2M111.9 272.5h.2M142.3 271.7h.2M266.1 268.9h.2M230.3 262.5h.2M123.9 259.3h.2M248.9 268.2h.2M252.1 267.5h.2M194.3 262.0h.2M87.2 267.5h.2M93.2 266.7h.2M152.2 268.1h.2M244.3 259.1h.2M162.1 274.4h.2M195.4 262.9h.2M172.4 251.3h.2M216.3 258.2h.2M234.5 272.6h.2M237.4 260.6h.2M126.3 254.0h.2M142.1 275.0h.2M198.8 271.9h.2M233.1 261.7h.2M256.3 271.8h.2M85.8 267.6h.2M136.8 272.9h.2M126.0 267.0h.2M259.1 262.3h.2M93.3 268.5h.2M200.3 261.0h.2M122.6 256.9h.2M229.1 269.0h.2M201.7 252.6h.2M91.2 265.1h.2M240.7 261.5h.2M180.7 266.5h.2M101.5 271.1h.2M162.1 262.4h.2M194.1 259.7h.2M168.2 265.9h.2M213.6 267.8h.2M194.1 263.3h.2M217.3 266.3h.2M166.2 273.3h.2M207.3 257.2h.2M151.8 267.3h.2M251.7 259.3h.2M262.3 272.3h.2M161.3 256.0h.2M97.2 262.8h.2M156.5 260.4h.2M244.4 258.3h.2M151.3 257.8h.2M200.3 255.9h.2M130.9 273.2h.2M207.0 268.8h.2M149.7 265.5h.2M232.2 260.5h.2M134.4 250.9h.2M144.6 262.6h.2M257.5 262.4h.2M254.8 265.3h.2M84.5 260.4h.2M168.0 268.0h.2M198.0 265.4h.2M232.8 265.8h.2M255.3 260.5h.2M96.6 273.4h.2M124.9 270.9h.2M125.5 266.9h.2M119.2 260.9h.2M182.7 268.9h.2M162.0 267.4h.2M227.4 271.8h.2M141.9 260.0h.2M183.5 271.4h.2M227.1 258.4h.2M197.1 267.1h.2M254.5 261.8h.2M94.2 260.9h.2M195.1 260.6h.2M163.3 269.9h.2M86.2 267.1h.2M160.9 269.8h.2M248.4 265.0h.2M99.6 273.8h.2M256.7 267.1h.2M164.5 267.2h.2M121.7 260.2h.2M94.8 263.3h.2M170.0 273.0h.2M239.2 269.2h.2M180.6 264.0h.2M179.8 271.3h.2M86.3 262.8h.2M138.9 256.5h.2M187.1 263.8h.2M248.4 257.4h.2M249.5 255.3h.2M114.2 261.7h.2M257.8 267.2h.2M204.9 257.2h.2M182.6 268.7h.2M186.9 256.7h.2M97.5 267.8h.2M241.6 260.6h.2M152.4 270.0h.2M261.1 259.7h.2M180.3 256.0h.2M91.8 264.1h.2M222.5 265.4h.2M165.6 263.8h.2M106.2 270.8h.2M248.8 259.0h.2M150.2 274.0h.2M143.7 271.1h.2M174.9 260.8h.2M194.3 264.0h.2M190.8 264.6h.2M125.7 259.3h.2M118.2 260.5h.2M267.7 268.3h.2M192.5 257.8h.2M84.9 262.3h.2M265.1 263.1h.2M127.7 258.8h.2M205.6 257.4h.2M244.0 257.2h.2M151.2 265.6h.2M238.9 260.2h.2M85.9 270.6h.2M93.3 273.7h.2M140.1 264.7h.2M100.2 265.9h.2M105.0 265.2h.2M139.0 269.8h.2M134.0 259.1h.2M129.0 270.8h.2M134.0 260.6h.2M129.9 268.6h.2M113.9 259.4h.2M227.4 257.3h.2M148.7 264.9h.2M262.3 260.1h.2M267.4 270.4h.2M178.6 261.3h.2M217.7 266.2h.2M128.6 266.7h.2M138.1 264.0h.2M253.7 264.9h.2M145.6 268.3h.2M254.2 259.6h.2M130.0 269.8h.2M163.2 262.1h.2M237.8 267.5h.2M99.4 261.0h.2M92.2 268.7h.2M177.4 262.7h.2M101.3 258.6h.2M182.8 262.0h.2M267.7 262.2h.2M256.4 254.9h.2M172.2 272.8h.2M88.3 260.9h.2M186.0 268.6h.2M255.3 276.0h.2M162.2 266.3h.2M107.9 265.6h.2M114.7 267.0h.2M161.9 273.6h.2M100.2 268.6h.2M240.3 258.0h.2M183.9 259.9h.2M189.6 271.7h.2M185.3 269.7h.2M128.7 262.5h.2M132.2 256.2h.2M144.3 271.8h.2M89.1 267.4h.2M181.4 272.2h.2M203.4 266.7h.2M89.2 267.8h.2M263.7 278.9h.2M154.5 259.5h.2M105.4 262.5h.2M138.3 266.9h.2M123.9 260.5h.2M84.2 271.2h.2M148.4 259.2h.2M126.1 265.7h.2M109.9 261.0h.2M226.8 262.8h.2M267.9 261.3h.2M256.4 264.0h.2M257.2 276.9h.2M197.2 261.0h.2M103.6 266.5h.2M111.6 266.9h.2M99.4 252.9h.2M263.3 267.9h.2M171.8 265.7h.2M239.7 261.1h.2M109.5 264.3h.2M217.6 260.3h.2M129.2 270.3h.2M166.9 259.1h.2M146.1 273.7h.2M196.3 262.3h.2M120.7 268.0h.2M120.4 262.7h.2M153.4 266.8h.2M194.7 265.8h.2M233.7 263.8h.2M151.5 270.3h.2M200.3 256.6h.2M208.8 269.6h.2M108.8 275.0h.2M142.1 273.2h.2M217.9 266.4h.2M118.8 266.6h.2M231.7 261.8h.2M220.9 260.5h.2M113.8 262.3h.2M158.5 266.2h.2M129.5 267.4h.2M116.0 255.8h.2M231.2 268.0h.2M107.4 261.3h.2M265.8 257.0h.2M87.1 269.8h.2M176.7 269.4h.2M93.7 268.4h.2M118.8 264.1h.2M175.3 267.2h.2M173.5 258.3h.2M252.8 263.9h.2M120.7 262.4h.2M161.0 261.2h.2M148.2 279.8h.2M201.1 265.0h.2M217.4 275.6h.2M103.7 259.9h.2M110.2 271.3h.2M93.0 278.7h.2M214.8 264.7h.2M132.9 272.3h.2M99.8 271.3h.2M212.4 265.3h.2M200.5 268.9h.2M261.4 257.3h.2M165.2 257.2h.2M215.9 266.1h.2M167.9 266.7h.2M267.7 248.3h.2M153.8 272.4h.2M180.1 278.4h.2M164.8 263.1h.2M139.5 259.4h.2M220.7 260.2h.2M177.3 267.1h.2M241.8 259.2h.2M170.6 273.6h.2M260.2 260.2h.2M84.0 262.9h.2M219.2 260.9h.2M185.4 272.3h.2M216.9 272.5h.2M210.9 266.2h.2M205.0 272.0h.2M203.6 255.1h.2M182.2 264.1h.2M202.7 259.9h.2M195.8 256.7h.2M207.6 262.1h.2M257.5 260.3h.2M138.8 269.6h.2M176.1 274.9h.2M233.2 269.1h.2M189.8 249.8h.2M212.4 273.6h.2M125.5 263.0h.2M231.5 265.6h.2M84.1 267.5h.2M166.9 274.9h.2M131.8 257.4h.2M135.9 269.9h.2M212.4 274.3h.2M150.1 258.4h.2M180.0 269.1h.2M106.2 274.3h.2M218.2 271.5h.2M89.1 273.0h.2M214.5 261.3h.2M155.2 267.2h.2M196.0 265.3h.2M98.2 265.0h.2M237.9 258.9h.2M232.3 256.6h.2M153.5 263.2h.2M117.5 273.7h.2M168.5 262.0h.2M183.9 268.5h.2M152.9 266.0h.2M264.3 271.3h.2M110.4 268.6h.2M194.5 256.5h.2M126.5 259.4h.2M107.7 267.4h.2M164.3 264.7h.2M146.3 259.0h.2M212.5 268.3h.2M115.8 255.4h.2M230.3 267.6h.2M139.8 265.9h.2M116.0 266.0h.2M170.0 265.9h.2M140.6 262.7h.2M111.6 272.1h.2M148.0 260.8h.2M181.5 261.2h.2M244.5 265.1h.2M168.0 257.0h.2M229.5 260.4h.2M94.1 265.8h.2M106.7 271.7h.2M206.7 270.2h.2M239.3 264.9h.2M148.4 262.4h.2M178.5 264.8h.2M184.1 271.5h.2M212.8 265.6h.2M120.3 261.6h.2M174.9 268.3h.2M86.4 273.0h.2M90.8 260.3h.2M154.7 256.8h.2M251.9 269.8h.2M162.6 270.1h.2M186.1 255.0h.2M201.2 270.7h.2M251.5 263.0h.2M83.1 259.9h.2M187.2 258.2h.2M178.5 257.2h.2M142.5 268.0h.2M86.2 264.2h.2M254.4 256.8h.2M226.3 266.5h.2M153.7 265.7h.2M92.1 267.2h.2M208.0 272.4h.2M116.2 259.4h.2M122.4 257.4h.2M141.2 259.0h.2M217.2 259.8h.2M105.8 255.1h.2M255.3 261.2h.2M156.6 264.8h.2M159.1 259.5h.2M119.4 264.3h.2M126.3 257.8h.2M180.1 272.6h.2M248.0 255.7h.2M153.7 275.8h.2M249.9 256.5h.2M208.1 268.3h.2M117.7 264.1h.2M192.2 266.7h.2M148.6 272.4h.2M259.4 260.2h.2M177.1 264.4h.2M240.3 253.5h.2M212.3 270.9h.2M159.3 263.4h.2M225.6 266.7h.2M196.5 274.3h.2M174.7 255.9h.2M204.2 261.3h.2M131.2 270.8h.2M173.3 266.3h.2M168.9 262.6h.2M109.0 258.9h.2M110.6 268.1h.2M221.1 263.7h.2M158.9 271.8h.2M196.2 260.3h.2M144.4 258.6h.2M233.9 272.8h.2M129.3 272.1h.2M171.0 256.4h.2M108.0 263.4h.2M200.7 269.3h.2M239.1 256.7h.2M217.6 261.3h.2M234.5 269.2h.2M223.3 264.7h.2M140.5 270.7h.2M163.8 267.1h.2M110.6 255.7h.2M127.0 266.7h.2M172.9 272.7h.2M251.3 272.3h.2M219.1 267.6h.2M195.2 262.3h.2M125.1 263.9h.2M203.8 265.7h.2M219.9 269.6h.2M127.8 256.2h.2M89.4 271.4h.2M223.5 259.0h.2M255.7 259.2h.2M134.8 272.5h.2M211.2 265.4h.2M224.9 270.7h.2M181.3 263.9h.2M111.4 261.2h.2M151.9 261.6h.2M126.8 260.5h.2M110.5 266.7h.2M97.0 257.6h.2M89.4 273.4h.2M266.6 264.2h.2M243.0 267.5h.2M88.8 263.7h.2M115.8 261.6h.2M210.6 273.2h.2M169.2 265.2h.2M221.6 262.4h.2M135.8 271.4h.2M252.6 259.5h.2M193.4 271.0h.2M84.3 259.0h.2M164.2 265.9h.2M83.5 261.7h.2M243.4 271.4h.2M213.2 264.6h.2M191.1 263.2h.2M177.1 264.6h.2M114.8 268.8h.2M166.8 265.3h.2M225.0 274.6h.2M133.7 271.7h.2M255.0 267.9h.2M107.6 253.8h.2M196.8 255.8h.2M141.5 259.5h.2M230.4 268.4h.2M159.7 271.1h.2M249.2 265.0h.2M268.1 264.0h.2M156.3 258.4h.2M126.8 266.8h.2M210.7 259.7h.2M98.2 270.2h.2M151.0 274.4h.2M242.1 260.0h.2M251.8 259.4h.2M180.5 256.9h.2M152.3 260.8h.2M135.7 271.0h.2M185.8 259.2h.2M247.0 275.8h.2M181.2 270.0h.2M122.0 268.0h.2M112.9 267.7h.2M162.9 257.0h.2M97.5 268.0h.2M255.0 264.6h.2M222.3 260.4h.2M186.5 261.7h.2M192.6 266.3h.2M190.4 263.4h.2M191.5 271.9h.2M209.2 261.9h.2M201.7 256.5h.2M85.2 263.5h.2M183.5 270.5h.2M207.7 267.6h.2M199.7 264.4h.2M146.4 266.3h.2M146.0 264.6h.2M151.1 274.2h.2M165.0 264.2h.2M246.0 258.9h.2M210.7 265.7h.2M140.5 273.7h.2M96.8 271.2h.2M157.1 266.6h.2M185.0 259.7h.2M233.3 277.4h.2M266.1 267.9h.2M201.7 267.5h.2M260.0 255.0h.2M153.9 260.5h.2M142.6 264.4h.2M242.4 271.1h.2M97.3 264.9h.2M145.6 257.1h.2M222.9 267.5h.2M164.6 259.0h.2M184.5 258.6h.2M168.1 261.7h.2M219.7 261.2h.2M254.2 271.0h.2M220.5 268.9h.2M225.5 261.4h.2M168.0 272.1h.2M247.8 259.1h.2M244.3 259.7h.2M140.1 266.0h.2M233.6 266.4h.2M259.1 261.4h.2M90.9 266.6h.2M262.6 258.0h.2M258.8 260.2h.2M268.1 260.8h.2M168.3 258.0h.2M245.7 261.9h.2M208.5 261.8h.2M246.6 259.3h.2M241.4 269.7h.2M178.8 255.9h.2M121.4 270.0h.2M241.7 270.2h.2M113.4 265.3h.2M174.0 273.3h.2M217.5 268.2h.2M104.3 267.9h.2M204.6 257.4h.2M86.4 268.3h.2M160.7 266.0h.2M91.5 273.3h.2M106.4 258.9h.2M248.8 263.3h.2M252.6 267.5h.2M159.5 261.7h.2M126.8 266.6h.2M150.2 258.3h.2M152.7 267.3h.2M156.6 261.8h.2M124.6 258.1h.2M253.7 267.3h.2M178.7 267.0h.2M146.8 260.0h.2M122.8 266.0h.2M106.3 259.6h.2M227.0 267.0h.2M216.8 272.6h.2M164.7 262.1h.2M147.1 257.7h.2M145.4 267.5h.2M130.9 261.9h.2M119.3 262.9h.2M112.6 271.5h.2M159.3 259.2h.2M240.0 273.7h.2M246.0 261.4h.2M185.0 258.4h.2M203.8 268.3h.2M136.7 278.5h.2M204.9 268.0h.2M199.9 262.1h.2M149.8 274.5h.2M121.7 259.7h.2M196.8 264.3h.2M135.0 268.7h.2M209.4 269.7h.2M232.7 265.3h.2M128.4 256.3h.2M148.3 260.6h.2M256.5 265.8h.2M121.7 261.5h.2M256.2 257.4h.2M126.0 255.7h.2M227.9 264.5h.2M218.9 271.8h.2M181.0 258.6h.2M155.4 258.9h.2M208.8 260.7h.2M228.8 263.4h.2M99.6 269.6h.2M181.9 274.2h.2M186.6 257.9h.2M138.5 269.9h.2M179.9 269.6h.2M249.5 263.8h.2M183.8 263.7h.2M201.2 270.9h.2M193.1 258.0h.2M167.1 271.3h.2M195.4 255.6h.2M127.1 259.6h.2M253.6 259.0h.2M211.0 266.5h.2M232.0 272.3h.2M115.8 260.3h.2M174.2 264.7h.2M197.2 255.8h.2M161.9 271.9h.2M190.6 258.8h.2M259.2 264.1h.2M238.5 271.7h.2M227.1 260.5h.2M216.9 268.2h.2M256.6 257.7h.2M83.4 272.6h.2M242.2 256.8h.2M211.3 269.1h.2M229.4 266.3h.2M124.4 263.1h.2M209.7 270.8h.2M136.3 272.4h.2M255.9 258.5h.2M160.5 255.4h.2M256.9 256.4h.2M127.0 263.0h.2M243.3 264.7h.2M227.4 257.7h.2M149.8 259.4h.2M112.2 265.1h.2M101.0 276.8h.2M235.3 260.9h.2M188.4 260.7h.2M230.9 268.0h.2M139.8 267.4h.2M129.4 264.7h.2M252.7 252.1h.2M256.7 265.3h.2M110.0 272.5h.2M144.4 272.9h.2M157.8 270.6h.2M209.2 264.1h.2M172.8 270.8h.2M238.7 272.7h.2M258.6 258.5h.2M241.7 270.9h.2M225.0 266.0h.2M181.0 266.3h.2M243.7 274.4h.2M202.7 261.0h.2M129.2 263.2h.2M220.0 268.3h.2M185.7 261.4h.2M154.1 258.2h.2M247.9 262.3h.2M111.7 269.0h.2M192.4 266.3h.2M233.1 258.1h.2M178.7 269.6h.2M145.6 257.9h.2M109.6 258.1h.2M227.6 260.1h.2M89.8 274.9h.2M225.9 257.7h.2M245.2 264.3h.2M194.7 269.8h.2M178.5 271.0h.2M193.2 271.5h.2M88.8 259.0h.2M219.8 260.4h.2M169.9 272.2h.2M166.5 272.1h.2M233.2 270.0h.2M105.1 260.7h.2M115.8 277.9h.2M184.6 262.1h.2M197.6 260.2h.2M219.5 280.4h.2M252.1 260.0h.2M83.7 271.6h.2M108.1 271.2h.2M117.0 264.9h.2M162.4 267.8h.2M151.8 262.0h.2M146.7 257.9h.2M159.0 269.6h.2M171.6 258.6h.2M263.9 259.7h.2M262.4 254.9h.2M239.7 272.6h.2M127.9 267.5h.2M150.9 259.3h.2M149.3 264.5h.2M154.7 270.7h.2M190.5 267.1h.2M261.8 269.2h.2M224.2 263.6h.2M147.9 264.6h.2M184.5 267.0h.2M124.6 267.2h.2M226.5 260.4h.2M104.7 262.6h.2M213.4 257.7h.2M152.6 270.5h.2M246.0 264.1h.2M249.7 272.4h.2M210.9 259.0h.2M224.3 261.9h.2M265.7 255.0h.2M158.9 268.1h.2M109.7 266.6h.2M167.3 260.8h.2M248.4 262.0h.2M265.4 270.3h.2M148.9 270.2h.2M217.5 265.9h.2M213.7 272.6h.2M241.3 270.6h.2M262.5 257.6h.2M113.5 257.1h.2M200.6 266.9h.2M184.3 258.9h.2M204.6 268.2h.2M161.7 271.1h.2M146.6 274.1h.2M132.3 274.8h.2M263.2 273.0h.2M90.0 263.6h.2M253.2 270.9h.2M205.9 262.1h.2M248.8 269.4h.2M265.4 255.0h.2M92.5 255.5h.2M96.2 263.2h.2M252.9 255.7h.2M146.4 266.4h.2M92.5 269.9h.2M202.5 264.5h.2M242.1 265.8h.2M258.6 278.6h.2M168.6 264.9h.2M227.1 267.3h.2M92.7 271.6h.2M134.0 263.0h.2M228.5 258.3h.2M174.9 266.0h.2M196.2 254.0h.2M195.8 271.5h.2M173.1 261.5h.2M175.8 262.9h.2M262.1 255.2h.2M117.0 268.9h.2M105.6 260.5h.2M140.1 271.6h.2M243.0 265.0h.2M152.6 266.9h.2M267.7 256.6h.2M104.3 256.6h.2M141.7 263.4h.2M150.7 259.1h.2M115.5 271.4h.2M210.3 263.0h.2M194.6 259.7h.2M111.1 265.6h.2M258.8 263.7h.2M106.4 264.0h.2M245.2 259.5h.2M218.1 272.3h.2M111.8 264.2h.2M268.2 256.1h.2M239.7 265.7h.2M194.1 271.6h.2M118.4 257.9h.2M164.8 254.0h.2M157.1 270.7h.2M110.7 259.7h.2M266.7 263.4h.2M217.9 263.0h.2M193.8 262.8h.2M148.9 268.1h.2M95.0 273.7h.2M171.5 256.0h.2M84.2 267.4h.2M155.1 254.6h.2M208.2 275.9h.2M132.8 267.4h.2M120.0 256.4h.2M101.9 269.8h.2M211.3 264.0h.2M224.5 264.1h.2M259.0 272.0h.2M178.4 272.6h.2M117.4 279.2h.2M108.9 258.6h.2M140.8 274.8h.2M93.9 258.5h.2M98.1 259.0h.2M221.4 265.7h.2M216.2 258.4h.2M211.7 282.1h.2M233.8 269.7h.2M211.7 267.2h.2M154.3 261.4h.2M155.9 267.5h.2M87.6 265.5h.2M241.5 272.9h.2M168.0 258.3h.2M151.8 269.8h.2M221.8 272.6h.2M174.0 274.9h.2M160.0 259.6h.2M134.4 268.0h.2M137.9 256.9h.2M207.0 269.7h.2M179.8 263.8h.2M259.3 269.1h.2M214.5 262.2h.2M183.5 264.3h.2M171.7 263.7h.2M153.4 258.3h.2M135.5 268.9h.2M227.8 257.8h.2M228.2 261.0h.2M133.6 259.1h.2M243.5 269.1h.2M254.1 267.6h.2M112.3 260.0h.2M147.2 262.1h.2M236.2 260.3h.2M237.6 268.9h.2M208.2 273.1h.2M118.8 262.3h.2M116.8 263.9h.2M263.0 268.8h.2M137.7 265.0h.2M213.7 272.2h.2M141.0 262.8h.2M191.8 261.7h.2M165.1 260.8h.2M180.3 267.3h.2M191.7 257.7h.2M123.1 264.1h.2M262.9 255.1h.2M257.9 271.8h.2M126.2 255.2h.2M123.9 269.8h.2M223.8 271.3h.2M218.9 273.9h.2M120.2 265.1h.2M101.3 268.7h.2M264.8 264.5h.2M196.3 269.0h.2M220.9 260.9h.2M156.4 271.7h.2M187.6 273.2h.2M87.0 272.5h.2M167.8 268.6h.2M215.3 269.0h.2M148.4 273.3h.2M82.5 267.8h.2M128.5 263.3h.2M112.8 258.7h.2M142.6 272.5h.2M122.1 262.9h.2M248.5 269.3h.2M139.5 268.0h.2M138.1 272.1h.2M196.0 272.3h.2M164.9 269.9h.2M123.0 268.5h.2M267.0 269.7h.2M246.5 270.7h.2M189.4 269.4h.2M217.0 259.2h.2M221.7 264.9h.2M109.8 268.9h.2M117.0 252.4h.2M146.4 260.5h.2M155.8 261.4h.2M167.2 260.7h.2M100.8 262.2h.2M225.5 269.9h.2M251.3 265.4h.2M139.1 267.7h.2M226.7 272.9h.2M185.2 270.6h.2M87.7 258.9h.2M198.1 258.2h.2M135.7 272.9h.2M186.7 264.3h.2M259.4 268.9h.2M185.4 257.4h.2M122.2 272.1h.2M177.3 264.4h.2M163.7 270.1h.2M206.5 256.2h.2M121.2 260.1h.2M239.0 270.1h.2M192.7 268.7h.2M232.9 266.0h.2M120.3 265.7h.2M159.9 266.0h.2M241.7 263.7h.2M121.2 255.4h.2M259.1 263.6h.2M157.0 260.5h.2M168.5 268.2h.2M139.9 266.5h.2M98.1 273.5h.2M87.5 264.2h.2M117.4 254.9h.2M196.1 266.5h.2M131.6 260.0h.2M209.5 264.0h.2M228.4 256.4h.2M136.7 269.6h.2M144.7 271.5h.2M176.7 267.9h.2M183.4 263.8h.2M103.4 263.0h.2M260.8 261.4h.2M125.7 257.9h.2M148.2 273.1h.2M162.8 260.9h.2M217.0 260.5h.2M134.9 269.9h.2M236.5 269.2h.2M252.7 265.3h.2M249.5 267.1h.2M150.5 258.1h.2M103.5 260.3h.2M88.2 263.4h.2M83.6 271.8h.2M154.9 258.6h.2M228.0 268.3h.2M265.2 257.4h.2M244.6 261.4h.2M246.7 255.3h.2M217.9 258.4h.2M163.3 258.4h.2M189.1 267.1h.2M266.8 270.5h.2M103.9 260.7h.2M142.9 273.6h.2M208.8 266.4h.2M209.0 272.4h.2M201.1 280.2h.2M91.6 262.7h.2M93.5 258.0h.2M130.4 265.6h.2M96.0 255.8h.2M241.4 266.5h.2M151.8 272.8h.2M267.8 260.3h.2M109.6 271.5h.2M92.8 270.0h.2M125.7 264.2h.2M121.8 265.8h.2M99.6 260.7h.2M182.9 272.3h.2M252.9 260.4h.2M235.1 265.7h.2M188.8 258.5h.2M221.9 262.3h.2M91.7 270.2h.2M181.0 259.9h.2M235.4 256.8h.2M84.8 270.9h.2M198.6 257.2h.2M87.9 261.9h.2M133.0 270.4h.2M134.3 250.5h.2M157.4 276.0h.2M235.7 257.8h.2M137.7 265.5h.2M89.0 274.6h.2M236.0 269.9h.2M174.5 260.7h.2M124.5 255.7h.2M243.1 260.2h.2M181.0 271.5h.2M217.4 273.5h.2M115.5 266.4h.2M247.9 267.8h.2M236.8 259.0h.2M121.0 256.5h.2M123.9 264.1h.2M108.2 259.3h.2M91.9 269.8h.2M127.0 262.8h.2M218.8 269.0h.2M166.9 265.6h.2M206.0 256.6h.2M216.5 262.7h.2M168.6 271.5h.2M259.8 256.9h.2M258.7 266.2h.2M206.5 266.7h.2M252.6 257.1h.2M248.6 263.6h.2M151.6 275.0h.2M186.4 269.6h.2M174.8 256.3h.2M140.9 265.8h.2M249.1 255.4h.2M172.3 262.0h.2M257.5 270.0h.2M157.5 260.7h.2M89.9 259.1h.2M244.7 254.2h.2M229.5 254.8h.2M138.8 261.6h.2M96.8 271.2h.2M164.4 269.7h.2M171.9 259.5h.2M150.0 266.1h.2M145.6 262.9h.2M130.6 271.5h.2M221.2 259.8h.2M226.6 272.0h.2M237.1 260.7h.2M258.0 261.2h.2M93.1 269.6h.2M247.7 267.5h.2M226.3 272.4h.2M209.2 266.1h.2M93.8 259.8h.2M133.1 273.5h.2M158.6 261.6h.2M255.2 249.5h.2M247.9 272.1h.2M174.4 268.6h.2M264.7 258.8h.2M116.3 268.4h.2M122.5 256.4h.2M123.0 265.8h.2M179.8 257.0h.2M93.1 274.3h.2M128.9 257.3h.2M263.5 264.6h.2M107.3 275.8h.2M111.3 271.0h.2M115.8 268.4h.2M245.5 261.8h.2M201.6 260.6h.2M257.0 256.8h.2M88.1 248.1h.2M172.1 272.7h.2M103.9 259.1h.2M215.5 255.1h.2M141.2 258.4h.2M232.1 269.3h.2M161.6 270.3h.2M174.8 270.5h.2M150.8 274.0h.2M208.2 269.5h.2M204.3 276.2h.2M178.9 264.3h.2M90.7 258.8h.2M177.0 268.5h.2M253.1 261.5h.2M226.5 274.5h.2M256.8 266.7h.2M189.0 264.9h.2M89.3 265.1h.2M180.0 266.4h.2M206.8 262.7h.2M89.2 268.8h.2M205.4 265.9h.2M132.5 279.6h.2M178.8 258.5h.2M99.1 257.9h.2M193.2 257.1h.2M248.2 267.7h.2M105.1 261.2h.2M90.4 272.3h.2M218.0 262.7h.2M139.6 273.4h.2M241.0 258.7h.2M186.6 263.8h.2M154.0 262.5h.2M217.8 258.7h.2M194.0 259.5h.2M122.2 261.9h.2M150.8 273.5h.2M210.1 269.9h.2M118.7 272.2h.2M205.7 255.9h.2M225.3 264.5h.2M148.3 261.1h.2M122.9 264.1h.2M250.5 257.5h.2M204.5 273.1h.2M97.4 267.4h.2M139.9 263.2h.2M240.6 256.8h.2M119.7 269.4h.2M211.0 271.1h.2M264.2 264.3h.2M82.7 257.9h.2M217.4 258.5h.2M91.4 258.2h.2M114.9 266.5h.2M208.1 263.8h.2M218.8 258.6h.2M178.6 264.9h.2M84.1 263.7h.2M153.6 274.1h.2M203.9 266.7h.2M139.3 266.6h.2M253.9 257.9h.2M120.8 255.1h.2M94.3 268.6h.2M103.5 260.6h.2M217.6 263.1h.2M186.5 247.7h.2M230.5 262.3h.2M241.6 273.4h.2M89.1 273.7h.2M172.3 258.6h.2M222.1 259.4h.2M93.0 264.9h.2M165.6 272.7h.2M151.5 268.3h.2M181.6 264.5h.2M134.1 268.1h.2M128.0 259.4h.2M178.3 260.1h.2M131.1 268.4h.2M138.6 258.7h.2M268.1 272.0h.2M122.3 254.8h.2M103.6 271.5h.2M191.3 268.9h.2M140.5 263.2h.2M127.1 259.8h.2M222.8 259.5h.2M101.9 266.0h.2M121.7 249.3h.2M220.7 266.0h.2M165.8 263.1h.2M172.9 268.4h.2M245.5 264.1h.2M193.4 264.6h.2M185.8 262.2h.2M98.3 270.8h.2M263.9 258.3h.2M90.0 271.4h.2M122.8 264.9h.2M223.5 273.1h.2M126.1 266.7h.2M150.5 262.3h.2M171.3 265.0h.2M263.7 260.0h.2M187.8 260.2h.2M244.7 269.4h.2M257.4 270.3h.2M223.6 268.9h.2M98.8 273.9h.2M265.6 277.8h.2M189.5 267.5h.2M154.3 259.5h.2M161.8 265.0h.2M89.4 266.3h.2M252.8 266.0h.2M137.9 267.2h.2M90.9 259.2h.2M176.5 262.0h.2M214.0 272.9h.2M104.8 266.1h.2M185.0 270.9h.2M112.3 262.1h.2M177.0 256.0h.2M197.9 258.7h.2M248.6 263.1h.2M216.0 261.0h.2M226.4 264.0h.2M199.7 268.3h.2M237.1 260.2h.2M102.4 261.0h.2M112.7 268.4h.2M132.1 268.5h.2M194.3 271.0h.2M231.6 274.3h.2M185.3 262.4h.2M222.4 273.7h.2M194.2 267.4h.2M88.0 274.2h.2M122.3 271.3h.2M198.8 261.8h.2M97.3 257.9h.2M219.7 262.6h.2M95.6 270.4h.2M158.6 263.8h.2M170.1 270.2h.2M245.2 271.8h.2M131.0 269.0h.2M151.5 258.3h.2M210.7 265.7h.2M202.3 265.3h.2M141.7 270.0h.2M246.1 255.9h.2M82.8 261.2h.2M245.4 256.7h.2M263.8 255.8h.2M225.9 257.5h.2M244.4 269.9h.2M210.8 264.4h.2M208.1 264.3h.2M128.8 255.2h.2M162.2 258.5h.2M114.3 265.8h.2M104.9 266.2h.2M216.4 270.6h.2M267.3 261.4h.2M130.5 259.7h.2M160.8 269.2h.2M112.1 276.8h.2M238.9 268.9h.2M93.4 257.6h.2M95.7 257.7h.2M101.5 267.0h.2M181.4 261.6h.2M102.0 276.5h.2M130.7 262.2h.2M177.5 258.0h.2M175.6 278.5h.2M214.4 263.2h.2M145.4 257.9h.2M155.1 267.2h.2M206.8 262.7h.2M222.7 267.7h.2M83.5 270.7h.2M246.0 267.4h.2M133.3 266.2h.2M104.6 266.5h.2M161.3 264.3h.2M111.0 267.0h.2M266.5 272.5h.2M213.6 266.2h.2M262.5 267.6h.2M141.7 279.3h.2M111.0 259.6h.2M99.6 261.4h.2M208.2 274.6h.2M149.6 278.8h.2M260.9 261.1h.2M261.8 271.5h.2M123.8 255.1h.2M96.1 273.6h.2M183.7 266.4h.2M113.2 268.5h.2M121.9 258.8h.2M183.0 267.4h.2M219.8 257.5h.2M238.7 270.6h.2M121.9 268.9h.2M268.3 268.9h.2M113.8 262.7h.2M97.9 259.4h.2M174.8 262.4h.2M130.3 257.9h.2M86.8 264.9h.2M94.0 276.7h.2M192.8 261.7h.2M266.3 260.4h.2M205.7 256.6h.2M272.1 264.6h.2M272.8 263.9h.2M271.7 261.2h.2M272.4 263.1h.2M270.9 265.2h.2M268.7 272.5h.2M273.1 267.4h.2M274.3 256.3h.2M268.5 268.4h.2M268.9 272.8h.2M269.5 269.4h.2M269.4 268.5h.2M268.9 263.5h.2M275.7 261.7h.2M277.3 267.2h.2M273.1 255.2h.2M277.4 265.8h.2M274.8 277.9h.2M278.5 260.1h.2M276.5 255.7h.2M277.7 267.9h.2M277.1 269.9h.2M274.6 257.9h.2M277.6 258.4h.2M277.9 259.9h.2M269.2 273.1h.2M272.9 258.5h.2M268.8 260.4h.2M277.9 264.4h.2M272.9 264.8h.2M271.5 261.6h.2M278.8 266.0h.2M278.6 270.6h.2M276.4 263.7h.2M269.5 271.3h.2M278.9 268.9h.2M273.0 258.6h.2M268.9 256.4h.2M277.4 266.8h.2M278.9 264.6h.2M328.1 259.1h.2M327.9 256.7h.2M331.5 257.9h.2M328.0 257.6h.2M340.7 257.7h.2M314.3 258.6h.2M324.4 257.6h.2M334.3 256.8h.2M318.5 261.0h.2M327.8 257.5h.2M340.8 257.8h.2M323.0 259.1h.2M315.5 259.8h.2M322.6 257.9h.2M314.4 257.6h.2M320.9 259.2h.2M327.9 256.0h.2M314.4 259.7h.2M322.3 258.5h.2M326.5 257.1h.2M316.2 258.2h.2M326.8 257.6h.2M340.7 256.6h.2M315.9 259.4h.2M322.8 259.0h.2M314.4 256.8h.2M321.5 259.3h.2M324.8 259.6h.2M341.3 257.5h.2M336.0 256.5h.2M334.5 257.3h.2M336.4 257.0h.2M345.8 257.3h.2M330.2 255.9h.2M328.1 256.2h.2M329.3 256.5h.2M324.5 257.7h.2M341.2 259.4h.2M314.4 258.3h.2M328.7 258.8h.2M324.3 258.6h.2M342.8 257.5h.2M320.2 257.8h.2M327.1 256.3h.2M327.9 259.5h.2M333.8 258.7h.2M324.7 259.0h.2M343.3 254.2h.2M339.0 257.6h.2M333.7 259.4h.2M325.3 259.1h.2M345.8 258.5h.2M315.2 254.5h.2M344.4 254.9h.2M335.3 257.5h.2M336.3 257.9h.2M337.9 255.8h.2M334.9 258.4h.2M328.8 256.2h.2M338.5 258.0h.2M325.4 258.9h.2M333.8 257.8h.2M315.7 260.7h.2M345.7 255.7h.2M333.8 258.4h.2M335.8 256.3h.2M336.4 256.5h.2M337.5 257.6h.2M341.0 254.6h.2M334.4 255.3h.2M322.4 259.7h.2M366.5 255.0h.2M350.6 254.6h.2M364.0 252.8h.2M352.5 253.1h.2M364.5 252.1h.2M353.2 253.7h.2M367.0 252.7h.2M369.0 250.9h.2M363.4 252.0h.2M356.4 252.6h.2M370.4 252.5h.2M364.7 253.0h.2M359.0 253.6h.2M364.5 254.3h.2M358.3 251.9h.2" stroke="#62aaea" stroke-width="1.4" fill="none" opacity="0.8"/>
<path d="M114.0 258.8h.2M251.8 266.2h.2M180.9 258.4h.2M220.2 263.0h.2M95.3 250.9h.2M152.1 267.5h.2M193.9 259.9h.2M183.5 253.2h.2M160.5 262.8h.2M170.4 264.3h.2M97.9 269.9h.2M209.5 272.4h.2M212.6 270.6h.2M149.4 260.4h.2M161.0 266.1h.2M89.9 262.0h.2M195.2 267.1h.2M95.3 266.4h.2M139.2 268.3h.2M172.4 262.0h.2M143.4 267.4h.2M146.2 261.6h.2M129.2 264.8h.2M203.6 266.1h.2M86.5 273.7h.2M193.5 260.7h.2M161.0 261.2h.2M129.7 272.1h.2M103.5 271.0h.2M255.7 271.0h.2M112.9 265.3h.2M183.8 260.0h.2M99.1 263.8h.2M123.9 262.9h.2M177.5 257.4h.2M185.0 259.5h.2M196.2 262.8h.2M182.8 263.2h.2M229.1 259.5h.2M196.5 267.7h.2M192.3 263.5h.2M83.5 271.0h.2M257.3 261.6h.2M127.4 269.9h.2M114.9 268.7h.2M98.5 265.5h.2M208.9 267.8h.2M98.6 262.9h.2M145.9 262.1h.2M122.5 261.4h.2M180.9 262.7h.2M191.3 264.9h.2M173.0 264.3h.2M231.7 268.2h.2M228.5 264.0h.2M211.9 262.3h.2M167.7 267.7h.2M210.8 265.1h.2M200.6 267.2h.2M252.3 256.2h.2M147.0 271.8h.2M202.6 276.7h.2M103.2 268.9h.2M258.7 268.8h.2M90.1 268.0h.2M217.5 272.0h.2M130.8 261.7h.2M211.8 272.5h.2M261.9 264.6h.2M129.4 266.7h.2M188.3 259.3h.2M210.7 265.0h.2M95.9 267.3h.2M193.2 269.9h.2M231.8 261.0h.2M104.4 269.2h.2M223.0 258.2h.2M121.0 260.3h.2M266.5 271.6h.2M166.4 268.8h.2M194.1 264.0h.2M153.5 272.3h.2M105.4 268.3h.2M99.7 270.9h.2M197.6 256.7h.2M83.2 265.3h.2M256.8 261.8h.2M142.5 269.1h.2M128.5 267.3h.2M195.3 266.3h.2M230.1 268.3h.2M227.4 272.7h.2M260.6 265.9h.2M250.4 262.9h.2M142.4 260.2h.2M222.5 267.4h.2M115.5 268.7h.2M230.5 269.9h.2M134.7 262.4h.2M218.6 264.2h.2M198.4 261.7h.2M256.9 272.1h.2M152.9 274.3h.2M123.8 267.7h.2M256.4 268.7h.2M115.0 269.1h.2M86.9 265.8h.2M113.5 256.6h.2M118.7 258.8h.2M240.3 273.3h.2M119.2 262.9h.2M214.7 262.6h.2M264.9 254.1h.2M101.3 252.0h.2M127.3 263.4h.2M136.3 257.3h.2M204.3 270.1h.2M245.9 257.8h.2M248.2 269.7h.2M259.8 263.0h.2M246.4 266.6h.2M247.4 263.7h.2M142.5 270.4h.2M267.5 265.6h.2M227.5 261.1h.2M131.1 253.6h.2M257.8 269.7h.2M84.8 272.4h.2M252.7 263.7h.2M143.7 265.8h.2M174.6 271.9h.2M206.2 266.0h.2M201.7 252.2h.2M137.1 272.6h.2M89.8 259.2h.2M194.7 272.0h.2M86.5 266.0h.2M264.7 262.8h.2M221.9 269.4h.2M96.2 265.7h.2M264.0 265.4h.2M133.9 266.0h.2M144.1 268.5h.2M96.8 255.3h.2M134.5 268.8h.2M209.2 267.2h.2M119.6 280.1h.2M130.4 263.9h.2M151.0 260.3h.2M183.5 266.6h.2M171.4 270.3h.2M180.8 263.4h.2M208.2 259.6h.2M116.3 262.9h.2M266.6 266.6h.2M235.7 259.3h.2M210.8 257.0h.2M174.7 263.4h.2M217.3 261.2h.2M163.4 281.2h.2M115.3 256.3h.2M185.0 263.3h.2M226.6 265.3h.2M220.0 253.3h.2M148.5 271.2h.2M132.7 272.1h.2M256.6 260.8h.2M117.2 272.3h.2M214.8 262.1h.2M149.9 268.6h.2M176.7 268.3h.2M222.7 269.5h.2M252.3 270.1h.2M97.2 260.1h.2M260.0 265.4h.2M215.4 274.2h.2M170.7 263.2h.2M177.9 264.3h.2M127.1 262.4h.2M176.4 270.0h.2M164.7 262.6h.2M160.2 262.4h.2M129.0 267.7h.2M115.0 263.5h.2M149.5 262.6h.2M130.6 271.3h.2M256.3 263.1h.2M162.3 263.4h.2M170.0 261.5h.2M249.5 271.0h.2M178.6 265.7h.2M120.0 269.5h.2M104.5 256.5h.2M116.6 258.0h.2M91.8 253.6h.2M164.7 262.5h.2M185.6 261.7h.2M117.9 272.1h.2M258.2 262.7h.2M150.7 259.6h.2M231.2 269.5h.2M242.5 257.1h.2M220.8 262.7h.2M265.4 262.0h.2M246.4 272.4h.2M173.1 270.2h.2M158.6 270.1h.2M194.6 258.2h.2M181.9 267.7h.2M219.4 269.1h.2M113.9 260.6h.2M253.6 269.5h.2M165.9 257.8h.2M139.8 279.3h.2M132.9 262.9h.2M242.4 264.1h.2M197.2 265.8h.2M88.6 265.7h.2M252.7 266.8h.2M102.8 257.1h.2M180.6 260.5h.2M147.5 268.4h.2M214.5 263.6h.2M135.2 260.8h.2M129.8 263.3h.2M169.1 259.5h.2M225.3 269.5h.2M230.9 269.6h.2M249.8 264.9h.2M138.7 263.1h.2M117.2 270.2h.2M186.0 259.3h.2M144.8 266.2h.2M92.8 273.4h.2M189.8 260.2h.2M135.5 271.0h.2M213.7 258.2h.2M130.1 251.4h.2M155.8 269.2h.2M210.4 262.8h.2M178.3 268.9h.2M108.6 256.1h.2M248.8 270.8h.2M255.9 267.1h.2M234.0 260.4h.2M203.9 271.0h.2M247.3 263.8h.2M184.7 272.9h.2M266.4 267.8h.2M258.5 265.0h.2M89.1 277.7h.2M258.8 272.0h.2M147.1 258.9h.2M212.4 266.2h.2M106.2 267.6h.2M241.8 258.8h.2M84.0 270.1h.2M176.4 257.0h.2M264.1 267.4h.2M266.5 262.4h.2M217.2 263.5h.2M161.2 268.1h.2M100.5 272.9h.2M100.6 271.7h.2M145.5 257.0h.2M165.8 273.0h.2M174.9 265.2h.2M86.7 262.0h.2M106.2 268.0h.2M89.1 260.5h.2M238.4 269.1h.2M246.9 268.2h.2M249.6 256.7h.2M169.7 265.6h.2M148.5 265.5h.2M156.8 268.9h.2M191.8 265.8h.2M117.1 255.9h.2M146.0 268.6h.2M226.4 272.8h.2M97.0 262.4h.2M188.7 260.7h.2M252.1 267.3h.2M136.7 259.3h.2M132.0 266.5h.2M262.1 253.7h.2M223.7 273.7h.2M180.1 267.4h.2M188.2 266.1h.2M246.9 264.9h.2M122.2 264.4h.2M134.5 260.1h.2M163.3 264.3h.2M237.2 268.1h.2M158.2 267.6h.2M241.5 263.9h.2M177.2 260.7h.2M230.2 275.1h.2M133.6 271.9h.2M224.9 268.9h.2M236.6 268.8h.2M135.6 271.1h.2M218.8 264.3h.2M109.9 264.0h.2M173.9 273.0h.2M192.0 259.8h.2M142.5 275.7h.2M184.2 263.7h.2M221.9 262.7h.2M202.6 256.0h.2M128.5 260.4h.2M145.9 259.0h.2M175.7 262.0h.2M140.3 261.7h.2M194.4 255.6h.2M259.3 266.9h.2M206.0 261.2h.2M236.6 271.6h.2M257.6 256.0h.2M251.9 256.7h.2M256.0 267.6h.2M255.8 265.9h.2M226.2 257.9h.2M145.8 259.2h.2M245.6 262.0h.2M213.3 271.5h.2M233.2 273.9h.2M244.6 262.4h.2M265.8 261.2h.2M259.2 256.4h.2M185.9 262.3h.2M217.2 266.9h.2M207.7 258.8h.2M106.1 261.0h.2M195.9 261.8h.2M128.4 265.0h.2M176.2 272.3h.2M146.4 272.5h.2M185.7 263.1h.2M258.3 259.1h.2M198.8 259.7h.2M139.8 266.7h.2M252.2 272.1h.2M214.1 264.2h.2M221.5 271.1h.2M98.0 268.6h.2M117.1 270.3h.2M261.4 269.1h.2M176.0 263.1h.2M171.6 264.9h.2M91.1 263.8h.2M219.7 260.7h.2M112.3 264.4h.2M195.6 258.9h.2M90.1 261.6h.2M117.8 262.2h.2M214.7 270.4h.2M103.0 269.2h.2M228.3 267.3h.2M255.9 255.8h.2M210.6 257.0h.2M137.9 266.2h.2M257.2 256.4h.2M175.7 268.0h.2M231.1 266.0h.2M263.8 266.2h.2M200.9 268.3h.2M257.7 265.9h.2M243.7 264.8h.2M237.2 266.7h.2M181.3 255.8h.2M180.8 264.9h.2M180.7 260.7h.2M192.4 264.7h.2M254.9 255.4h.2M194.4 257.1h.2M85.8 271.5h.2M188.6 265.4h.2M264.5 260.0h.2M249.8 265.8h.2M266.3 258.9h.2M163.2 268.4h.2M98.8 268.2h.2M137.6 267.6h.2M136.5 269.7h.2M142.7 262.5h.2M180.1 259.6h.2M204.4 265.1h.2M250.2 262.6h.2M188.6 280.7h.2M118.8 267.4h.2M88.9 260.4h.2M84.8 269.9h.2M168.5 254.6h.2M154.9 271.4h.2M249.5 265.5h.2M264.7 260.5h.2M148.1 260.0h.2M168.8 262.4h.2M158.7 273.4h.2M250.2 262.6h.2M108.5 267.2h.2M246.5 264.1h.2M212.2 278.2h.2M164.6 261.3h.2M226.1 265.5h.2M233.9 263.6h.2M131.8 264.9h.2M130.0 260.4h.2M122.9 272.3h.2M253.7 257.5h.2M148.9 270.7h.2M140.8 271.3h.2M221.7 273.2h.2M220.8 257.9h.2M170.4 258.6h.2M115.9 267.7h.2M93.4 271.1h.2M168.0 273.9h.2M115.2 274.7h.2M232.6 272.3h.2M152.5 266.0h.2M254.2 256.1h.2M177.5 271.6h.2M260.3 262.9h.2M160.8 258.5h.2M240.8 271.9h.2M130.5 259.4h.2M185.4 257.8h.2M253.7 270.1h.2M116.8 266.4h.2M220.7 260.5h.2M221.4 274.6h.2M201.2 266.2h.2M152.1 261.8h.2M175.4 272.8h.2M226.4 269.2h.2M123.9 261.6h.2M262.3 263.8h.2M267.7 265.0h.2M206.2 265.8h.2M131.4 264.6h.2M109.7 268.2h.2M225.9 266.7h.2M208.5 257.3h.2M255.0 267.1h.2M231.8 271.8h.2M212.1 277.1h.2M86.6 267.9h.2M122.6 259.7h.2M85.7 272.8h.2M142.2 270.2h.2M109.5 276.8h.2M114.3 268.8h.2M220.7 277.8h.2M172.0 271.5h.2M190.2 271.8h.2M135.5 271.8h.2M234.1 263.6h.2M182.4 261.0h.2M204.5 266.9h.2M194.2 263.5h.2M198.3 268.8h.2M149.6 260.8h.2M231.1 272.5h.2M231.1 270.5h.2M131.4 264.5h.2M129.9 267.5h.2M209.6 267.5h.2M180.1 259.7h.2M200.8 263.7h.2M131.6 255.5h.2M134.9 271.2h.2M243.2 272.9h.2M126.1 255.1h.2M179.1 260.9h.2M92.7 266.8h.2M196.0 267.3h.2M137.5 273.8h.2M153.4 264.6h.2M117.4 269.8h.2M191.2 265.3h.2M171.2 260.8h.2M152.7 257.5h.2M116.7 266.2h.2M157.2 264.6h.2M90.8 260.0h.2M94.6 268.6h.2M238.1 265.3h.2M159.2 271.8h.2M142.3 271.0h.2M223.9 257.9h.2M159.2 268.1h.2M158.5 259.0h.2M208.3 268.6h.2M198.2 267.2h.2M178.2 260.0h.2M233.1 272.1h.2M114.4 270.3h.2M183.0 257.0h.2M151.4 264.3h.2M94.5 269.3h.2M168.2 265.5h.2M264.6 250.5h.2M227.5 271.0h.2M88.8 260.7h.2M194.5 272.0h.2M222.3 261.6h.2M136.1 269.0h.2M231.5 264.4h.2M216.4 268.4h.2M166.0 266.3h.2M172.5 264.3h.2M221.9 262.8h.2M224.2 261.1h.2M100.8 270.2h.2M254.2 265.0h.2M223.2 253.1h.2M109.9 250.5h.2M248.2 255.7h.2M107.7 264.0h.2M268.0 258.9h.2M86.9 274.6h.2M87.7 260.0h.2M186.2 262.9h.2M212.6 261.6h.2M189.9 259.2h.2M172.4 261.6h.2M146.4 261.8h.2M102.8 267.7h.2M86.2 265.3h.2M205.6 256.0h.2M149.0 268.1h.2M245.9 266.8h.2M182.7 255.4h.2M99.4 255.4h.2M216.3 261.5h.2M168.6 271.5h.2M170.0 254.8h.2M111.4 266.2h.2M105.5 262.5h.2M134.2 255.5h.2M201.6 266.4h.2M230.6 257.1h.2M180.1 271.9h.2M137.4 256.7h.2M131.0 266.3h.2M95.3 274.1h.2M87.6 271.5h.2M186.1 259.9h.2M242.1 256.5h.2M140.2 268.1h.2M206.2 259.9h.2M146.3 260.5h.2M198.6 255.4h.2M210.0 261.9h.2M166.0 254.6h.2M97.6 257.0h.2M184.9 267.7h.2M194.7 258.1h.2M234.8 270.1h.2M139.8 265.1h.2M171.2 271.2h.2M213.4 273.8h.2M266.2 257.3h.2M168.5 261.3h.2M118.2 259.0h.2M191.3 264.5h.2M264.9 264.4h.2M86.8 267.4h.2M136.8 272.2h.2M190.7 266.2h.2M131.6 260.7h.2M180.9 271.4h.2M132.2 264.7h.2M186.8 277.4h.2M107.4 263.5h.2M133.0 266.1h.2M245.0 271.4h.2M139.8 263.9h.2M142.0 259.1h.2M178.4 265.5h.2M135.1 262.5h.2M211.9 256.7h.2M110.1 273.7h.2M161.9 270.5h.2M191.2 257.3h.2M111.9 266.4h.2M94.8 261.7h.2M210.6 263.0h.2M102.4 274.6h.2M92.1 265.7h.2M220.4 270.5h.2M255.9 266.6h.2M94.5 266.0h.2M201.1 270.0h.2M111.4 265.2h.2M239.2 272.3h.2M117.0 264.3h.2M168.3 265.9h.2M92.9 264.0h.2M198.0 266.2h.2M170.0 273.6h.2M117.5 262.9h.2M214.5 262.0h.2M139.7 267.9h.2M104.4 261.3h.2M168.7 263.8h.2M224.6 274.7h.2M237.1 276.2h.2M255.5 259.6h.2M251.7 263.3h.2M188.2 258.5h.2M139.1 270.8h.2M104.1 259.3h.2M203.9 260.5h.2M83.4 262.9h.2M87.6 268.9h.2M113.2 259.9h.2M247.8 265.6h.2M204.3 262.6h.2M111.5 272.7h.2M151.8 260.0h.2M212.5 278.7h.2M226.5 273.6h.2M95.3 272.0h.2M254.4 273.0h.2M107.4 267.8h.2M222.5 258.9h.2M227.6 267.6h.2M173.8 258.7h.2M238.9 259.4h.2M170.9 259.5h.2M155.5 259.8h.2M225.0 265.7h.2M229.5 260.7h.2M185.5 257.0h.2M216.4 272.3h.2M173.2 271.7h.2M246.1 256.2h.2M90.5 262.7h.2M235.5 270.7h.2M214.2 265.4h.2M173.4 263.9h.2M89.3 264.8h.2M126.0 270.1h.2M237.9 264.8h.2M203.4 255.6h.2M199.5 272.1h.2M224.3 267.8h.2M122.8 270.1h.2M265.1 267.6h.2M155.5 265.0h.2M237.0 272.5h.2M99.6 261.8h.2M86.5 257.8h.2M185.2 258.7h.2M152.4 262.5h.2M140.1 259.1h.2M267.8 263.5h.2M85.2 273.7h.2M204.7 269.6h.2M194.8 263.9h.2M151.2 265.1h.2M134.0 276.1h.2M120.2 258.0h.2M212.7 259.5h.2M253.6 271.8h.2M210.2 259.1h.2M190.3 255.6h.2M213.0 266.7h.2M162.9 272.0h.2M180.8 263.6h.2M166.5 269.1h.2M217.8 258.4h.2M97.8 259.9h.2M216.2 271.8h.2M112.1 270.7h.2M224.3 270.2h.2M228.0 262.6h.2M161.6 258.6h.2M174.7 256.5h.2M168.0 260.8h.2M128.1 261.7h.2M105.2 260.5h.2M126.8 257.3h.2M133.7 261.0h.2M129.6 257.9h.2M103.3 267.5h.2M204.6 264.4h.2M112.6 256.8h.2M178.0 268.8h.2M190.3 263.6h.2M168.8 258.5h.2M232.0 263.2h.2M186.6 268.3h.2M169.9 270.5h.2M83.0 272.2h.2M174.7 262.8h.2M104.3 260.1h.2M85.8 260.6h.2M165.4 274.2h.2M86.3 262.5h.2M102.6 254.9h.2M128.0 266.0h.2M257.8 269.0h.2M252.2 272.5h.2M154.6 279.0h.2M176.0 265.6h.2M210.2 268.7h.2M107.9 267.7h.2M229.5 271.2h.2M127.5 269.8h.2M143.6 263.9h.2M180.1 272.7h.2M200.4 256.1h.2M254.0 251.7h.2M166.5 271.8h.2M170.8 269.3h.2M131.2 262.0h.2M130.5 270.1h.2M191.2 277.1h.2M216.0 259.4h.2M197.9 267.3h.2M196.5 258.7h.2M242.0 268.1h.2M110.4 264.2h.2M212.2 276.7h.2M262.8 262.6h.2M244.6 265.1h.2M259.7 258.7h.2M147.6 267.4h.2M105.5 267.9h.2M141.1 258.7h.2M133.3 258.6h.2M176.7 257.4h.2M115.0 260.8h.2M169.9 257.8h.2M150.0 272.0h.2M214.2 273.4h.2M240.6 258.9h.2M129.6 269.8h.2M118.7 260.4h.2M103.7 265.8h.2M153.3 271.5h.2M216.0 262.5h.2M110.6 269.1h.2M144.8 265.8h.2M216.1 261.0h.2M244.9 258.2h.2M130.4 269.5h.2M167.5 273.4h.2M223.5 275.5h.2M204.8 276.1h.2M119.9 268.9h.2M249.0 245.4h.2M167.7 269.3h.2M201.6 265.0h.2M196.9 268.4h.2M225.3 275.3h.2M238.3 256.8h.2M232.3 265.1h.2M216.9 259.2h.2M127.7 264.3h.2M133.1 267.1h.2M184.7 259.8h.2M169.9 268.0h.2M177.9 258.4h.2M247.2 264.5h.2M220.6 272.4h.2M116.1 259.8h.2M130.4 262.4h.2M123.4 259.6h.2M122.5 271.1h.2M206.2 279.1h.2M108.6 268.5h.2M188.3 258.6h.2M219.0 263.8h.2M180.6 260.0h.2M220.0 261.1h.2M104.0 268.3h.2M156.3 266.1h.2M155.9 266.8h.2M231.3 269.7h.2M255.2 260.1h.2M131.5 267.4h.2M187.2 269.1h.2M263.3 259.0h.2M110.6 272.0h.2M257.3 261.7h.2M226.3 273.1h.2M137.0 272.3h.2M151.1 257.7h.2M173.1 262.6h.2M149.3 267.5h.2M268.3 258.9h.2M182.5 269.5h.2M114.5 261.0h.2M215.0 262.0h.2M256.9 262.8h.2M190.6 264.7h.2M199.8 263.4h.2M89.7 268.2h.2M250.3 268.4h.2M147.0 265.0h.2M194.9 259.4h.2M106.9 258.5h.2M168.4 256.1h.2M122.7 256.5h.2M255.6 268.3h.2M125.4 255.4h.2M133.2 259.9h.2M168.7 256.8h.2M184.8 260.4h.2M187.2 265.3h.2M268.3 269.5h.2M246.0 257.6h.2M259.5 268.1h.2M87.2 267.9h.2M224.3 265.7h.2M240.5 265.4h.2M270.0 262.8h.2M269.1 264.3h.2M271.6 259.7h.2M274.4 257.1h.2M276.6 265.0h.2M270.5 258.6h.2M273.3 261.6h.2M277.6 263.7h.2M270.8 266.0h.2M268.6 262.4h.2M271.9 264.1h.2M278.6 266.7h.2M274.9 265.0h.2M269.0 264.7h.2M272.3 268.0h.2M324.5 259.5h.2M345.0 257.5h.2M329.7 257.4h.2M334.9 258.1h.2M338.3 258.1h.2M319.6 258.8h.2M343.5 256.9h.2M335.9 255.8h.2M321.8 259.7h.2M321.1 258.3h.2M326.1 258.1h.2M329.7 257.7h.2M318.0 258.9h.2M342.0 257.0h.2M321.1 257.3h.2M338.7 257.1h.2M343.2 257.2h.2M339.3 256.9h.2M317.2 259.2h.2M339.5 256.5h.2M315.7 258.2h.2M342.3 258.3h.2M322.1 257.6h.2M336.8 257.7h.2M337.3 258.5h.2M342.8 257.6h.2M336.9 256.3h.2M315.7 258.8h.2M323.4 256.4h.2M324.7 258.7h.2M330.0 258.1h.2M321.4 258.8h.2M325.8 259.8h.2M316.1 259.0h.2M332.7 255.6h.2M315.0 258.6h.2M323.7 259.4h.2M342.1 256.8h.2M332.5 259.1h.2M321.6 257.8h.2M345.2 257.3h.2M339.0 257.4h.2M330.9 256.7h.2M320.3 259.4h.2M334.7 257.7h.2M342.2 256.6h.2M330.9 257.8h.2M338.2 254.9h.2M335.0 257.1h.2M355.2 252.6h.2M364.9 252.7h.2M368.1 252.2h.2M357.0 254.3h.2M371.2 252.8h.2M356.7 254.1h.2M353.5 251.9h.2M359.1 252.0h.2M355.4 255.3h.2M366.4 254.4h.2M357.9 251.8h.2M361.8 252.2h.2M352.3 255.3h.2M371.1 254.0h.2M354.8 253.3h.2M365.6 252.7h.2M359.5 253.4h.2M369.4 251.8h.2M367.7 254.3h.2M358.6 251.9h.2M363.7 251.2h.2M358.0 252.2h.2M352.3 252.5h.2M362.9 253.0h.2M364.4 254.2h.2M360.5 252.9h.2M371.5 249.8h.2M373.1 252.2h.2M359.7 254.3h.2M366.0 251.9h.2M355.8 252.2h.2M350.3 253.6h.2M370.6 253.4h.2M380.9 212.8h.2M388.0 212.4h.2M382.6 212.5h.2M388.2 212.2h.2M382.3 212.6h.2M378.8 212.3h.2M395.6 229.9h.2M382.8 230.1h.2M378.0 229.4h.2M378.5 229.7h.2M394.1 229.4h.2M384.7 229.3h.2M389.1 229.9h.2" stroke="#3a86d4" stroke-width="1.4" fill="none" opacity="0.85"/>
<path d="M337.4 257.6h.2M335.3 257.6h.2M314.7 259.6h.2M323.5 258.3h.2M319.9 259.5h.2M337.9 258.5h.2M344.1 256.7h.2M328.9 258.5h.2M329.9 258.5h.2M340.0 257.2h.2M330.4 259.2h.2M345.6 257.6h.2M329.4 258.8h.2M340.7 257.2h.2M343.1 257.3h.2M333.9 257.9h.2M314.0 259.2h.2M339.1 257.4h.2M319.2 258.9h.2M340.5 256.9h.2M327.7 258.1h.2M326.9 258.2h.2M345.6 257.8h.2M351.0 252.8h.2M346.8 256.3h.2M350.1 252.9h.2M347.9 255.1h.2M351.5 251.7h.2M351.0 252.2h.2M351.3 252.5h.2M350.6 252.8h.2M349.9 253.6h.2M351.0 252.5h.2M345.9 257.1h.2M348.4 254.4h.2M348.8 254.4h.2M347.1 255.9h.2M345.7 257.2h.2M357.9 252.1h.2M370.3 253.5h.2M372.2 250.5h.2M352.8 254.0h.2M372.2 254.9h.2M356.1 253.1h.2M373.9 252.2h.2M361.1 252.7h.2M363.8 253.3h.2M355.9 253.1h.2M350.0 251.2h.2M366.3 252.5h.2M357.4 253.5h.2M363.6 253.9h.2M372.8 251.7h.2M358.7 252.9h.2M371.4 250.2h.2M353.3 254.0h.2M356.7 251.9h.2M370.0 251.9h.2M352.8 251.8h.2M373.2 251.4h.2M385.7 207.5h.2M385.5 207.2h.2M383.8 207.1h.2M386.2 207.2h.2M384.9 207.3h.2M385.1 207.7h.2M382.1 211.7h.2M374.4 212.0h.2M384.2 212.6h.2M384.1 212.0h.2M389.2 212.7h.2M380.8 212.5h.2M385.9 212.3h.2M387.7 212.5h.2M388.9 212.0h.2M387.6 211.4h.2M388.6 211.6h.2M388.3 212.4h.2M382.2 225.6h.2M381.5 225.1h.2M380.5 225.9h.2M378.8 225.5h.2M378.8 225.1h.2M383.1 225.0h.2M378.4 225.0h.2M381.8 225.4h.2M378.4 225.9h.2M378.8 225.1h.2M386.3 229.6h.2M384.3 230.0h.2M396.6 229.9h.2M395.0 229.6h.2M394.1 230.2h.2M374.2 235.7h.2M373.3 236.8h.2M373.3 236.3h.2M374.2 233.9h.2M374.0 233.9h.2M373.8 234.0h.2M373.3 238.2h.2M372.6 236.9h.2M374.4 235.8h.2M374.6 234.5h.2M375.0 234.7h.2M373.9 235.3h.2M373.8 234.4h.2M373.3 237.1h.2M357.2 230.4h.2M358.2 230.4h.2M361.5 237.6h.2M362.5 237.6h.2M388.2 236.9h.2M389.2 236.9h.2M425.6 212.0h.2M426.6 212.0h.2M416.4 217.3h.2M417.4 217.3h.2M436.0 197.0h.2M437.0 197.0h.2M422.0 191.0h.2M423.0 191.0h.2M341.0 213.0h.2M342.0 213.0h.2M371.2 176.9h.2M372.2 176.9h.2M422.5 191.0h.2M423.5 191.0h.2M437.2 196.3h.2M438.2 196.3h.2M426.0 211.5h.2M427.0 211.5h.2M415.6 216.5h.2M416.6 216.5h.2" stroke="#1d56a2" stroke-width="1.4" fill="none" opacity="0.9"/>
</g>
<path d="M81.5,151.5 H498.5 V283.5 H81.5" fill="none" stroke="#2a2a2a" stroke-width="1.15"/>
<line x1="81.9" y1="150.9" x2="81.9" y2="284.1" stroke="#3a5c9e" stroke-width="1.9"/>
<line x1="141" y1="283.5" x2="141" y2="280.5" stroke="#222" stroke-width="1"/>
<line x1="200.5" y1="283.5" x2="200.5" y2="280.5" stroke="#222" stroke-width="1"/>
<line x1="260" y1="283.5" x2="260" y2="280.5" stroke="#222" stroke-width="1"/>
<line x1="319.5" y1="283.5" x2="319.5" y2="280.5" stroke="#222" stroke-width="1"/>
<line x1="379" y1="283.5" x2="379" y2="280.5" stroke="#222" stroke-width="1"/>
<line x1="438.5" y1="283.5" x2="438.5" y2="280.5" stroke="#222" stroke-width="1"/>
<line x1="81.5" y1="239.5" x2="84.5" y2="239.5" stroke="#222" stroke-width="1"/>
<line x1="81.5" y1="195.5" x2="84.5" y2="195.5" stroke="#222" stroke-width="1"/>
<line x1="268.8" y1="152.3" x2="268.8" y2="283.5" stroke="#222" stroke-width="1.3" stroke-dasharray="2.6 3.1"/>
<line x1="308.2" y1="152.3" x2="308.2" y2="283.5" stroke="#222" stroke-width="1.3" stroke-dasharray="2.6 3.1"/>
<line x1="356.4" y1="152.3" x2="356.4" y2="283.5" stroke="#222" stroke-width="1.3" stroke-dasharray="2.6 3.1"/>
<line x1="440.5" y1="152.3" x2="440.5" y2="283.5" stroke="#222" stroke-width="1.3" stroke-dasharray="2.6 3.1"/>
<line x1="268.8" y1="152.3" x2="308.2" y2="152.3" stroke="#333" stroke-width="0.8" stroke-dasharray="2.6 3.1"/>
<circle cx="288.5" cy="169.5" r="10.4" fill="none" stroke="#222" stroke-width="1.2"/>
<text x="288.5" y="174.3" text-anchor="middle" class="rn">I</text>
<circle cx="334.7" cy="169.7" r="10.4" fill="none" stroke="#222" stroke-width="1.2"/>
<text x="334.7" y="174.5" text-anchor="middle" class="rn">II</text>
<circle cx="398.8" cy="169.7" r="10.4" fill="none" stroke="#222" stroke-width="1.2"/>
<text x="398.8" y="174.5" text-anchor="middle" class="rn">III</text>
<circle cx="472.0" cy="170.0" r="10.4" fill="none" stroke="#222" stroke-width="1.2"/>
<text x="472.0" y="174.8" text-anchor="middle" class="rn">IV</text>
<text x="241.2" y="184.3" text-anchor="end" class="ax">radiation</text>
<text x="241.2" y="202.0" text-anchor="end" class="ax">transmission start</text>
<line x1="243" y1="188.7" x2="262.5" y2="188.7" stroke="#444" stroke-width="0.9"/>
<path d="M261.6,186.6L266.2,188.7L261.6,190.8z" fill="#111"/>
<text x="68.7" y="155.9" text-anchor="end" class="ax">6000</text>
<text x="68.6" y="200.1" text-anchor="end" class="ax">µm</text>
<text x="68.7" y="243.6" text-anchor="end" class="ax">2000</text>
<text x="68.7" y="287.6" text-anchor="end" class="ax">0</text>
<text x="83.2" y="305.9" text-anchor="middle" class="ax">0,4</text>
<text x="143.2" y="305.9" text-anchor="middle" class="ax">0,5</text>
<text x="202.6" y="305.9" text-anchor="middle" class="ax">0,6</text>
<text x="261.9" y="305.9" text-anchor="middle" class="ax">0,7</text>
<text x="321.5" y="305.9" text-anchor="middle" class="ax">0,8</text>
<text x="381.4" y="305.9" text-anchor="middle" class="ax">0,9</text>
<text x="440.7" y="305.9" text-anchor="middle" class="ax">mm</text>
<text x="499.2" y="305.9" text-anchor="middle" class="ax">1,1</text>
<text x="168.3" y="326.6" class="ax" style="font-size:14.6px">offset from web sheet centerline</text>
<text transform="translate(28,218) rotate(-90)" text-anchor="middle" class="ax">OCT raw data</text>
<text x="1.5" y="345" class="ft">Mattulat 2023</text>
<text x="520.6" y="345" text-anchor="end" class="ft">BIAS ID 230250</text>
</svg>
</body></html>
